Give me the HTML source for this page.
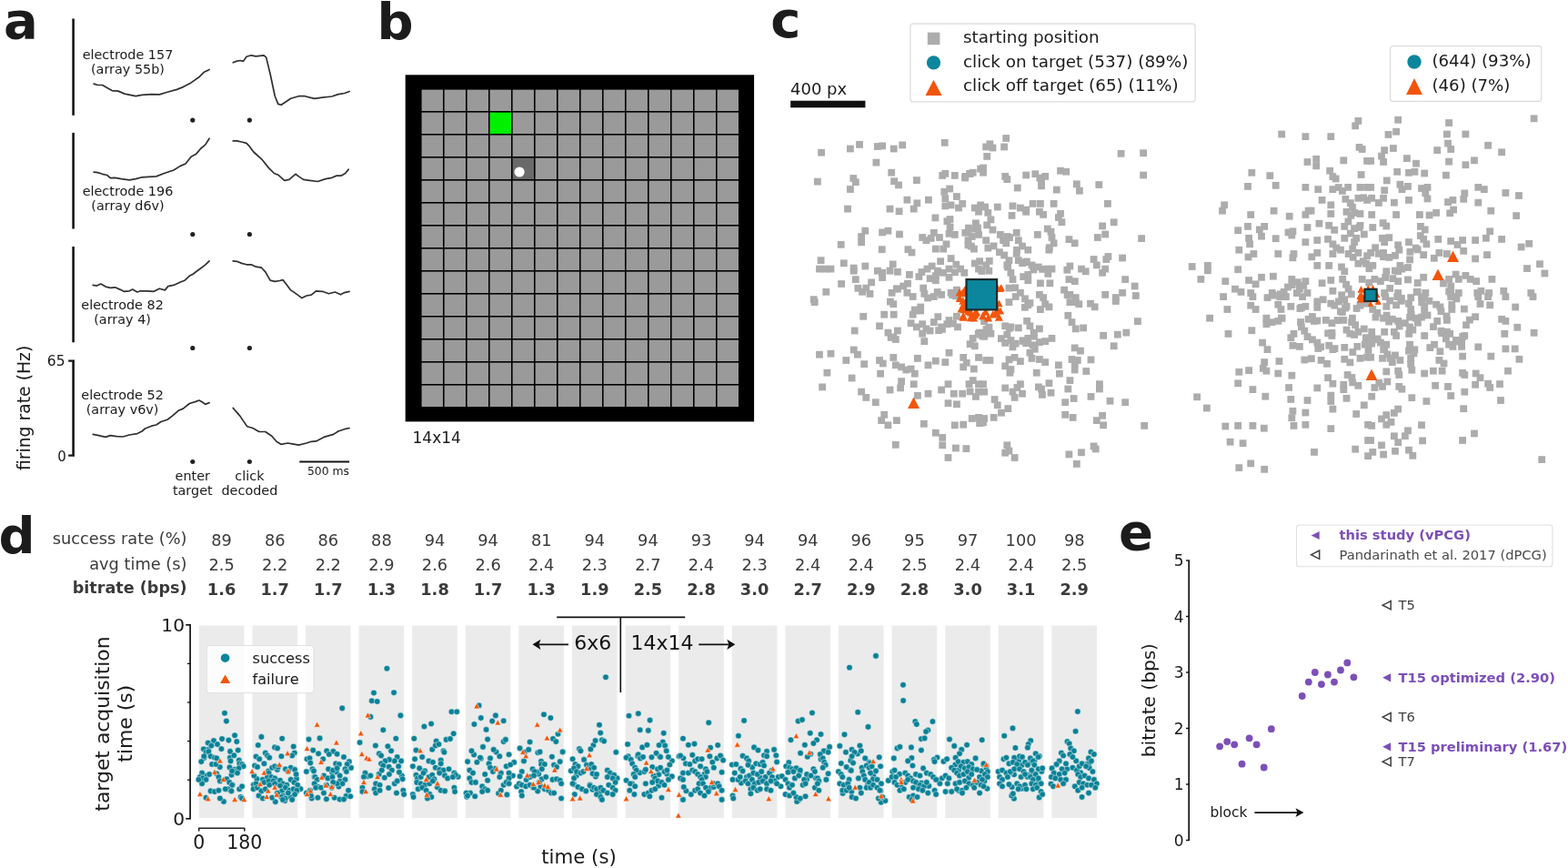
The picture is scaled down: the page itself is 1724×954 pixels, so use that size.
<!DOCTYPE html><html><head><meta charset="utf-8"><title>figure</title><style>html,body{margin:0;padding:0;background:#fff;}svg{display:block;}text{font-family:'DejaVu Sans', 'Liberation Sans', sans-serif;}</style></head><body>
<svg width="1724" height="954" viewBox="0 0 1724 954">
<rect x="0" y="0" width="1724" height="954" fill="#fff"/>
<text x="4" y="42" font-size="56" text-anchor="start" font-weight="bold" fill="#1c1c1c" >a</text>
<text x="414.5" y="43.3" font-size="56" text-anchor="start" font-weight="bold" fill="#1c1c1c" >b</text>
<text x="847.3" y="40.5" font-size="56" text-anchor="start" font-weight="bold" fill="#1c1c1c" >c</text>
<text x="-1.5" y="607.5" font-size="56" text-anchor="start" font-weight="bold" fill="#1c1c1c" >d</text>
<text x="1230" y="604.3" font-size="56" text-anchor="start" font-weight="bold" fill="#1c1c1c" >e</text>
<polyline points="103.1,92.1 107.4,93.5 112.6,93.5 117.8,96.6 123.1,99.6 130,100.1 137,103.1 149.2,105.7 156.1,104.3 166.6,103.6 175.3,103.9 184,101.3 194.4,98.4 201.4,95.6 210.1,90.9 218.8,84.8 224,79.6 230.1,76.4" fill="none" stroke="#303030" stroke-width="1.7" stroke-linejoin="round" stroke-linecap="round" />
<polyline points="256.2,68.8 259.7,67.4 264,66.5 267.5,67.4 271,62.2 276.2,60.8 281.4,61.8 290.1,60.8 292.7,63.1 297.1,81.3 302.3,105.7 305.8,114.4 309.2,115.3 314.5,111.8 319.7,108.3 328.4,105.7 335.3,105.7 340.6,107.1 345.8,108.3 354.5,107.1 364.9,106 371.9,103.6 378.8,102.5 384.1,100.5" fill="none" stroke="#303030" stroke-width="1.7" stroke-linejoin="round" stroke-linecap="round" />
<polyline points="103.1,189.2 107.4,189.6 112.6,191.3 117.8,192.5 121.3,195.7 126.5,195.3 133.5,196.6 142.2,197.8 149.2,196.6 156.1,194.8 163.1,194.3 171.8,193.9 180.5,190.5 190.9,187 197.9,182.6 204,180 210.1,172.2 215.3,169.6 220.5,163.5 225.7,159.1 230.1,152.2" fill="none" stroke="#303030" stroke-width="1.7" stroke-linejoin="round" stroke-linecap="round" />
<polyline points="256.2,154.8 260.5,154.8 265.7,156 271,157.4 274.4,160.9 278.8,167 288.4,175.7 295.3,184.4 301.4,190.5 305.8,192.2 312.7,198.3 317.9,197.4 324.9,191.3 328.4,193.9 333.6,197.4 340.6,198.3 349.3,199.5 358,196.6 364.9,195.3 370.1,193.1 375.4,193.1 379.7,190.5 383.2,186.1" fill="none" stroke="#303030" stroke-width="1.7" stroke-linejoin="round" stroke-linecap="round" />
<polyline points="102.2,313.4 106.5,314.1 110.9,312 116.1,315.1 121.3,316.3 126.5,315.8 131.8,318.1 136.1,320.3 142.2,319.8 145.7,318.1 150.9,321 154.4,319.8 161.3,319.8 169.2,320.3 175.3,317.2 181.4,318.9 184.8,314.6 190.9,313.4 197.9,310.2 203.1,308.2 208.3,303.3 211.8,301.5 218.8,296.3 225.7,291.1 230.1,286.8" fill="none" stroke="#303030" stroke-width="1.7" stroke-linejoin="round" stroke-linecap="round" />
<polyline points="256.2,286.8 260.5,287.3 265.7,289.4 271,290.8 276.2,290.8 281.4,293.2 287.5,294.2 291.8,298.9 297.1,308.2 302.3,309.4 307.5,308.5 311,307.6 314.5,312 319.7,318.9 324.9,322.4 331.9,327.6 337.1,325 342.3,324.2 347.5,319.8 354.5,320.3 361.4,322.8 368.4,321 374.5,323.8 378.8,321.6 384.1,320.3" fill="none" stroke="#303030" stroke-width="1.7" stroke-linejoin="round" stroke-linecap="round" />
<polyline points="102.2,477.4 107.4,478.3 116.1,480.4 121.3,478.6 128.3,479.7 135.2,480 142.2,478 150.9,476.6 156.1,474 159.6,471 166.6,468.2 171.8,467 177,463.5 184,461.2 189.2,457.4 196.1,451.3 201.4,449.1 208.3,443.5 215.3,441.4 218.8,440 222.2,441.8 225.7,444.4 230.1,442.6" fill="none" stroke="#303030" stroke-width="1.7" stroke-linejoin="round" stroke-linecap="round" />
<polyline points="256.2,448.4 264,457.4 267.5,462.6 271.8,468.7 277.9,470.5 284.9,474.5 291.8,474.5 298.8,479.2 304,485.3 309.2,488.4 316.2,487 321.4,487.9 328.4,489.1 337.1,487 342.3,485.3 347.5,484.9 356.2,480.4 366.7,477.4 371.9,474 378.8,471.7 384.1,470.5" fill="none" stroke="#303030" stroke-width="1.7" stroke-linejoin="round" stroke-linecap="round" />
<line x1="80.6" y1="20.5" x2="80.6" y2="126.8" stroke="#151515" stroke-width="2.6" />
<line x1="80.6" y1="145.9" x2="80.6" y2="251.5" stroke="#151515" stroke-width="2.6" />
<line x1="80.6" y1="271" x2="80.6" y2="376.3" stroke="#151515" stroke-width="2.6" />
<line x1="80.6" y1="395.9" x2="80.6" y2="501.3" stroke="#151515" stroke-width="2.6" />
<line x1="75.2" y1="396.6" x2="81.9" y2="396.6" stroke="#151515" stroke-width="2.2" />
<line x1="75.2" y1="500.6" x2="81.9" y2="500.6" stroke="#151515" stroke-width="2.2" />
<text x="71.5" y="401.8" font-size="15.5" text-anchor="end" font-weight="normal" fill="#1a1a1a" >65</text>
<text x="72.8" y="506.5" font-size="15" text-anchor="end" font-weight="normal" fill="#1a1a1a" >0</text>
<circle cx="211.8" cy="132.1" r="2.6" fill="#222"/>
<circle cx="274.4" cy="132.1" r="2.6" fill="#222"/>
<circle cx="211.8" cy="257.5" r="2.6" fill="#222"/>
<circle cx="274.4" cy="257.5" r="2.6" fill="#222"/>
<circle cx="211.8" cy="382.5" r="2.6" fill="#222"/>
<circle cx="274.4" cy="382.5" r="2.6" fill="#222"/>
<circle cx="211.8" cy="507.5" r="2.6" fill="#222"/>
<circle cx="274.4" cy="507.5" r="2.6" fill="#222"/>
<text x="140.5" y="64.6" font-size="14.4" text-anchor="middle" font-weight="normal" fill="#1a1a1a" >electrode 157</text>
<text x="140.5" y="80.7" font-size="14.4" text-anchor="middle" font-weight="normal" fill="#1a1a1a" >(array 55b)</text>
<text x="140.5" y="214.8" font-size="14.4" text-anchor="middle" font-weight="normal" fill="#1a1a1a" >electrode 196</text>
<text x="140.5" y="230.9" font-size="14.4" text-anchor="middle" font-weight="normal" fill="#1a1a1a" >(array d6v)</text>
<text x="134.6" y="339.8" font-size="14.4" text-anchor="middle" font-weight="normal" fill="#1a1a1a" >electrode 82</text>
<text x="134.6" y="355.9" font-size="14.4" text-anchor="middle" font-weight="normal" fill="#1a1a1a" >(array 4)</text>
<text x="134.6" y="439.2" font-size="14.4" text-anchor="middle" font-weight="normal" fill="#1a1a1a" >electrode 52</text>
<text x="134.6" y="455.3" font-size="14.4" text-anchor="middle" font-weight="normal" fill="#1a1a1a" >(array v6v)</text>
<text x="0" y="0" font-size="18.8" text-anchor="middle" fill="#1a1a1a" transform="translate(33.2,448.4) rotate(-90)">firing rate (Hz)</text>
<line x1="329.3" y1="507.5" x2="384.1" y2="507.5" stroke="#151515" stroke-width="2.2" />
<text x="361" y="521.5" font-size="12.4" text-anchor="middle" font-weight="normal" fill="#1a1a1a" >500 ms</text>
<text x="211.8" y="527.5" font-size="14.4" text-anchor="middle" font-weight="normal" fill="#1a1a1a" >enter</text>
<text x="211.8" y="544" font-size="14.4" text-anchor="middle" font-weight="normal" fill="#1a1a1a" >target</text>
<text x="274.4" y="527.5" font-size="14.4" text-anchor="middle" font-weight="normal" fill="#1a1a1a" >click</text>
<text x="274.4" y="544" font-size="14.4" text-anchor="middle" font-weight="normal" fill="#1a1a1a" >decoded</text>
<rect x="445.7" y="82.3" width="383.4" height="381.1" fill="#000"/>
<rect x="463.6" y="98.6" width="23.4" height="23.4" fill="#9a9a9a"/>
<rect x="488.6" y="98.6" width="23.4" height="23.4" fill="#9a9a9a"/>
<rect x="513.6" y="98.6" width="23.4" height="23.4" fill="#9a9a9a"/>
<rect x="538.6" y="98.6" width="23.4" height="23.4" fill="#9a9a9a"/>
<rect x="563.6" y="98.6" width="23.4" height="23.4" fill="#9a9a9a"/>
<rect x="588.6" y="98.6" width="23.4" height="23.4" fill="#9a9a9a"/>
<rect x="613.6" y="98.6" width="23.4" height="23.4" fill="#9a9a9a"/>
<rect x="638.6" y="98.6" width="23.4" height="23.4" fill="#9a9a9a"/>
<rect x="663.6" y="98.6" width="23.4" height="23.4" fill="#9a9a9a"/>
<rect x="688.6" y="98.6" width="23.4" height="23.4" fill="#9a9a9a"/>
<rect x="713.6" y="98.6" width="23.4" height="23.4" fill="#9a9a9a"/>
<rect x="738.6" y="98.6" width="23.4" height="23.4" fill="#9a9a9a"/>
<rect x="763.6" y="98.6" width="23.4" height="23.4" fill="#9a9a9a"/>
<rect x="788.6" y="98.6" width="23.4" height="23.4" fill="#9a9a9a"/>
<rect x="463.6" y="123.6" width="23.4" height="23.4" fill="#9a9a9a"/>
<rect x="488.6" y="123.6" width="23.4" height="23.4" fill="#9a9a9a"/>
<rect x="513.6" y="123.6" width="23.4" height="23.4" fill="#9a9a9a"/>
<rect x="538.6" y="123.6" width="23.4" height="23.4" fill="#00f000"/>
<rect x="563.6" y="123.6" width="23.4" height="23.4" fill="#9a9a9a"/>
<rect x="588.6" y="123.6" width="23.4" height="23.4" fill="#9a9a9a"/>
<rect x="613.6" y="123.6" width="23.4" height="23.4" fill="#9a9a9a"/>
<rect x="638.6" y="123.6" width="23.4" height="23.4" fill="#9a9a9a"/>
<rect x="663.6" y="123.6" width="23.4" height="23.4" fill="#9a9a9a"/>
<rect x="688.6" y="123.6" width="23.4" height="23.4" fill="#9a9a9a"/>
<rect x="713.6" y="123.6" width="23.4" height="23.4" fill="#9a9a9a"/>
<rect x="738.6" y="123.6" width="23.4" height="23.4" fill="#9a9a9a"/>
<rect x="763.6" y="123.6" width="23.4" height="23.4" fill="#9a9a9a"/>
<rect x="788.6" y="123.6" width="23.4" height="23.4" fill="#9a9a9a"/>
<rect x="463.6" y="148.6" width="23.4" height="23.4" fill="#9a9a9a"/>
<rect x="488.6" y="148.6" width="23.4" height="23.4" fill="#9a9a9a"/>
<rect x="513.6" y="148.6" width="23.4" height="23.4" fill="#9a9a9a"/>
<rect x="538.6" y="148.6" width="23.4" height="23.4" fill="#9a9a9a"/>
<rect x="563.6" y="148.6" width="23.4" height="23.4" fill="#9a9a9a"/>
<rect x="588.6" y="148.6" width="23.4" height="23.4" fill="#9a9a9a"/>
<rect x="613.6" y="148.6" width="23.4" height="23.4" fill="#9a9a9a"/>
<rect x="638.6" y="148.6" width="23.4" height="23.4" fill="#9a9a9a"/>
<rect x="663.6" y="148.6" width="23.4" height="23.4" fill="#9a9a9a"/>
<rect x="688.6" y="148.6" width="23.4" height="23.4" fill="#9a9a9a"/>
<rect x="713.6" y="148.6" width="23.4" height="23.4" fill="#9a9a9a"/>
<rect x="738.6" y="148.6" width="23.4" height="23.4" fill="#9a9a9a"/>
<rect x="763.6" y="148.6" width="23.4" height="23.4" fill="#9a9a9a"/>
<rect x="788.6" y="148.6" width="23.4" height="23.4" fill="#9a9a9a"/>
<rect x="463.6" y="173.6" width="23.4" height="23.4" fill="#9a9a9a"/>
<rect x="488.6" y="173.6" width="23.4" height="23.4" fill="#9a9a9a"/>
<rect x="513.6" y="173.6" width="23.4" height="23.4" fill="#9a9a9a"/>
<rect x="538.6" y="173.6" width="23.4" height="23.4" fill="#9a9a9a"/>
<rect x="563.6" y="173.6" width="23.4" height="23.4" fill="#6a6a6a"/>
<rect x="588.6" y="173.6" width="23.4" height="23.4" fill="#9a9a9a"/>
<rect x="613.6" y="173.6" width="23.4" height="23.4" fill="#9a9a9a"/>
<rect x="638.6" y="173.6" width="23.4" height="23.4" fill="#9a9a9a"/>
<rect x="663.6" y="173.6" width="23.4" height="23.4" fill="#9a9a9a"/>
<rect x="688.6" y="173.6" width="23.4" height="23.4" fill="#9a9a9a"/>
<rect x="713.6" y="173.6" width="23.4" height="23.4" fill="#9a9a9a"/>
<rect x="738.6" y="173.6" width="23.4" height="23.4" fill="#9a9a9a"/>
<rect x="763.6" y="173.6" width="23.4" height="23.4" fill="#9a9a9a"/>
<rect x="788.6" y="173.6" width="23.4" height="23.4" fill="#9a9a9a"/>
<rect x="463.6" y="198.6" width="23.4" height="23.4" fill="#9a9a9a"/>
<rect x="488.6" y="198.6" width="23.4" height="23.4" fill="#9a9a9a"/>
<rect x="513.6" y="198.6" width="23.4" height="23.4" fill="#9a9a9a"/>
<rect x="538.6" y="198.6" width="23.4" height="23.4" fill="#9a9a9a"/>
<rect x="563.6" y="198.6" width="23.4" height="23.4" fill="#9a9a9a"/>
<rect x="588.6" y="198.6" width="23.4" height="23.4" fill="#9a9a9a"/>
<rect x="613.6" y="198.6" width="23.4" height="23.4" fill="#9a9a9a"/>
<rect x="638.6" y="198.6" width="23.4" height="23.4" fill="#9a9a9a"/>
<rect x="663.6" y="198.6" width="23.4" height="23.4" fill="#9a9a9a"/>
<rect x="688.6" y="198.6" width="23.4" height="23.4" fill="#9a9a9a"/>
<rect x="713.6" y="198.6" width="23.4" height="23.4" fill="#9a9a9a"/>
<rect x="738.6" y="198.6" width="23.4" height="23.4" fill="#9a9a9a"/>
<rect x="763.6" y="198.6" width="23.4" height="23.4" fill="#9a9a9a"/>
<rect x="788.6" y="198.6" width="23.4" height="23.4" fill="#9a9a9a"/>
<rect x="463.6" y="223.6" width="23.4" height="23.4" fill="#9a9a9a"/>
<rect x="488.6" y="223.6" width="23.4" height="23.4" fill="#9a9a9a"/>
<rect x="513.6" y="223.6" width="23.4" height="23.4" fill="#9a9a9a"/>
<rect x="538.6" y="223.6" width="23.4" height="23.4" fill="#9a9a9a"/>
<rect x="563.6" y="223.6" width="23.4" height="23.4" fill="#9a9a9a"/>
<rect x="588.6" y="223.6" width="23.4" height="23.4" fill="#9a9a9a"/>
<rect x="613.6" y="223.6" width="23.4" height="23.4" fill="#9a9a9a"/>
<rect x="638.6" y="223.6" width="23.4" height="23.4" fill="#9a9a9a"/>
<rect x="663.6" y="223.6" width="23.4" height="23.4" fill="#9a9a9a"/>
<rect x="688.6" y="223.6" width="23.4" height="23.4" fill="#9a9a9a"/>
<rect x="713.6" y="223.6" width="23.4" height="23.4" fill="#9a9a9a"/>
<rect x="738.6" y="223.6" width="23.4" height="23.4" fill="#9a9a9a"/>
<rect x="763.6" y="223.6" width="23.4" height="23.4" fill="#9a9a9a"/>
<rect x="788.6" y="223.6" width="23.4" height="23.4" fill="#9a9a9a"/>
<rect x="463.6" y="248.6" width="23.4" height="23.4" fill="#9a9a9a"/>
<rect x="488.6" y="248.6" width="23.4" height="23.4" fill="#9a9a9a"/>
<rect x="513.6" y="248.6" width="23.4" height="23.4" fill="#9a9a9a"/>
<rect x="538.6" y="248.6" width="23.4" height="23.4" fill="#9a9a9a"/>
<rect x="563.6" y="248.6" width="23.4" height="23.4" fill="#9a9a9a"/>
<rect x="588.6" y="248.6" width="23.4" height="23.4" fill="#9a9a9a"/>
<rect x="613.6" y="248.6" width="23.4" height="23.4" fill="#9a9a9a"/>
<rect x="638.6" y="248.6" width="23.4" height="23.4" fill="#9a9a9a"/>
<rect x="663.6" y="248.6" width="23.4" height="23.4" fill="#9a9a9a"/>
<rect x="688.6" y="248.6" width="23.4" height="23.4" fill="#9a9a9a"/>
<rect x="713.6" y="248.6" width="23.4" height="23.4" fill="#9a9a9a"/>
<rect x="738.6" y="248.6" width="23.4" height="23.4" fill="#9a9a9a"/>
<rect x="763.6" y="248.6" width="23.4" height="23.4" fill="#9a9a9a"/>
<rect x="788.6" y="248.6" width="23.4" height="23.4" fill="#9a9a9a"/>
<rect x="463.6" y="273.6" width="23.4" height="23.4" fill="#9a9a9a"/>
<rect x="488.6" y="273.6" width="23.4" height="23.4" fill="#9a9a9a"/>
<rect x="513.6" y="273.6" width="23.4" height="23.4" fill="#9a9a9a"/>
<rect x="538.6" y="273.6" width="23.4" height="23.4" fill="#9a9a9a"/>
<rect x="563.6" y="273.6" width="23.4" height="23.4" fill="#9a9a9a"/>
<rect x="588.6" y="273.6" width="23.4" height="23.4" fill="#9a9a9a"/>
<rect x="613.6" y="273.6" width="23.4" height="23.4" fill="#9a9a9a"/>
<rect x="638.6" y="273.6" width="23.4" height="23.4" fill="#9a9a9a"/>
<rect x="663.6" y="273.6" width="23.4" height="23.4" fill="#9a9a9a"/>
<rect x="688.6" y="273.6" width="23.4" height="23.4" fill="#9a9a9a"/>
<rect x="713.6" y="273.6" width="23.4" height="23.4" fill="#9a9a9a"/>
<rect x="738.6" y="273.6" width="23.4" height="23.4" fill="#9a9a9a"/>
<rect x="763.6" y="273.6" width="23.4" height="23.4" fill="#9a9a9a"/>
<rect x="788.6" y="273.6" width="23.4" height="23.4" fill="#9a9a9a"/>
<rect x="463.6" y="298.6" width="23.4" height="23.4" fill="#9a9a9a"/>
<rect x="488.6" y="298.6" width="23.4" height="23.4" fill="#9a9a9a"/>
<rect x="513.6" y="298.6" width="23.4" height="23.4" fill="#9a9a9a"/>
<rect x="538.6" y="298.6" width="23.4" height="23.4" fill="#9a9a9a"/>
<rect x="563.6" y="298.6" width="23.4" height="23.4" fill="#9a9a9a"/>
<rect x="588.6" y="298.6" width="23.4" height="23.4" fill="#9a9a9a"/>
<rect x="613.6" y="298.6" width="23.4" height="23.4" fill="#9a9a9a"/>
<rect x="638.6" y="298.6" width="23.4" height="23.4" fill="#9a9a9a"/>
<rect x="663.6" y="298.6" width="23.4" height="23.4" fill="#9a9a9a"/>
<rect x="688.6" y="298.6" width="23.4" height="23.4" fill="#9a9a9a"/>
<rect x="713.6" y="298.6" width="23.4" height="23.4" fill="#9a9a9a"/>
<rect x="738.6" y="298.6" width="23.4" height="23.4" fill="#9a9a9a"/>
<rect x="763.6" y="298.6" width="23.4" height="23.4" fill="#9a9a9a"/>
<rect x="788.6" y="298.6" width="23.4" height="23.4" fill="#9a9a9a"/>
<rect x="463.6" y="323.6" width="23.4" height="23.4" fill="#9a9a9a"/>
<rect x="488.6" y="323.6" width="23.4" height="23.4" fill="#9a9a9a"/>
<rect x="513.6" y="323.6" width="23.4" height="23.4" fill="#9a9a9a"/>
<rect x="538.6" y="323.6" width="23.4" height="23.4" fill="#9a9a9a"/>
<rect x="563.6" y="323.6" width="23.4" height="23.4" fill="#9a9a9a"/>
<rect x="588.6" y="323.6" width="23.4" height="23.4" fill="#9a9a9a"/>
<rect x="613.6" y="323.6" width="23.4" height="23.4" fill="#9a9a9a"/>
<rect x="638.6" y="323.6" width="23.4" height="23.4" fill="#9a9a9a"/>
<rect x="663.6" y="323.6" width="23.4" height="23.4" fill="#9a9a9a"/>
<rect x="688.6" y="323.6" width="23.4" height="23.4" fill="#9a9a9a"/>
<rect x="713.6" y="323.6" width="23.4" height="23.4" fill="#9a9a9a"/>
<rect x="738.6" y="323.6" width="23.4" height="23.4" fill="#9a9a9a"/>
<rect x="763.6" y="323.6" width="23.4" height="23.4" fill="#9a9a9a"/>
<rect x="788.6" y="323.6" width="23.4" height="23.4" fill="#9a9a9a"/>
<rect x="463.6" y="348.6" width="23.4" height="23.4" fill="#9a9a9a"/>
<rect x="488.6" y="348.6" width="23.4" height="23.4" fill="#9a9a9a"/>
<rect x="513.6" y="348.6" width="23.4" height="23.4" fill="#9a9a9a"/>
<rect x="538.6" y="348.6" width="23.4" height="23.4" fill="#9a9a9a"/>
<rect x="563.6" y="348.6" width="23.4" height="23.4" fill="#9a9a9a"/>
<rect x="588.6" y="348.6" width="23.4" height="23.4" fill="#9a9a9a"/>
<rect x="613.6" y="348.6" width="23.4" height="23.4" fill="#9a9a9a"/>
<rect x="638.6" y="348.6" width="23.4" height="23.4" fill="#9a9a9a"/>
<rect x="663.6" y="348.6" width="23.4" height="23.4" fill="#9a9a9a"/>
<rect x="688.6" y="348.6" width="23.4" height="23.4" fill="#9a9a9a"/>
<rect x="713.6" y="348.6" width="23.4" height="23.4" fill="#9a9a9a"/>
<rect x="738.6" y="348.6" width="23.4" height="23.4" fill="#9a9a9a"/>
<rect x="763.6" y="348.6" width="23.4" height="23.4" fill="#9a9a9a"/>
<rect x="788.6" y="348.6" width="23.4" height="23.4" fill="#9a9a9a"/>
<rect x="463.6" y="373.6" width="23.4" height="23.4" fill="#9a9a9a"/>
<rect x="488.6" y="373.6" width="23.4" height="23.4" fill="#9a9a9a"/>
<rect x="513.6" y="373.6" width="23.4" height="23.4" fill="#9a9a9a"/>
<rect x="538.6" y="373.6" width="23.4" height="23.4" fill="#9a9a9a"/>
<rect x="563.6" y="373.6" width="23.4" height="23.4" fill="#9a9a9a"/>
<rect x="588.6" y="373.6" width="23.4" height="23.4" fill="#9a9a9a"/>
<rect x="613.6" y="373.6" width="23.4" height="23.4" fill="#9a9a9a"/>
<rect x="638.6" y="373.6" width="23.4" height="23.4" fill="#9a9a9a"/>
<rect x="663.6" y="373.6" width="23.4" height="23.4" fill="#9a9a9a"/>
<rect x="688.6" y="373.6" width="23.4" height="23.4" fill="#9a9a9a"/>
<rect x="713.6" y="373.6" width="23.4" height="23.4" fill="#9a9a9a"/>
<rect x="738.6" y="373.6" width="23.4" height="23.4" fill="#9a9a9a"/>
<rect x="763.6" y="373.6" width="23.4" height="23.4" fill="#9a9a9a"/>
<rect x="788.6" y="373.6" width="23.4" height="23.4" fill="#9a9a9a"/>
<rect x="463.6" y="398.6" width="23.4" height="23.4" fill="#9a9a9a"/>
<rect x="488.6" y="398.6" width="23.4" height="23.4" fill="#9a9a9a"/>
<rect x="513.6" y="398.6" width="23.4" height="23.4" fill="#9a9a9a"/>
<rect x="538.6" y="398.6" width="23.4" height="23.4" fill="#9a9a9a"/>
<rect x="563.6" y="398.6" width="23.4" height="23.4" fill="#9a9a9a"/>
<rect x="588.6" y="398.6" width="23.4" height="23.4" fill="#9a9a9a"/>
<rect x="613.6" y="398.6" width="23.4" height="23.4" fill="#9a9a9a"/>
<rect x="638.6" y="398.6" width="23.4" height="23.4" fill="#9a9a9a"/>
<rect x="663.6" y="398.6" width="23.4" height="23.4" fill="#9a9a9a"/>
<rect x="688.6" y="398.6" width="23.4" height="23.4" fill="#9a9a9a"/>
<rect x="713.6" y="398.6" width="23.4" height="23.4" fill="#9a9a9a"/>
<rect x="738.6" y="398.6" width="23.4" height="23.4" fill="#9a9a9a"/>
<rect x="763.6" y="398.6" width="23.4" height="23.4" fill="#9a9a9a"/>
<rect x="788.6" y="398.6" width="23.4" height="23.4" fill="#9a9a9a"/>
<rect x="463.6" y="423.6" width="23.4" height="23.4" fill="#9a9a9a"/>
<rect x="488.6" y="423.6" width="23.4" height="23.4" fill="#9a9a9a"/>
<rect x="513.6" y="423.6" width="23.4" height="23.4" fill="#9a9a9a"/>
<rect x="538.6" y="423.6" width="23.4" height="23.4" fill="#9a9a9a"/>
<rect x="563.6" y="423.6" width="23.4" height="23.4" fill="#9a9a9a"/>
<rect x="588.6" y="423.6" width="23.4" height="23.4" fill="#9a9a9a"/>
<rect x="613.6" y="423.6" width="23.4" height="23.4" fill="#9a9a9a"/>
<rect x="638.6" y="423.6" width="23.4" height="23.4" fill="#9a9a9a"/>
<rect x="663.6" y="423.6" width="23.4" height="23.4" fill="#9a9a9a"/>
<rect x="688.6" y="423.6" width="23.4" height="23.4" fill="#9a9a9a"/>
<rect x="713.6" y="423.6" width="23.4" height="23.4" fill="#9a9a9a"/>
<rect x="738.6" y="423.6" width="23.4" height="23.4" fill="#9a9a9a"/>
<rect x="763.6" y="423.6" width="23.4" height="23.4" fill="#9a9a9a"/>
<rect x="788.6" y="423.6" width="23.4" height="23.4" fill="#9a9a9a"/>
<circle cx="571.1" cy="189" r="5.6" fill="#fff"/>
<text x="453.5" y="486.8" font-size="17" text-anchor="start" font-weight="normal" fill="#1a1a1a" >14x14</text>
<rect x="869.2" y="110.7" width="82.2" height="7.6" fill="#111"/>
<text x="869" y="103.7" font-size="18" text-anchor="start" font-weight="normal" fill="#1a1a1a" >400 px</text>
<rect x="1000.9" y="26.2" width="313.2" height="85.6" rx="3" fill="#fff" stroke="#dcdcdc" stroke-width="1.2"/>
<rect x="1019.8" y="35.6" width="13.6" height="13.6" fill="#acacac"/>
<circle cx="1026.5" cy="68.9" r="7.6" fill="#0b869c"/>
<polygon points="1026.5,87.7 1017.5,105.1 1035.5,105.1" fill="#f2550a"/>
<text x="1059" y="46.8" font-size="18.35" text-anchor="start" font-weight="normal" fill="#1a1a1a" >starting position</text>
<text x="1059" y="73.6" font-size="18.35" text-anchor="start" font-weight="normal" fill="#1a1a1a" >click on target (537) (89%)</text>
<text x="1059" y="100.4" font-size="18.35" text-anchor="start" font-weight="normal" fill="#1a1a1a" >click off target (65) (11%)</text>
<rect x="1528.6" y="50.6" width="166.2" height="60.8" rx="3" fill="#fff" stroke="#dcdcdc" stroke-width="1.2"/>
<circle cx="1555" cy="68" r="7.7" fill="#0b869c"/>
<polygon points="1555,85.9 1546.1,103.9 1563.9,103.9" fill="#f2550a"/>
<text x="1574.5" y="73.2" font-size="18.15" text-anchor="start" font-weight="normal" fill="#1a1a1a" >(644) (93%)</text>
<text x="1574.5" y="100" font-size="18.15" text-anchor="start" font-weight="normal" fill="#1a1a1a" >(46) (7%)</text>
<rect x="899.2" y="163.8" width="7.8" height="7.8" fill="#acacac"/>
<rect x="931" y="159.6" width="7.8" height="7.8" fill="#acacac"/>
<rect x="941.1" y="155" width="7.8" height="7.8" fill="#acacac"/>
<rect x="961" y="157.1" width="7.8" height="7.8" fill="#acacac"/>
<rect x="966.2" y="156.5" width="7.8" height="7.8" fill="#acacac"/>
<rect x="978.8" y="159.6" width="7.8" height="7.8" fill="#acacac"/>
<rect x="988.3" y="155.5" width="7.8" height="7.8" fill="#acacac"/>
<rect x="1034.8" y="152.9" width="7.8" height="7.8" fill="#acacac"/>
<rect x="959.5" y="174.7" width="7.8" height="7.8" fill="#acacac"/>
<rect x="895" y="195.7" width="7.8" height="7.8" fill="#acacac"/>
<rect x="934.4" y="192.1" width="7.8" height="7.8" fill="#acacac"/>
<rect x="936.9" y="196.3" width="7.8" height="7.8" fill="#acacac"/>
<rect x="931" y="204.1" width="7.8" height="7.8" fill="#acacac"/>
<rect x="976.3" y="185.8" width="7.8" height="7.8" fill="#acacac"/>
<rect x="979.2" y="195.3" width="7.8" height="7.8" fill="#acacac"/>
<rect x="984.1" y="199.5" width="7.8" height="7.8" fill="#acacac"/>
<rect x="1004" y="194.2" width="7.8" height="7.8" fill="#acacac"/>
<rect x="1032.3" y="189" width="7.8" height="7.8" fill="#acacac"/>
<rect x="1035.4" y="186.9" width="7.8" height="7.8" fill="#acacac"/>
<rect x="1045.9" y="189" width="7.8" height="7.8" fill="#acacac"/>
<rect x="1057.4" y="190" width="7.8" height="7.8" fill="#acacac"/>
<rect x="1062.3" y="187" width="7.8" height="7.8" fill="#acacac"/>
<rect x="1062.7" y="186.9" width="7.8" height="7.8" fill="#acacac"/>
<rect x="1057.2" y="191.6" width="7.8" height="7.8" fill="#acacac"/>
<rect x="1065.8" y="185.8" width="7.8" height="7.8" fill="#acacac"/>
<rect x="1074.2" y="181.7" width="7.8" height="7.8" fill="#acacac"/>
<rect x="993.5" y="215.8" width="7.8" height="7.8" fill="#acacac"/>
<rect x="1004.4" y="219.4" width="7.8" height="7.8" fill="#acacac"/>
<rect x="1000.8" y="225.7" width="7.8" height="7.8" fill="#acacac"/>
<rect x="1017" y="215.8" width="7.8" height="7.8" fill="#acacac"/>
<rect x="1034.4" y="206.8" width="7.8" height="7.8" fill="#acacac"/>
<rect x="1040.3" y="203.6" width="7.8" height="7.8" fill="#acacac"/>
<rect x="1035.4" y="214.2" width="7.8" height="7.8" fill="#acacac"/>
<rect x="1048" y="212.1" width="7.8" height="7.8" fill="#acacac"/>
<rect x="1041.7" y="221.5" width="7.8" height="7.8" fill="#acacac"/>
<rect x="1035.4" y="222.5" width="7.8" height="7.8" fill="#acacac"/>
<rect x="1054.3" y="220" width="7.8" height="7.8" fill="#acacac"/>
<rect x="1050.1" y="224.6" width="7.8" height="7.8" fill="#acacac"/>
<rect x="1067.9" y="224.6" width="7.8" height="7.8" fill="#acacac"/>
<rect x="1072.1" y="228.8" width="7.8" height="7.8" fill="#acacac"/>
<rect x="1074.2" y="221.5" width="7.8" height="7.8" fill="#acacac"/>
<rect x="928.1" y="225.7" width="7.8" height="7.8" fill="#acacac"/>
<rect x="974.6" y="225.7" width="7.8" height="7.8" fill="#acacac"/>
<rect x="984.7" y="228.4" width="7.8" height="7.8" fill="#acacac"/>
<rect x="1024.5" y="235.5" width="7.8" height="7.8" fill="#acacac"/>
<rect x="1037.5" y="239.3" width="7.8" height="7.8" fill="#acacac"/>
<rect x="1040.6" y="237.1" width="7.8" height="7.8" fill="#acacac"/>
<rect x="1040.7" y="245.6" width="7.8" height="7.8" fill="#acacac"/>
<rect x="1069" y="241.4" width="7.8" height="7.8" fill="#acacac"/>
<rect x="1071.1" y="246.6" width="7.8" height="7.8" fill="#acacac"/>
<rect x="947.4" y="249.8" width="7.8" height="7.8" fill="#acacac"/>
<rect x="943.2" y="256.1" width="7.8" height="7.8" fill="#acacac"/>
<rect x="943.2" y="262.4" width="7.8" height="7.8" fill="#acacac"/>
<rect x="966.2" y="251.5" width="7.8" height="7.8" fill="#acacac"/>
<rect x="972.5" y="249.8" width="7.8" height="7.8" fill="#acacac"/>
<rect x="985.1" y="253.6" width="7.8" height="7.8" fill="#acacac"/>
<rect x="1010.3" y="257.1" width="7.8" height="7.8" fill="#acacac"/>
<rect x="1014.5" y="260.3" width="7.8" height="7.8" fill="#acacac"/>
<rect x="1022.9" y="251.9" width="7.8" height="7.8" fill="#acacac"/>
<rect x="1019.8" y="258" width="7.8" height="7.8" fill="#acacac"/>
<rect x="1029.1" y="257.1" width="7.8" height="7.8" fill="#acacac"/>
<rect x="1039.6" y="252.9" width="7.8" height="7.8" fill="#acacac"/>
<rect x="1045.9" y="254" width="7.8" height="7.8" fill="#acacac"/>
<rect x="1057.4" y="251.9" width="7.8" height="7.8" fill="#acacac"/>
<rect x="1061" y="246.7" width="7.8" height="7.8" fill="#acacac"/>
<rect x="1060.6" y="260.3" width="7.8" height="7.8" fill="#acacac"/>
<rect x="1064" y="266.7" width="7.8" height="7.8" fill="#acacac"/>
<rect x="1064.8" y="256.1" width="7.8" height="7.8" fill="#acacac"/>
<rect x="1060.9" y="250.6" width="7.8" height="7.8" fill="#acacac"/>
<rect x="1072.1" y="254" width="7.8" height="7.8" fill="#acacac"/>
<rect x="1068.6" y="247.7" width="7.8" height="7.8" fill="#acacac"/>
<rect x="1060.6" y="265.5" width="7.8" height="7.8" fill="#acacac"/>
<rect x="1067" y="269.7" width="7.8" height="7.8" fill="#acacac"/>
<rect x="920.8" y="264.9" width="7.8" height="7.8" fill="#acacac"/>
<rect x="965.8" y="270.3" width="7.8" height="7.8" fill="#acacac"/>
<rect x="994.5" y="270.3" width="7.8" height="7.8" fill="#acacac"/>
<rect x="998.6" y="273.6" width="7.8" height="7.8" fill="#acacac"/>
<rect x="1024.9" y="269.7" width="7.8" height="7.8" fill="#acacac"/>
<rect x="1033.3" y="269.7" width="7.8" height="7.8" fill="#acacac"/>
<rect x="1036.6" y="264.4" width="7.8" height="7.8" fill="#acacac"/>
<rect x="898.7" y="282.3" width="7.8" height="7.8" fill="#acacac"/>
<rect x="897.1" y="291.7" width="7.8" height="7.8" fill="#acacac"/>
<rect x="903.4" y="291.7" width="7.8" height="7.8" fill="#acacac"/>
<rect x="909.6" y="291.7" width="7.8" height="7.8" fill="#acacac"/>
<rect x="923.9" y="285.4" width="7.8" height="7.8" fill="#acacac"/>
<rect x="934.8" y="290.7" width="7.8" height="7.8" fill="#acacac"/>
<rect x="934.8" y="293.8" width="7.8" height="7.8" fill="#acacac"/>
<rect x="947.4" y="288.6" width="7.8" height="7.8" fill="#acacac"/>
<rect x="961" y="293.8" width="7.8" height="7.8" fill="#acacac"/>
<rect x="966.2" y="295.9" width="7.8" height="7.8" fill="#acacac"/>
<rect x="974.6" y="293.8" width="7.8" height="7.8" fill="#acacac"/>
<rect x="983" y="294.9" width="7.8" height="7.8" fill="#acacac"/>
<rect x="977.8" y="286.5" width="7.8" height="7.8" fill="#acacac"/>
<rect x="966.2" y="301.2" width="7.8" height="7.8" fill="#acacac"/>
<rect x="996" y="298" width="7.8" height="7.8" fill="#acacac"/>
<rect x="1006.5" y="300.1" width="7.8" height="7.8" fill="#acacac"/>
<rect x="1015.5" y="291.7" width="7.8" height="7.8" fill="#acacac"/>
<rect x="1009.5" y="295.1" width="7.8" height="7.8" fill="#acacac"/>
<rect x="1020.8" y="288.6" width="7.8" height="7.8" fill="#acacac"/>
<rect x="1027.1" y="295" width="7.8" height="7.8" fill="#acacac"/>
<rect x="1030.2" y="283.3" width="7.8" height="7.8" fill="#acacac"/>
<rect x="1041.7" y="280.2" width="7.8" height="7.8" fill="#acacac"/>
<rect x="1039.6" y="291.7" width="7.8" height="7.8" fill="#acacac"/>
<rect x="1046" y="295.4" width="7.8" height="7.8" fill="#acacac"/>
<rect x="1027" y="293.8" width="7.8" height="7.8" fill="#acacac"/>
<rect x="1033.3" y="295.9" width="7.8" height="7.8" fill="#acacac"/>
<rect x="1039.6" y="300.9" width="7.8" height="7.8" fill="#acacac"/>
<rect x="1018.7" y="302.2" width="7.8" height="7.8" fill="#acacac"/>
<rect x="1024.9" y="299.2" width="7.8" height="7.8" fill="#acacac"/>
<rect x="1024.9" y="304.3" width="7.8" height="7.8" fill="#acacac"/>
<rect x="1052.2" y="291.7" width="7.8" height="7.8" fill="#acacac"/>
<rect x="1047.4" y="286.8" width="7.8" height="7.8" fill="#acacac"/>
<rect x="1056.4" y="295.9" width="7.8" height="7.8" fill="#acacac"/>
<rect x="1073.2" y="283.3" width="7.8" height="7.8" fill="#acacac"/>
<rect x="1067.9" y="285.6" width="7.8" height="7.8" fill="#acacac"/>
<rect x="1072.1" y="291.7" width="7.8" height="7.8" fill="#acacac"/>
<rect x="1075.4" y="294.1" width="7.8" height="7.8" fill="#acacac"/>
<rect x="921.2" y="308.1" width="7.8" height="7.8" fill="#acacac"/>
<rect x="936.9" y="303.2" width="7.8" height="7.8" fill="#acacac"/>
<rect x="904.4" y="316.9" width="7.8" height="7.8" fill="#acacac"/>
<rect x="944.2" y="316.9" width="7.8" height="7.8" fill="#acacac"/>
<rect x="939.5" y="312.9" width="7.8" height="7.8" fill="#acacac"/>
<rect x="948.4" y="312.7" width="7.8" height="7.8" fill="#acacac"/>
<rect x="954.2" y="306.5" width="7.8" height="7.8" fill="#acacac"/>
<rect x="952.6" y="319" width="7.8" height="7.8" fill="#acacac"/>
<rect x="976.7" y="317.9" width="7.8" height="7.8" fill="#acacac"/>
<rect x="981.9" y="313.5" width="7.8" height="7.8" fill="#acacac"/>
<rect x="983" y="313.7" width="7.8" height="7.8" fill="#acacac"/>
<rect x="989.3" y="310.6" width="7.8" height="7.8" fill="#acacac"/>
<rect x="994.1" y="307.8" width="7.8" height="7.8" fill="#acacac"/>
<rect x="993.5" y="317.9" width="7.8" height="7.8" fill="#acacac"/>
<rect x="999.8" y="322.1" width="7.8" height="7.8" fill="#acacac"/>
<rect x="1011.3" y="312.7" width="7.8" height="7.8" fill="#acacac"/>
<rect x="1012.4" y="319" width="7.8" height="7.8" fill="#acacac"/>
<rect x="1016.2" y="323.6" width="7.8" height="7.8" fill="#acacac"/>
<rect x="1022.9" y="322.1" width="7.8" height="7.8" fill="#acacac"/>
<rect x="1031.2" y="320" width="7.8" height="7.8" fill="#acacac"/>
<rect x="1026.8" y="317.1" width="7.8" height="7.8" fill="#acacac"/>
<rect x="1041.7" y="317.9" width="7.8" height="7.8" fill="#acacac"/>
<rect x="1047" y="321.5" width="7.8" height="7.8" fill="#acacac"/>
<rect x="1048" y="314.8" width="7.8" height="7.8" fill="#acacac"/>
<rect x="1043.2" y="320.3" width="7.8" height="7.8" fill="#acacac"/>
<rect x="890.8" y="325.3" width="7.8" height="7.8" fill="#acacac"/>
<rect x="1102.3" y="148.1" width="7.8" height="7.8" fill="#acacac"/>
<rect x="1100.2" y="157.5" width="7.8" height="7.8" fill="#acacac"/>
<rect x="1084.5" y="154.4" width="7.8" height="7.8" fill="#acacac"/>
<rect x="1087.6" y="158.6" width="7.8" height="7.8" fill="#acacac"/>
<rect x="1080.3" y="157.5" width="7.8" height="7.8" fill="#acacac"/>
<rect x="1081.3" y="168" width="7.8" height="7.8" fill="#acacac"/>
<rect x="1077.1" y="180.6" width="7.8" height="7.8" fill="#acacac"/>
<rect x="1077.1" y="185.8" width="7.8" height="7.8" fill="#acacac"/>
<rect x="1228.7" y="164.9" width="7.8" height="7.8" fill="#acacac"/>
<rect x="1253.2" y="164.3" width="7.8" height="7.8" fill="#acacac"/>
<rect x="1253.2" y="188.6" width="7.8" height="7.8" fill="#acacac"/>
<rect x="1101.3" y="190" width="7.8" height="7.8" fill="#acacac"/>
<rect x="1103.4" y="193.2" width="7.8" height="7.8" fill="#acacac"/>
<rect x="1124.3" y="188.6" width="7.8" height="7.8" fill="#acacac"/>
<rect x="1134.4" y="187.3" width="7.8" height="7.8" fill="#acacac"/>
<rect x="1139.4" y="191.7" width="7.8" height="7.8" fill="#acacac"/>
<rect x="1145.3" y="190" width="7.8" height="7.8" fill="#acacac"/>
<rect x="1141.1" y="195.3" width="7.8" height="7.8" fill="#acacac"/>
<rect x="1141.1" y="200.5" width="7.8" height="7.8" fill="#acacac"/>
<rect x="1162.1" y="183.8" width="7.8" height="7.8" fill="#acacac"/>
<rect x="1168.3" y="184.8" width="7.8" height="7.8" fill="#acacac"/>
<rect x="1114.9" y="202.6" width="7.8" height="7.8" fill="#acacac"/>
<rect x="1157.9" y="204.7" width="7.8" height="7.8" fill="#acacac"/>
<rect x="1179.9" y="198.4" width="7.8" height="7.8" fill="#acacac"/>
<rect x="1183" y="205.8" width="7.8" height="7.8" fill="#acacac"/>
<rect x="1204.4" y="199.1" width="7.8" height="7.8" fill="#acacac"/>
<rect x="1079.2" y="223.6" width="7.8" height="7.8" fill="#acacac"/>
<rect x="1082.4" y="229.9" width="7.8" height="7.8" fill="#acacac"/>
<rect x="1092.9" y="223.6" width="7.8" height="7.8" fill="#acacac"/>
<rect x="1109.6" y="222.5" width="7.8" height="7.8" fill="#acacac"/>
<rect x="1118" y="224.6" width="7.8" height="7.8" fill="#acacac"/>
<rect x="1124.3" y="228.9" width="7.8" height="7.8" fill="#acacac"/>
<rect x="1124.3" y="226.7" width="7.8" height="7.8" fill="#acacac"/>
<rect x="1108.6" y="233" width="7.8" height="7.8" fill="#acacac"/>
<rect x="1131.7" y="220" width="7.8" height="7.8" fill="#acacac"/>
<rect x="1140" y="220" width="7.8" height="7.8" fill="#acacac"/>
<rect x="1139" y="228.8" width="7.8" height="7.8" fill="#acacac"/>
<rect x="1143.2" y="232" width="7.8" height="7.8" fill="#acacac"/>
<rect x="1154.7" y="220" width="7.8" height="7.8" fill="#acacac"/>
<rect x="1162.1" y="230.9" width="7.8" height="7.8" fill="#acacac"/>
<rect x="1160" y="235.1" width="7.8" height="7.8" fill="#acacac"/>
<rect x="1163.5" y="240.3" width="7.8" height="7.8" fill="#acacac"/>
<rect x="1214" y="220" width="7.8" height="7.8" fill="#acacac"/>
<rect x="1081.3" y="243.5" width="7.8" height="7.8" fill="#acacac"/>
<rect x="1085.5" y="237.5" width="7.8" height="7.8" fill="#acacac"/>
<rect x="1087.6" y="248.7" width="7.8" height="7.8" fill="#acacac"/>
<rect x="1096" y="254" width="7.8" height="7.8" fill="#acacac"/>
<rect x="1099.2" y="260.3" width="7.8" height="7.8" fill="#acacac"/>
<rect x="1103.7" y="256.1" width="7.8" height="7.8" fill="#acacac"/>
<rect x="1102.3" y="263.4" width="7.8" height="7.8" fill="#acacac"/>
<rect x="1106.1" y="257.2" width="7.8" height="7.8" fill="#acacac"/>
<rect x="1080.3" y="260.3" width="7.8" height="7.8" fill="#acacac"/>
<rect x="1082.4" y="268.7" width="7.8" height="7.8" fill="#acacac"/>
<rect x="1088.6" y="266.5" width="7.8" height="7.8" fill="#acacac"/>
<rect x="1113.8" y="251.9" width="7.8" height="7.8" fill="#acacac"/>
<rect x="1115.9" y="260.3" width="7.8" height="7.8" fill="#acacac"/>
<rect x="1120.1" y="266.6" width="7.8" height="7.8" fill="#acacac"/>
<rect x="1114.1" y="270.9" width="7.8" height="7.8" fill="#acacac"/>
<rect x="1126.4" y="270.8" width="7.8" height="7.8" fill="#acacac"/>
<rect x="1136.9" y="254" width="7.8" height="7.8" fill="#acacac"/>
<rect x="1151.6" y="250.8" width="7.8" height="7.8" fill="#acacac"/>
<rect x="1147.9" y="247.6" width="7.8" height="7.8" fill="#acacac"/>
<rect x="1152.6" y="257.1" width="7.8" height="7.8" fill="#acacac"/>
<rect x="1154.7" y="263.4" width="7.8" height="7.8" fill="#acacac"/>
<rect x="1149.9" y="268.3" width="7.8" height="7.8" fill="#acacac"/>
<rect x="1149.5" y="270.8" width="7.8" height="7.8" fill="#acacac"/>
<rect x="1171.5" y="259.2" width="7.8" height="7.8" fill="#acacac"/>
<rect x="1177.8" y="263.4" width="7.8" height="7.8" fill="#acacac"/>
<rect x="1208.2" y="244.5" width="7.8" height="7.8" fill="#acacac"/>
<rect x="1220.8" y="240.4" width="7.8" height="7.8" fill="#acacac"/>
<rect x="1202.9" y="257.1" width="7.8" height="7.8" fill="#acacac"/>
<rect x="1211.3" y="253.6" width="7.8" height="7.8" fill="#acacac"/>
<rect x="1251.2" y="258.2" width="7.8" height="7.8" fill="#acacac"/>
<rect x="1100.2" y="276.6" width="7.8" height="7.8" fill="#acacac"/>
<rect x="1095" y="273.3" width="7.8" height="7.8" fill="#acacac"/>
<rect x="1105.5" y="282.3" width="7.8" height="7.8" fill="#acacac"/>
<rect x="1103.4" y="287.5" width="7.8" height="7.8" fill="#acacac"/>
<rect x="1113.8" y="274.9" width="7.8" height="7.8" fill="#acacac"/>
<rect x="1115.9" y="282.3" width="7.8" height="7.8" fill="#acacac"/>
<rect x="1120.2" y="285.3" width="7.8" height="7.8" fill="#acacac"/>
<rect x="1123.3" y="284.4" width="7.8" height="7.8" fill="#acacac"/>
<rect x="1130.6" y="287.5" width="7.8" height="7.8" fill="#acacac"/>
<rect x="1124.9" y="283.6" width="7.8" height="7.8" fill="#acacac"/>
<rect x="1137.9" y="289.6" width="7.8" height="7.8" fill="#acacac"/>
<rect x="1132.4" y="292.6" width="7.8" height="7.8" fill="#acacac"/>
<rect x="1147.4" y="291.7" width="7.8" height="7.8" fill="#acacac"/>
<rect x="1152.6" y="291.7" width="7.8" height="7.8" fill="#acacac"/>
<rect x="1148.4" y="297" width="7.8" height="7.8" fill="#acacac"/>
<rect x="1142.2" y="292" width="7.8" height="7.8" fill="#acacac"/>
<rect x="1172.5" y="288.6" width="7.8" height="7.8" fill="#acacac"/>
<rect x="1169.4" y="292.8" width="7.8" height="7.8" fill="#acacac"/>
<rect x="1185.1" y="291.7" width="7.8" height="7.8" fill="#acacac"/>
<rect x="1189.8" y="294.4" width="7.8" height="7.8" fill="#acacac"/>
<rect x="1201.9" y="287.5" width="7.8" height="7.8" fill="#acacac"/>
<rect x="1198.7" y="281.1" width="7.8" height="7.8" fill="#acacac"/>
<rect x="1212.4" y="281.2" width="7.8" height="7.8" fill="#acacac"/>
<rect x="1214.5" y="278.1" width="7.8" height="7.8" fill="#acacac"/>
<rect x="1211.3" y="291.7" width="7.8" height="7.8" fill="#acacac"/>
<rect x="1208.2" y="295.9" width="7.8" height="7.8" fill="#acacac"/>
<rect x="1230.2" y="279.6" width="7.8" height="7.8" fill="#acacac"/>
<rect x="1126.4" y="298" width="7.8" height="7.8" fill="#acacac"/>
<rect x="1121.3" y="300.2" width="7.8" height="7.8" fill="#acacac"/>
<rect x="1126.4" y="304.3" width="7.8" height="7.8" fill="#acacac"/>
<rect x="1107.5" y="295.9" width="7.8" height="7.8" fill="#acacac"/>
<rect x="1104.2" y="289.7" width="7.8" height="7.8" fill="#acacac"/>
<rect x="1109.6" y="303.2" width="7.8" height="7.8" fill="#acacac"/>
<rect x="1140" y="307.4" width="7.8" height="7.8" fill="#acacac"/>
<rect x="1150.5" y="307.4" width="7.8" height="7.8" fill="#acacac"/>
<rect x="1171.5" y="303.2" width="7.8" height="7.8" fill="#acacac"/>
<rect x="1177.9" y="305.3" width="7.8" height="7.8" fill="#acacac"/>
<rect x="1233.3" y="303.2" width="7.8" height="7.8" fill="#acacac"/>
<rect x="1243.8" y="310.6" width="7.8" height="7.8" fill="#acacac"/>
<rect x="1080.3" y="287.5" width="7.8" height="7.8" fill="#acacac"/>
<rect x="1083.9" y="283" width="7.8" height="7.8" fill="#acacac"/>
<rect x="1083.4" y="293.8" width="7.8" height="7.8" fill="#acacac"/>
<rect x="1105.5" y="312.7" width="7.8" height="7.8" fill="#acacac"/>
<rect x="1112.8" y="322.1" width="7.8" height="7.8" fill="#acacac"/>
<rect x="1118" y="317.9" width="7.8" height="7.8" fill="#acacac"/>
<rect x="1112.2" y="312.4" width="7.8" height="7.8" fill="#acacac"/>
<rect x="1139" y="320" width="7.8" height="7.8" fill="#acacac"/>
<rect x="1143.2" y="323.2" width="7.8" height="7.8" fill="#acacac"/>
<rect x="1166.2" y="314.8" width="7.8" height="7.8" fill="#acacac"/>
<rect x="1169.7" y="320.4" width="7.8" height="7.8" fill="#acacac"/>
<rect x="1172.5" y="320" width="7.8" height="7.8" fill="#acacac"/>
<rect x="1178.8" y="323.2" width="7.8" height="7.8" fill="#acacac"/>
<rect x="1211.3" y="320" width="7.8" height="7.8" fill="#acacac"/>
<rect x="1230.2" y="317.9" width="7.8" height="7.8" fill="#acacac"/>
<rect x="1222.9" y="323.2" width="7.8" height="7.8" fill="#acacac"/>
<rect x="1244.9" y="321.1" width="7.8" height="7.8" fill="#acacac"/>
<rect x="891.8" y="328.2" width="7.8" height="7.8" fill="#acacac"/>
<rect x="978.4" y="330.3" width="7.8" height="7.8" fill="#acacac"/>
<rect x="975" y="327.7" width="7.8" height="7.8" fill="#acacac"/>
<rect x="945.3" y="343.9" width="7.8" height="7.8" fill="#acacac"/>
<rect x="968.3" y="341.8" width="7.8" height="7.8" fill="#acacac"/>
<rect x="978.8" y="341.8" width="7.8" height="7.8" fill="#acacac"/>
<rect x="963.1" y="354.4" width="7.8" height="7.8" fill="#acacac"/>
<rect x="935.8" y="359.6" width="7.8" height="7.8" fill="#acacac"/>
<rect x="972.5" y="361.7" width="7.8" height="7.8" fill="#acacac"/>
<rect x="978.4" y="366.5" width="7.8" height="7.8" fill="#acacac"/>
<rect x="975.7" y="367" width="7.8" height="7.8" fill="#acacac"/>
<rect x="980.9" y="369.1" width="7.8" height="7.8" fill="#acacac"/>
<rect x="983" y="359.6" width="7.8" height="7.8" fill="#acacac"/>
<rect x="1001.9" y="336.6" width="7.8" height="7.8" fill="#acacac"/>
<rect x="1008.3" y="333.6" width="7.8" height="7.8" fill="#acacac"/>
<rect x="1008.2" y="337.6" width="7.8" height="7.8" fill="#acacac"/>
<rect x="999.8" y="341.8" width="7.8" height="7.8" fill="#acacac"/>
<rect x="1003.2" y="337.5" width="7.8" height="7.8" fill="#acacac"/>
<rect x="997.7" y="351.3" width="7.8" height="7.8" fill="#acacac"/>
<rect x="1004" y="355.5" width="7.8" height="7.8" fill="#acacac"/>
<rect x="1010.3" y="352.3" width="7.8" height="7.8" fill="#acacac"/>
<rect x="1014.5" y="357.5" width="7.8" height="7.8" fill="#acacac"/>
<rect x="1010.3" y="362.8" width="7.8" height="7.8" fill="#acacac"/>
<rect x="1018.7" y="359.6" width="7.8" height="7.8" fill="#acacac"/>
<rect x="1022.9" y="350.2" width="7.8" height="7.8" fill="#acacac"/>
<rect x="1027.4" y="344.2" width="7.8" height="7.8" fill="#acacac"/>
<rect x="1031.2" y="355.5" width="7.8" height="7.8" fill="#acacac"/>
<rect x="1028.2" y="359.2" width="7.8" height="7.8" fill="#acacac"/>
<rect x="1037.5" y="352.3" width="7.8" height="7.8" fill="#acacac"/>
<rect x="1032" y="358" width="7.8" height="7.8" fill="#acacac"/>
<rect x="1039.6" y="348.1" width="7.8" height="7.8" fill="#acacac"/>
<rect x="1044" y="351.7" width="7.8" height="7.8" fill="#acacac"/>
<rect x="1048" y="343.9" width="7.8" height="7.8" fill="#acacac"/>
<rect x="1049.1" y="355.5" width="7.8" height="7.8" fill="#acacac"/>
<rect x="1012.4" y="371.2" width="7.8" height="7.8" fill="#acacac"/>
<rect x="897.1" y="385.8" width="7.8" height="7.8" fill="#acacac"/>
<rect x="909.6" y="384.8" width="7.8" height="7.8" fill="#acacac"/>
<rect x="926.4" y="392.1" width="7.8" height="7.8" fill="#acacac"/>
<rect x="934.8" y="380.6" width="7.8" height="7.8" fill="#acacac"/>
<rect x="939" y="385.8" width="7.8" height="7.8" fill="#acacac"/>
<rect x="946.3" y="396.3" width="7.8" height="7.8" fill="#acacac"/>
<rect x="963.1" y="392.1" width="7.8" height="7.8" fill="#acacac"/>
<rect x="966.9" y="395.6" width="7.8" height="7.8" fill="#acacac"/>
<rect x="978.4" y="389" width="7.8" height="7.8" fill="#acacac"/>
<rect x="980.9" y="397.4" width="7.8" height="7.8" fill="#acacac"/>
<rect x="987.2" y="399.5" width="7.8" height="7.8" fill="#acacac"/>
<rect x="992.5" y="402.6" width="7.8" height="7.8" fill="#acacac"/>
<rect x="997.7" y="401.6" width="7.8" height="7.8" fill="#acacac"/>
<rect x="1001.9" y="406.8" width="7.8" height="7.8" fill="#acacac"/>
<rect x="1005" y="390" width="7.8" height="7.8" fill="#acacac"/>
<rect x="1016.6" y="397.4" width="7.8" height="7.8" fill="#acacac"/>
<rect x="1024.9" y="392.8" width="7.8" height="7.8" fill="#acacac"/>
<rect x="1035.4" y="394.2" width="7.8" height="7.8" fill="#acacac"/>
<rect x="1039.6" y="383.8" width="7.8" height="7.8" fill="#acacac"/>
<rect x="1055.3" y="389" width="7.8" height="7.8" fill="#acacac"/>
<rect x="1058.8" y="394.9" width="7.8" height="7.8" fill="#acacac"/>
<rect x="1055.3" y="399.5" width="7.8" height="7.8" fill="#acacac"/>
<rect x="1066.9" y="401.6" width="7.8" height="7.8" fill="#acacac"/>
<rect x="1065.8" y="368" width="7.8" height="7.8" fill="#acacac"/>
<rect x="1071.8" y="363" width="7.8" height="7.8" fill="#acacac"/>
<rect x="1067.9" y="376.4" width="7.8" height="7.8" fill="#acacac"/>
<rect x="1062.7" y="374.3" width="7.8" height="7.8" fill="#acacac"/>
<rect x="1072.1" y="389" width="7.8" height="7.8" fill="#acacac"/>
<rect x="1073.2" y="361.7" width="7.8" height="7.8" fill="#acacac"/>
<rect x="1076.3" y="365.4" width="7.8" height="7.8" fill="#acacac"/>
<rect x="905.5" y="405.8" width="7.8" height="7.8" fill="#acacac"/>
<rect x="932.7" y="411.6" width="7.8" height="7.8" fill="#acacac"/>
<rect x="964.2" y="406.8" width="7.8" height="7.8" fill="#acacac"/>
<rect x="900.2" y="421.5" width="7.8" height="7.8" fill="#acacac"/>
<rect x="943.2" y="426.7" width="7.8" height="7.8" fill="#acacac"/>
<rect x="948.4" y="433" width="7.8" height="7.8" fill="#acacac"/>
<rect x="958.9" y="438.3" width="7.8" height="7.8" fill="#acacac"/>
<rect x="974.6" y="424.6" width="7.8" height="7.8" fill="#acacac"/>
<rect x="986.2" y="422.5" width="7.8" height="7.8" fill="#acacac"/>
<rect x="987.2" y="415.2" width="7.8" height="7.8" fill="#acacac"/>
<rect x="1000.8" y="418.3" width="7.8" height="7.8" fill="#acacac"/>
<rect x="1005" y="430.9" width="7.8" height="7.8" fill="#acacac"/>
<rect x="1016.6" y="428.8" width="7.8" height="7.8" fill="#acacac"/>
<rect x="1031.2" y="424.6" width="7.8" height="7.8" fill="#acacac"/>
<rect x="1038.6" y="418.3" width="7.8" height="7.8" fill="#acacac"/>
<rect x="1044.9" y="428.8" width="7.8" height="7.8" fill="#acacac"/>
<rect x="1054.3" y="428.8" width="7.8" height="7.8" fill="#acacac"/>
<rect x="1061.6" y="418.3" width="7.8" height="7.8" fill="#acacac"/>
<rect x="1065.8" y="414.2" width="7.8" height="7.8" fill="#acacac"/>
<rect x="1072.1" y="418.3" width="7.8" height="7.8" fill="#acacac"/>
<rect x="1072.1" y="426.7" width="7.8" height="7.8" fill="#acacac"/>
<rect x="1069" y="432" width="7.8" height="7.8" fill="#acacac"/>
<rect x="1062.7" y="426.5" width="7.8" height="7.8" fill="#acacac"/>
<rect x="1038.6" y="439.3" width="7.8" height="7.8" fill="#acacac"/>
<rect x="1048" y="440.4" width="7.8" height="7.8" fill="#acacac"/>
<rect x="968.3" y="451.9" width="7.8" height="7.8" fill="#acacac"/>
<rect x="965.2" y="458.2" width="7.8" height="7.8" fill="#acacac"/>
<rect x="972.5" y="463.4" width="7.8" height="7.8" fill="#acacac"/>
<rect x="982" y="458.2" width="7.8" height="7.8" fill="#acacac"/>
<rect x="1011.9" y="461.9" width="7.8" height="7.8" fill="#acacac"/>
<rect x="1045.9" y="463.4" width="7.8" height="7.8" fill="#acacac"/>
<rect x="1055.3" y="462.8" width="7.8" height="7.8" fill="#acacac"/>
<rect x="1064.8" y="456.1" width="7.8" height="7.8" fill="#acacac"/>
<rect x="1072.1" y="455" width="7.8" height="7.8" fill="#acacac"/>
<rect x="1075.6" y="460.7" width="7.8" height="7.8" fill="#acacac"/>
<rect x="1073.2" y="461.3" width="7.8" height="7.8" fill="#acacac"/>
<rect x="1024.9" y="471.8" width="7.8" height="7.8" fill="#acacac"/>
<rect x="1032.3" y="477" width="7.8" height="7.8" fill="#acacac"/>
<rect x="1032.3" y="485.4" width="7.8" height="7.8" fill="#acacac"/>
<rect x="980.9" y="485" width="7.8" height="7.8" fill="#acacac"/>
<rect x="1047" y="488.6" width="7.8" height="7.8" fill="#acacac"/>
<rect x="1058.5" y="489.2" width="7.8" height="7.8" fill="#acacac"/>
<rect x="1038.6" y="499.1" width="7.8" height="7.8" fill="#acacac"/>
<rect x="1105.5" y="328.2" width="7.8" height="7.8" fill="#acacac"/>
<rect x="1126.4" y="331.3" width="7.8" height="7.8" fill="#acacac"/>
<rect x="1123" y="333.9" width="7.8" height="7.8" fill="#acacac"/>
<rect x="1128.5" y="329.2" width="7.8" height="7.8" fill="#acacac"/>
<rect x="1123.1" y="324.4" width="7.8" height="7.8" fill="#acacac"/>
<rect x="1145.3" y="330.3" width="7.8" height="7.8" fill="#acacac"/>
<rect x="1140" y="336.2" width="7.8" height="7.8" fill="#acacac"/>
<rect x="1149.5" y="333.4" width="7.8" height="7.8" fill="#acacac"/>
<rect x="1172.5" y="328.2" width="7.8" height="7.8" fill="#acacac"/>
<rect x="1178.8" y="328.2" width="7.8" height="7.8" fill="#acacac"/>
<rect x="1182.4" y="330.3" width="7.8" height="7.8" fill="#acacac"/>
<rect x="1199.8" y="333.4" width="7.8" height="7.8" fill="#acacac"/>
<rect x="1195.1" y="329.8" width="7.8" height="7.8" fill="#acacac"/>
<rect x="1222.9" y="327.1" width="7.8" height="7.8" fill="#acacac"/>
<rect x="1170.4" y="342.9" width="7.8" height="7.8" fill="#acacac"/>
<rect x="1174.6" y="350.2" width="7.8" height="7.8" fill="#acacac"/>
<rect x="1178.8" y="357.5" width="7.8" height="7.8" fill="#acacac"/>
<rect x="1187.2" y="356.5" width="7.8" height="7.8" fill="#acacac"/>
<rect x="1247" y="349.2" width="7.8" height="7.8" fill="#acacac"/>
<rect x="1209.2" y="364.9" width="7.8" height="7.8" fill="#acacac"/>
<rect x="1224.9" y="363.8" width="7.8" height="7.8" fill="#acacac"/>
<rect x="1234.4" y="361.7" width="7.8" height="7.8" fill="#acacac"/>
<rect x="1220.8" y="376.4" width="7.8" height="7.8" fill="#acacac"/>
<rect x="1078.2" y="349.2" width="7.8" height="7.8" fill="#acacac"/>
<rect x="1083.6" y="355.7" width="7.8" height="7.8" fill="#acacac"/>
<rect x="1082.4" y="357.5" width="7.8" height="7.8" fill="#acacac"/>
<rect x="1078.2" y="365.9" width="7.8" height="7.8" fill="#acacac"/>
<rect x="1074.1" y="363.8" width="7.8" height="7.8" fill="#acacac"/>
<rect x="1085.5" y="362.8" width="7.8" height="7.8" fill="#acacac"/>
<rect x="1080.6" y="358.2" width="7.8" height="7.8" fill="#acacac"/>
<rect x="1101.3" y="354.4" width="7.8" height="7.8" fill="#acacac"/>
<rect x="1106" y="356.9" width="7.8" height="7.8" fill="#acacac"/>
<rect x="1107.5" y="355.5" width="7.8" height="7.8" fill="#acacac"/>
<rect x="1115.9" y="356.5" width="7.8" height="7.8" fill="#acacac"/>
<rect x="1103.4" y="363.8" width="7.8" height="7.8" fill="#acacac"/>
<rect x="1097" y="368.2" width="7.8" height="7.8" fill="#acacac"/>
<rect x="1107.5" y="370.1" width="7.8" height="7.8" fill="#acacac"/>
<rect x="1101.2" y="373" width="7.8" height="7.8" fill="#acacac"/>
<rect x="1109.6" y="377.5" width="7.8" height="7.8" fill="#acacac"/>
<rect x="1112.8" y="373.7" width="7.8" height="7.8" fill="#acacac"/>
<rect x="1128.5" y="354.4" width="7.8" height="7.8" fill="#acacac"/>
<rect x="1125.2" y="348.9" width="7.8" height="7.8" fill="#acacac"/>
<rect x="1139" y="357.5" width="7.8" height="7.8" fill="#acacac"/>
<rect x="1132.7" y="361.7" width="7.8" height="7.8" fill="#acacac"/>
<rect x="1126.4" y="368" width="7.8" height="7.8" fill="#acacac"/>
<rect x="1120.6" y="370.4" width="7.8" height="7.8" fill="#acacac"/>
<rect x="1124.3" y="373.3" width="7.8" height="7.8" fill="#acacac"/>
<rect x="1121.2" y="371.1" width="7.8" height="7.8" fill="#acacac"/>
<rect x="1131.7" y="375.4" width="7.8" height="7.8" fill="#acacac"/>
<rect x="1139" y="372.2" width="7.8" height="7.8" fill="#acacac"/>
<rect x="1133" y="365.8" width="7.8" height="7.8" fill="#acacac"/>
<rect x="1145.3" y="371.2" width="7.8" height="7.8" fill="#acacac"/>
<rect x="1152.6" y="368" width="7.8" height="7.8" fill="#acacac"/>
<rect x="1177.8" y="378.5" width="7.8" height="7.8" fill="#acacac"/>
<rect x="1184.1" y="381.7" width="7.8" height="7.8" fill="#acacac"/>
<rect x="1174.6" y="391.1" width="7.8" height="7.8" fill="#acacac"/>
<rect x="1177.9" y="395.2" width="7.8" height="7.8" fill="#acacac"/>
<rect x="1180.9" y="392.1" width="7.8" height="7.8" fill="#acacac"/>
<rect x="1195.6" y="391.5" width="7.8" height="7.8" fill="#acacac"/>
<rect x="1080.3" y="392.1" width="7.8" height="7.8" fill="#acacac"/>
<rect x="1084.5" y="392.1" width="7.8" height="7.8" fill="#acacac"/>
<rect x="1111.7" y="389" width="7.8" height="7.8" fill="#acacac"/>
<rect x="1105.6" y="391.3" width="7.8" height="7.8" fill="#acacac"/>
<rect x="1118" y="393.2" width="7.8" height="7.8" fill="#acacac"/>
<rect x="1101.3" y="398.4" width="7.8" height="7.8" fill="#acacac"/>
<rect x="1107.5" y="402.1" width="7.8" height="7.8" fill="#acacac"/>
<rect x="1106.5" y="405.8" width="7.8" height="7.8" fill="#acacac"/>
<rect x="1128.5" y="383.8" width="7.8" height="7.8" fill="#acacac"/>
<rect x="1133.9" y="379.8" width="7.8" height="7.8" fill="#acacac"/>
<rect x="1130.6" y="390" width="7.8" height="7.8" fill="#acacac"/>
<rect x="1139" y="391.1" width="7.8" height="7.8" fill="#acacac"/>
<rect x="1145.3" y="394.2" width="7.8" height="7.8" fill="#acacac"/>
<rect x="1160" y="397.4" width="7.8" height="7.8" fill="#acacac"/>
<rect x="1161" y="406.8" width="7.8" height="7.8" fill="#acacac"/>
<rect x="1135.8" y="405.8" width="7.8" height="7.8" fill="#acacac"/>
<rect x="1177.8" y="402.6" width="7.8" height="7.8" fill="#acacac"/>
<rect x="1190.4" y="404.1" width="7.8" height="7.8" fill="#acacac"/>
<rect x="1077.1" y="418.3" width="7.8" height="7.8" fill="#acacac"/>
<rect x="1078.2" y="426.7" width="7.8" height="7.8" fill="#acacac"/>
<rect x="1101.3" y="422.5" width="7.8" height="7.8" fill="#acacac"/>
<rect x="1109.6" y="426.7" width="7.8" height="7.8" fill="#acacac"/>
<rect x="1114.5" y="422.1" width="7.8" height="7.8" fill="#acacac"/>
<rect x="1111.7" y="433" width="7.8" height="7.8" fill="#acacac"/>
<rect x="1118" y="418.3" width="7.8" height="7.8" fill="#acacac"/>
<rect x="1120.1" y="428.8" width="7.8" height="7.8" fill="#acacac"/>
<rect x="1141.1" y="423.6" width="7.8" height="7.8" fill="#acacac"/>
<rect x="1138" y="421.5" width="7.8" height="7.8" fill="#acacac"/>
<rect x="1142.1" y="429.9" width="7.8" height="7.8" fill="#acacac"/>
<rect x="1149.5" y="417.3" width="7.8" height="7.8" fill="#acacac"/>
<rect x="1151.6" y="427.8" width="7.8" height="7.8" fill="#acacac"/>
<rect x="1172.5" y="414.2" width="7.8" height="7.8" fill="#acacac"/>
<rect x="1170.4" y="423.6" width="7.8" height="7.8" fill="#acacac"/>
<rect x="1176.7" y="434.1" width="7.8" height="7.8" fill="#acacac"/>
<rect x="1167.3" y="438.3" width="7.8" height="7.8" fill="#acacac"/>
<rect x="1195.6" y="432" width="7.8" height="7.8" fill="#acacac"/>
<rect x="1205" y="418.3" width="7.8" height="7.8" fill="#acacac"/>
<rect x="1205" y="423.6" width="7.8" height="7.8" fill="#acacac"/>
<rect x="1216.6" y="436.8" width="7.8" height="7.8" fill="#acacac"/>
<rect x="1233.3" y="438.3" width="7.8" height="7.8" fill="#acacac"/>
<rect x="1089.7" y="435.1" width="7.8" height="7.8" fill="#acacac"/>
<rect x="1092.8" y="441.4" width="7.8" height="7.8" fill="#acacac"/>
<rect x="1104.4" y="445.2" width="7.8" height="7.8" fill="#acacac"/>
<rect x="1097.1" y="449.8" width="7.8" height="7.8" fill="#acacac"/>
<rect x="1088.7" y="455" width="7.8" height="7.8" fill="#acacac"/>
<rect x="1078.2" y="456.1" width="7.8" height="7.8" fill="#acacac"/>
<rect x="1077.1" y="460.3" width="7.8" height="7.8" fill="#acacac"/>
<rect x="1167.3" y="451.9" width="7.8" height="7.8" fill="#acacac"/>
<rect x="1175.7" y="455" width="7.8" height="7.8" fill="#acacac"/>
<rect x="1201.9" y="458.2" width="7.8" height="7.8" fill="#acacac"/>
<rect x="1208.2" y="452.9" width="7.8" height="7.8" fill="#acacac"/>
<rect x="1209.2" y="463.4" width="7.8" height="7.8" fill="#acacac"/>
<rect x="1254.3" y="464" width="7.8" height="7.8" fill="#acacac"/>
<rect x="1103.4" y="485.4" width="7.8" height="7.8" fill="#acacac"/>
<rect x="1105.5" y="491.7" width="7.8" height="7.8" fill="#acacac"/>
<rect x="1101.3" y="493.8" width="7.8" height="7.8" fill="#acacac"/>
<rect x="1111.7" y="499.1" width="7.8" height="7.8" fill="#acacac"/>
<rect x="1171.5" y="495.5" width="7.8" height="7.8" fill="#acacac"/>
<rect x="1185.1" y="493.4" width="7.8" height="7.8" fill="#acacac"/>
<rect x="1198.7" y="486.5" width="7.8" height="7.8" fill="#acacac"/>
<rect x="1200.8" y="489.6" width="7.8" height="7.8" fill="#acacac"/>
<rect x="1179.9" y="506" width="7.8" height="7.8" fill="#acacac"/>
<rect x="1489.5" y="129" width="7.8" height="7.8" fill="#acacac"/>
<rect x="1486.3" y="134.4" width="7.8" height="7.8" fill="#acacac"/>
<rect x="1405.3" y="143.6" width="7.8" height="7.8" fill="#acacac"/>
<rect x="1431.5" y="146.2" width="7.8" height="7.8" fill="#acacac"/>
<rect x="1459.4" y="146.2" width="7.8" height="7.8" fill="#acacac"/>
<rect x="1490.6" y="158" width="7.8" height="7.8" fill="#acacac"/>
<rect x="1493.8" y="160.1" width="7.8" height="7.8" fill="#acacac"/>
<rect x="1433.6" y="174.1" width="7.8" height="7.8" fill="#acacac"/>
<rect x="1443.3" y="170.9" width="7.8" height="7.8" fill="#acacac"/>
<rect x="1443.3" y="178.4" width="7.8" height="7.8" fill="#acacac"/>
<rect x="1473.4" y="172.4" width="7.8" height="7.8" fill="#acacac"/>
<rect x="1499.2" y="173" width="7.8" height="7.8" fill="#acacac"/>
<rect x="1372.4" y="185.9" width="7.8" height="7.8" fill="#acacac"/>
<rect x="1392.4" y="189.2" width="7.8" height="7.8" fill="#acacac"/>
<rect x="1458.3" y="183.8" width="7.8" height="7.8" fill="#acacac"/>
<rect x="1461.5" y="190.2" width="7.8" height="7.8" fill="#acacac"/>
<rect x="1464.8" y="192.6" width="7.8" height="7.8" fill="#acacac"/>
<rect x="1492.7" y="188.1" width="7.8" height="7.8" fill="#acacac"/>
<rect x="1368.1" y="201" width="7.8" height="7.8" fill="#acacac"/>
<rect x="1398.8" y="199.9" width="7.8" height="7.8" fill="#acacac"/>
<rect x="1431.5" y="202" width="7.8" height="7.8" fill="#acacac"/>
<rect x="1445.4" y="204.2" width="7.8" height="7.8" fill="#acacac"/>
<rect x="1461.5" y="204.2" width="7.8" height="7.8" fill="#acacac"/>
<rect x="1467.9" y="202.1" width="7.8" height="7.8" fill="#acacac"/>
<rect x="1478.3" y="202" width="7.8" height="7.8" fill="#acacac"/>
<rect x="1472" y="206" width="7.8" height="7.8" fill="#acacac"/>
<rect x="1491.6" y="202" width="7.8" height="7.8" fill="#acacac"/>
<rect x="1499.2" y="202" width="7.8" height="7.8" fill="#acacac"/>
<rect x="1449.7" y="216" width="7.8" height="7.8" fill="#acacac"/>
<rect x="1459.4" y="221.4" width="7.8" height="7.8" fill="#acacac"/>
<rect x="1475.5" y="214.9" width="7.8" height="7.8" fill="#acacac"/>
<rect x="1480.9" y="219.2" width="7.8" height="7.8" fill="#acacac"/>
<rect x="1489.5" y="213.9" width="7.8" height="7.8" fill="#acacac"/>
<rect x="1499.2" y="216" width="7.8" height="7.8" fill="#acacac"/>
<rect x="1495.2" y="213.4" width="7.8" height="7.8" fill="#acacac"/>
<rect x="1342.3" y="221.4" width="7.8" height="7.8" fill="#acacac"/>
<rect x="1340.1" y="227.8" width="7.8" height="7.8" fill="#acacac"/>
<rect x="1371.3" y="232.1" width="7.8" height="7.8" fill="#acacac"/>
<rect x="1396.7" y="227.8" width="7.8" height="7.8" fill="#acacac"/>
<rect x="1413.8" y="233.8" width="7.8" height="7.8" fill="#acacac"/>
<rect x="1431.5" y="232.1" width="7.8" height="7.8" fill="#acacac"/>
<rect x="1437.7" y="227.7" width="7.8" height="7.8" fill="#acacac"/>
<rect x="1434.7" y="227.8" width="7.8" height="7.8" fill="#acacac"/>
<rect x="1459.4" y="231.1" width="7.8" height="7.8" fill="#acacac"/>
<rect x="1476.6" y="228.9" width="7.8" height="7.8" fill="#acacac"/>
<rect x="1483.1" y="223.9" width="7.8" height="7.8" fill="#acacac"/>
<rect x="1485.2" y="230" width="7.8" height="7.8" fill="#acacac"/>
<rect x="1481.5" y="232.9" width="7.8" height="7.8" fill="#acacac"/>
<rect x="1491.6" y="231.1" width="7.8" height="7.8" fill="#acacac"/>
<rect x="1357.3" y="249.3" width="7.8" height="7.8" fill="#acacac"/>
<rect x="1368.1" y="245" width="7.8" height="7.8" fill="#acacac"/>
<rect x="1386.3" y="245" width="7.8" height="7.8" fill="#acacac"/>
<rect x="1380.9" y="248.5" width="7.8" height="7.8" fill="#acacac"/>
<rect x="1383.1" y="255.8" width="7.8" height="7.8" fill="#acacac"/>
<rect x="1369.2" y="257.9" width="7.8" height="7.8" fill="#acacac"/>
<rect x="1370.2" y="264.4" width="7.8" height="7.8" fill="#acacac"/>
<rect x="1374.5" y="275.1" width="7.8" height="7.8" fill="#acacac"/>
<rect x="1368.6" y="278.6" width="7.8" height="7.8" fill="#acacac"/>
<rect x="1358.4" y="270.8" width="7.8" height="7.8" fill="#acacac"/>
<rect x="1398.8" y="258.3" width="7.8" height="7.8" fill="#acacac"/>
<rect x="1401.4" y="275.1" width="7.8" height="7.8" fill="#acacac"/>
<rect x="1417.5" y="250.4" width="7.8" height="7.8" fill="#acacac"/>
<rect x="1416.4" y="254.7" width="7.8" height="7.8" fill="#acacac"/>
<rect x="1412.6" y="251.5" width="7.8" height="7.8" fill="#acacac"/>
<rect x="1418.6" y="275.1" width="7.8" height="7.8" fill="#acacac"/>
<rect x="1417.5" y="279.4" width="7.8" height="7.8" fill="#acacac"/>
<rect x="1433.6" y="246.1" width="7.8" height="7.8" fill="#acacac"/>
<rect x="1446.5" y="241.8" width="7.8" height="7.8" fill="#acacac"/>
<rect x="1457.3" y="243.9" width="7.8" height="7.8" fill="#acacac"/>
<rect x="1463.3" y="248.9" width="7.8" height="7.8" fill="#acacac"/>
<rect x="1474.4" y="245" width="7.8" height="7.8" fill="#acacac"/>
<rect x="1478.5" y="239.6" width="7.8" height="7.8" fill="#acacac"/>
<rect x="1485.2" y="247.2" width="7.8" height="7.8" fill="#acacac"/>
<rect x="1491.6" y="244" width="7.8" height="7.8" fill="#acacac"/>
<rect x="1490.6" y="246.1" width="7.8" height="7.8" fill="#acacac"/>
<rect x="1431.5" y="262.2" width="7.8" height="7.8" fill="#acacac"/>
<rect x="1444.4" y="260.1" width="7.8" height="7.8" fill="#acacac"/>
<rect x="1456.2" y="259" width="7.8" height="7.8" fill="#acacac"/>
<rect x="1461.5" y="264.4" width="7.8" height="7.8" fill="#acacac"/>
<rect x="1474.4" y="257.9" width="7.8" height="7.8" fill="#acacac"/>
<rect x="1487.3" y="257.9" width="7.8" height="7.8" fill="#acacac"/>
<rect x="1481" y="252.6" width="7.8" height="7.8" fill="#acacac"/>
<rect x="1485.2" y="262.2" width="7.8" height="7.8" fill="#acacac"/>
<rect x="1495.9" y="253.6" width="7.8" height="7.8" fill="#acacac"/>
<rect x="1444.4" y="274" width="7.8" height="7.8" fill="#acacac"/>
<rect x="1438.4" y="278.4" width="7.8" height="7.8" fill="#acacac"/>
<rect x="1461.5" y="275.1" width="7.8" height="7.8" fill="#acacac"/>
<rect x="1470.1" y="270.8" width="7.8" height="7.8" fill="#acacac"/>
<rect x="1465.5" y="268.5" width="7.8" height="7.8" fill="#acacac"/>
<rect x="1478.7" y="275.1" width="7.8" height="7.8" fill="#acacac"/>
<rect x="1483.3" y="269.4" width="7.8" height="7.8" fill="#acacac"/>
<rect x="1489.5" y="274" width="7.8" height="7.8" fill="#acacac"/>
<rect x="1483.8" y="278.9" width="7.8" height="7.8" fill="#acacac"/>
<rect x="1499.2" y="277.3" width="7.8" height="7.8" fill="#acacac"/>
<rect x="1444.4" y="288" width="7.8" height="7.8" fill="#acacac"/>
<rect x="1457.3" y="288" width="7.8" height="7.8" fill="#acacac"/>
<rect x="1474.4" y="294.4" width="7.8" height="7.8" fill="#acacac"/>
<rect x="1471.1" y="289.5" width="7.8" height="7.8" fill="#acacac"/>
<rect x="1472.3" y="303" width="7.8" height="7.8" fill="#acacac"/>
<rect x="1476.2" y="308.8" width="7.8" height="7.8" fill="#acacac"/>
<rect x="1489.5" y="285.8" width="7.8" height="7.8" fill="#acacac"/>
<rect x="1498.1" y="285.8" width="7.8" height="7.8" fill="#acacac"/>
<rect x="1494.9" y="283.3" width="7.8" height="7.8" fill="#acacac"/>
<rect x="1306.8" y="289.1" width="7.8" height="7.8" fill="#acacac"/>
<rect x="1324" y="288" width="7.8" height="7.8" fill="#acacac"/>
<rect x="1324" y="293.4" width="7.8" height="7.8" fill="#acacac"/>
<rect x="1357.3" y="292.3" width="7.8" height="7.8" fill="#acacac"/>
<rect x="1316.5" y="303" width="7.8" height="7.8" fill="#acacac"/>
<rect x="1343.4" y="305.2" width="7.8" height="7.8" fill="#acacac"/>
<rect x="1369.2" y="304.1" width="7.8" height="7.8" fill="#acacac"/>
<rect x="1376.7" y="308.4" width="7.8" height="7.8" fill="#acacac"/>
<rect x="1383.1" y="300.9" width="7.8" height="7.8" fill="#acacac"/>
<rect x="1396" y="299.8" width="7.8" height="7.8" fill="#acacac"/>
<rect x="1416.4" y="303" width="7.8" height="7.8" fill="#acacac"/>
<rect x="1422.9" y="306.3" width="7.8" height="7.8" fill="#acacac"/>
<rect x="1431.5" y="305.2" width="7.8" height="7.8" fill="#acacac"/>
<rect x="1412.1" y="311.6" width="7.8" height="7.8" fill="#acacac"/>
<rect x="1416.7" y="309.3" width="7.8" height="7.8" fill="#acacac"/>
<rect x="1425" y="313.8" width="7.8" height="7.8" fill="#acacac"/>
<rect x="1429.3" y="310.1" width="7.8" height="7.8" fill="#acacac"/>
<rect x="1433.6" y="318.1" width="7.8" height="7.8" fill="#acacac"/>
<rect x="1459.4" y="304.1" width="7.8" height="7.8" fill="#acacac"/>
<rect x="1449.7" y="307.3" width="7.8" height="7.8" fill="#acacac"/>
<rect x="1354.1" y="313.8" width="7.8" height="7.8" fill="#acacac"/>
<rect x="1360.6" y="317" width="7.8" height="7.8" fill="#acacac"/>
<rect x="1371.3" y="318.1" width="7.8" height="7.8" fill="#acacac"/>
<rect x="1394.9" y="318.1" width="7.8" height="7.8" fill="#acacac"/>
<rect x="1407.8" y="317" width="7.8" height="7.8" fill="#acacac"/>
<rect x="1403.3" y="320.7" width="7.8" height="7.8" fill="#acacac"/>
<rect x="1461.5" y="315.9" width="7.8" height="7.8" fill="#acacac"/>
<rect x="1478.7" y="313.8" width="7.8" height="7.8" fill="#acacac"/>
<rect x="1481.9" y="319.5" width="7.8" height="7.8" fill="#acacac"/>
<rect x="1493.8" y="303" width="7.8" height="7.8" fill="#acacac"/>
<rect x="1533.3" y="127.9" width="7.8" height="7.8" fill="#acacac"/>
<rect x="1589.2" y="131.1" width="7.8" height="7.8" fill="#acacac"/>
<rect x="1682.7" y="126.4" width="7.8" height="7.8" fill="#acacac"/>
<rect x="1531.2" y="140.8" width="7.8" height="7.8" fill="#acacac"/>
<rect x="1522.6" y="144" width="7.8" height="7.8" fill="#acacac"/>
<rect x="1587" y="143.6" width="7.8" height="7.8" fill="#acacac"/>
<rect x="1607.5" y="143.6" width="7.8" height="7.8" fill="#acacac"/>
<rect x="1528" y="159.1" width="7.8" height="7.8" fill="#acacac"/>
<rect x="1518.3" y="161.2" width="7.8" height="7.8" fill="#acacac"/>
<rect x="1515.1" y="167.7" width="7.8" height="7.8" fill="#acacac"/>
<rect x="1517.2" y="174.1" width="7.8" height="7.8" fill="#acacac"/>
<rect x="1576.3" y="161.2" width="7.8" height="7.8" fill="#acacac"/>
<rect x="1588.1" y="153.7" width="7.8" height="7.8" fill="#acacac"/>
<rect x="1591.3" y="160.1" width="7.8" height="7.8" fill="#acacac"/>
<rect x="1632.2" y="155.9" width="7.8" height="7.8" fill="#acacac"/>
<rect x="1647.2" y="163.4" width="7.8" height="7.8" fill="#acacac"/>
<rect x="1503.2" y="173" width="7.8" height="7.8" fill="#acacac"/>
<rect x="1543" y="170.2" width="7.8" height="7.8" fill="#acacac"/>
<rect x="1553.1" y="175.8" width="7.8" height="7.8" fill="#acacac"/>
<rect x="1589.2" y="173.7" width="7.8" height="7.8" fill="#acacac"/>
<rect x="1607.5" y="177.3" width="7.8" height="7.8" fill="#acacac"/>
<rect x="1617.1" y="172.4" width="7.8" height="7.8" fill="#acacac"/>
<rect x="1532.3" y="184.9" width="7.8" height="7.8" fill="#acacac"/>
<rect x="1545.1" y="185.9" width="7.8" height="7.8" fill="#acacac"/>
<rect x="1551.6" y="184.9" width="7.8" height="7.8" fill="#acacac"/>
<rect x="1562.3" y="186.6" width="7.8" height="7.8" fill="#acacac"/>
<rect x="1586" y="188.7" width="7.8" height="7.8" fill="#acacac"/>
<rect x="1520.9" y="194.5" width="7.8" height="7.8" fill="#acacac"/>
<rect x="1535.5" y="198.8" width="7.8" height="7.8" fill="#acacac"/>
<rect x="1537.6" y="204.2" width="7.8" height="7.8" fill="#acacac"/>
<rect x="1544.1" y="201" width="7.8" height="7.8" fill="#acacac"/>
<rect x="1559.1" y="203.1" width="7.8" height="7.8" fill="#acacac"/>
<rect x="1563.4" y="208.3" width="7.8" height="7.8" fill="#acacac"/>
<rect x="1565.6" y="202" width="7.8" height="7.8" fill="#acacac"/>
<rect x="1503.2" y="202" width="7.8" height="7.8" fill="#acacac"/>
<rect x="1518.3" y="205.3" width="7.8" height="7.8" fill="#acacac"/>
<rect x="1517.2" y="213.9" width="7.8" height="7.8" fill="#acacac"/>
<rect x="1512" y="219" width="7.8" height="7.8" fill="#acacac"/>
<rect x="1504.3" y="213.9" width="7.8" height="7.8" fill="#acacac"/>
<rect x="1529" y="218.8" width="7.8" height="7.8" fill="#acacac"/>
<rect x="1545.1" y="216" width="7.8" height="7.8" fill="#acacac"/>
<rect x="1565.6" y="214.5" width="7.8" height="7.8" fill="#acacac"/>
<rect x="1588.1" y="218.2" width="7.8" height="7.8" fill="#acacac"/>
<rect x="1593.5" y="216" width="7.8" height="7.8" fill="#acacac"/>
<rect x="1606.4" y="208.5" width="7.8" height="7.8" fill="#acacac"/>
<rect x="1605.3" y="214.9" width="7.8" height="7.8" fill="#acacac"/>
<rect x="1621.4" y="202" width="7.8" height="7.8" fill="#acacac"/>
<rect x="1627.9" y="204.2" width="7.8" height="7.8" fill="#acacac"/>
<rect x="1621.4" y="218.8" width="7.8" height="7.8" fill="#acacac"/>
<rect x="1651.5" y="208.1" width="7.8" height="7.8" fill="#acacac"/>
<rect x="1666.1" y="211.1" width="7.8" height="7.8" fill="#acacac"/>
<rect x="1504.3" y="232.1" width="7.8" height="7.8" fill="#acacac"/>
<rect x="1531.2" y="232.1" width="7.8" height="7.8" fill="#acacac"/>
<rect x="1557" y="232.1" width="7.8" height="7.8" fill="#acacac"/>
<rect x="1567.7" y="232.6" width="7.8" height="7.8" fill="#acacac"/>
<rect x="1575.2" y="230" width="7.8" height="7.8" fill="#acacac"/>
<rect x="1590.3" y="230.4" width="7.8" height="7.8" fill="#acacac"/>
<rect x="1594.2" y="226.6" width="7.8" height="7.8" fill="#acacac"/>
<rect x="1635.4" y="227.8" width="7.8" height="7.8" fill="#acacac"/>
<rect x="1663.3" y="233.2" width="7.8" height="7.8" fill="#acacac"/>
<rect x="1520.4" y="244.6" width="7.8" height="7.8" fill="#acacac"/>
<rect x="1516.7" y="241.2" width="7.8" height="7.8" fill="#acacac"/>
<rect x="1505.4" y="246.1" width="7.8" height="7.8" fill="#acacac"/>
<rect x="1558" y="245" width="7.8" height="7.8" fill="#acacac"/>
<rect x="1562.8" y="248.5" width="7.8" height="7.8" fill="#acacac"/>
<rect x="1516.1" y="257.9" width="7.8" height="7.8" fill="#acacac"/>
<rect x="1518.3" y="262.2" width="7.8" height="7.8" fill="#acacac"/>
<rect x="1523.4" y="257.2" width="7.8" height="7.8" fill="#acacac"/>
<rect x="1533.3" y="265.4" width="7.8" height="7.8" fill="#acacac"/>
<rect x="1534.4" y="270.8" width="7.8" height="7.8" fill="#acacac"/>
<rect x="1530.1" y="277" width="7.8" height="7.8" fill="#acacac"/>
<rect x="1545.1" y="262.2" width="7.8" height="7.8" fill="#acacac"/>
<rect x="1552.7" y="268.7" width="7.8" height="7.8" fill="#acacac"/>
<rect x="1546.5" y="272.9" width="7.8" height="7.8" fill="#acacac"/>
<rect x="1561.3" y="259" width="7.8" height="7.8" fill="#acacac"/>
<rect x="1557.9" y="255.2" width="7.8" height="7.8" fill="#acacac"/>
<rect x="1564.5" y="264.4" width="7.8" height="7.8" fill="#acacac"/>
<rect x="1561.3" y="276.2" width="7.8" height="7.8" fill="#acacac"/>
<rect x="1554.8" y="270.5" width="7.8" height="7.8" fill="#acacac"/>
<rect x="1577.4" y="259" width="7.8" height="7.8" fill="#acacac"/>
<rect x="1591.3" y="261.1" width="7.8" height="7.8" fill="#acacac"/>
<rect x="1604.2" y="260.1" width="7.8" height="7.8" fill="#acacac"/>
<rect x="1598.6" y="265.1" width="7.8" height="7.8" fill="#acacac"/>
<rect x="1618.2" y="260.1" width="7.8" height="7.8" fill="#acacac"/>
<rect x="1630" y="257.9" width="7.8" height="7.8" fill="#acacac"/>
<rect x="1634.3" y="250.4" width="7.8" height="7.8" fill="#acacac"/>
<rect x="1647.2" y="259" width="7.8" height="7.8" fill="#acacac"/>
<rect x="1668.7" y="267.6" width="7.8" height="7.8" fill="#acacac"/>
<rect x="1677.3" y="263.9" width="7.8" height="7.8" fill="#acacac"/>
<rect x="1503.2" y="274" width="7.8" height="7.8" fill="#acacac"/>
<rect x="1508.2" y="268.3" width="7.8" height="7.8" fill="#acacac"/>
<rect x="1517.2" y="274" width="7.8" height="7.8" fill="#acacac"/>
<rect x="1523.6" y="279" width="7.8" height="7.8" fill="#acacac"/>
<rect x="1517.2" y="278.3" width="7.8" height="7.8" fill="#acacac"/>
<rect x="1511.8" y="274.9" width="7.8" height="7.8" fill="#acacac"/>
<rect x="1546.2" y="281.5" width="7.8" height="7.8" fill="#acacac"/>
<rect x="1578.5" y="274" width="7.8" height="7.8" fill="#acacac"/>
<rect x="1572.9" y="279.9" width="7.8" height="7.8" fill="#acacac"/>
<rect x="1587" y="275.1" width="7.8" height="7.8" fill="#acacac"/>
<rect x="1605.3" y="271.9" width="7.8" height="7.8" fill="#acacac"/>
<rect x="1618.2" y="280.5" width="7.8" height="7.8" fill="#acacac"/>
<rect x="1631.1" y="276.2" width="7.8" height="7.8" fill="#acacac"/>
<rect x="1505.4" y="288" width="7.8" height="7.8" fill="#acacac"/>
<rect x="1501.5" y="291.3" width="7.8" height="7.8" fill="#acacac"/>
<rect x="1520.4" y="294.4" width="7.8" height="7.8" fill="#acacac"/>
<rect x="1535.5" y="288" width="7.8" height="7.8" fill="#acacac"/>
<rect x="1530" y="293.6" width="7.8" height="7.8" fill="#acacac"/>
<rect x="1533.3" y="294.4" width="7.8" height="7.8" fill="#acacac"/>
<rect x="1537.4" y="291.7" width="7.8" height="7.8" fill="#acacac"/>
<rect x="1544.1" y="290.1" width="7.8" height="7.8" fill="#acacac"/>
<rect x="1675.1" y="291.2" width="7.8" height="7.8" fill="#acacac"/>
<rect x="1689.1" y="286.3" width="7.8" height="7.8" fill="#acacac"/>
<rect x="1694.5" y="296.6" width="7.8" height="7.8" fill="#acacac"/>
<rect x="1533.3" y="305.2" width="7.8" height="7.8" fill="#acacac"/>
<rect x="1527.4" y="302.3" width="7.8" height="7.8" fill="#acacac"/>
<rect x="1544.1" y="303.5" width="7.8" height="7.8" fill="#acacac"/>
<rect x="1561.3" y="300.9" width="7.8" height="7.8" fill="#acacac"/>
<rect x="1554.8" y="307.1" width="7.8" height="7.8" fill="#acacac"/>
<rect x="1589.2" y="303" width="7.8" height="7.8" fill="#acacac"/>
<rect x="1583.1" y="307.6" width="7.8" height="7.8" fill="#acacac"/>
<rect x="1591.3" y="310.6" width="7.8" height="7.8" fill="#acacac"/>
<rect x="1599.9" y="303" width="7.8" height="7.8" fill="#acacac"/>
<rect x="1596.7" y="297.7" width="7.8" height="7.8" fill="#acacac"/>
<rect x="1612.8" y="303" width="7.8" height="7.8" fill="#acacac"/>
<rect x="1607.5" y="299" width="7.8" height="7.8" fill="#acacac"/>
<rect x="1619.3" y="305.2" width="7.8" height="7.8" fill="#acacac"/>
<rect x="1636.5" y="303" width="7.8" height="7.8" fill="#acacac"/>
<rect x="1518.3" y="318.1" width="7.8" height="7.8" fill="#acacac"/>
<rect x="1524.3" y="313" width="7.8" height="7.8" fill="#acacac"/>
<rect x="1533.3" y="318.1" width="7.8" height="7.8" fill="#acacac"/>
<rect x="1536.9" y="324" width="7.8" height="7.8" fill="#acacac"/>
<rect x="1554.8" y="317" width="7.8" height="7.8" fill="#acacac"/>
<rect x="1563.4" y="318.1" width="7.8" height="7.8" fill="#acacac"/>
<rect x="1591.3" y="318.1" width="7.8" height="7.8" fill="#acacac"/>
<rect x="1597.6" y="324.4" width="7.8" height="7.8" fill="#acacac"/>
<rect x="1599.9" y="318.1" width="7.8" height="7.8" fill="#acacac"/>
<rect x="1620.4" y="318.1" width="7.8" height="7.8" fill="#acacac"/>
<rect x="1624.5" y="315.9" width="7.8" height="7.8" fill="#acacac"/>
<rect x="1633.2" y="318.1" width="7.8" height="7.8" fill="#acacac"/>
<rect x="1649.4" y="315.9" width="7.8" height="7.8" fill="#acacac"/>
<rect x="1679.4" y="318.1" width="7.8" height="7.8" fill="#acacac"/>
<rect x="1507.5" y="303" width="7.8" height="7.8" fill="#acacac"/>
<rect x="1501.4" y="306.8" width="7.8" height="7.8" fill="#acacac"/>
<rect x="1514" y="305.2" width="7.8" height="7.8" fill="#acacac"/>
<rect x="1519.2" y="301.1" width="7.8" height="7.8" fill="#acacac"/>
<rect x="1341.2" y="322.2" width="7.8" height="7.8" fill="#acacac"/>
<rect x="1373.5" y="322.2" width="7.8" height="7.8" fill="#acacac"/>
<rect x="1389.6" y="323.2" width="7.8" height="7.8" fill="#acacac"/>
<rect x="1395.8" y="320.8" width="7.8" height="7.8" fill="#acacac"/>
<rect x="1403.5" y="322.2" width="7.8" height="7.8" fill="#acacac"/>
<rect x="1410" y="322.2" width="7.8" height="7.8" fill="#acacac"/>
<rect x="1404" y="319.4" width="7.8" height="7.8" fill="#acacac"/>
<rect x="1428.2" y="322.2" width="7.8" height="7.8" fill="#acacac"/>
<rect x="1422" y="318.2" width="7.8" height="7.8" fill="#acacac"/>
<rect x="1345.5" y="336.1" width="7.8" height="7.8" fill="#acacac"/>
<rect x="1371.3" y="331.8" width="7.8" height="7.8" fill="#acacac"/>
<rect x="1376.7" y="336.1" width="7.8" height="7.8" fill="#acacac"/>
<rect x="1401.4" y="330.8" width="7.8" height="7.8" fill="#acacac"/>
<rect x="1404.6" y="336.1" width="7.8" height="7.8" fill="#acacac"/>
<rect x="1415.4" y="332.9" width="7.8" height="7.8" fill="#acacac"/>
<rect x="1427.2" y="334" width="7.8" height="7.8" fill="#acacac"/>
<rect x="1431.5" y="332.9" width="7.8" height="7.8" fill="#acacac"/>
<rect x="1425.5" y="335.1" width="7.8" height="7.8" fill="#acacac"/>
<rect x="1444.4" y="327.5" width="7.8" height="7.8" fill="#acacac"/>
<rect x="1444.4" y="334" width="7.8" height="7.8" fill="#acacac"/>
<rect x="1450.8" y="325.4" width="7.8" height="7.8" fill="#acacac"/>
<rect x="1459.4" y="329.7" width="7.8" height="7.8" fill="#acacac"/>
<rect x="1468" y="327.5" width="7.8" height="7.8" fill="#acacac"/>
<rect x="1463.4" y="331.8" width="7.8" height="7.8" fill="#acacac"/>
<rect x="1474.4" y="325.4" width="7.8" height="7.8" fill="#acacac"/>
<rect x="1471.3" y="320.4" width="7.8" height="7.8" fill="#acacac"/>
<rect x="1476.6" y="332.9" width="7.8" height="7.8" fill="#acacac"/>
<rect x="1472" y="339.1" width="7.8" height="7.8" fill="#acacac"/>
<rect x="1470.1" y="338.3" width="7.8" height="7.8" fill="#acacac"/>
<rect x="1475.2" y="334.6" width="7.8" height="7.8" fill="#acacac"/>
<rect x="1491.6" y="331.8" width="7.8" height="7.8" fill="#acacac"/>
<rect x="1487.7" y="335.1" width="7.8" height="7.8" fill="#acacac"/>
<rect x="1498.1" y="329.7" width="7.8" height="7.8" fill="#acacac"/>
<rect x="1494.8" y="324.8" width="7.8" height="7.8" fill="#acacac"/>
<rect x="1326.2" y="345.8" width="7.8" height="7.8" fill="#acacac"/>
<rect x="1346.6" y="363" width="7.8" height="7.8" fill="#acacac"/>
<rect x="1372.4" y="359.3" width="7.8" height="7.8" fill="#acacac"/>
<rect x="1388.5" y="345.8" width="7.8" height="7.8" fill="#acacac"/>
<rect x="1394.5" y="350.3" width="7.8" height="7.8" fill="#acacac"/>
<rect x="1388.5" y="352.3" width="7.8" height="7.8" fill="#acacac"/>
<rect x="1401.4" y="349" width="7.8" height="7.8" fill="#acacac"/>
<rect x="1405" y="345.8" width="7.8" height="7.8" fill="#acacac"/>
<rect x="1405.7" y="345.8" width="7.8" height="7.8" fill="#acacac"/>
<rect x="1426.1" y="350.1" width="7.8" height="7.8" fill="#acacac"/>
<rect x="1434.7" y="346.9" width="7.8" height="7.8" fill="#acacac"/>
<rect x="1440.9" y="349" width="7.8" height="7.8" fill="#acacac"/>
<rect x="1444.4" y="348.6" width="7.8" height="7.8" fill="#acacac"/>
<rect x="1439" y="344.1" width="7.8" height="7.8" fill="#acacac"/>
<rect x="1454" y="348" width="7.8" height="7.8" fill="#acacac"/>
<rect x="1460.5" y="351.2" width="7.8" height="7.8" fill="#acacac"/>
<rect x="1466.7" y="348.2" width="7.8" height="7.8" fill="#acacac"/>
<rect x="1473.4" y="348" width="7.8" height="7.8" fill="#acacac"/>
<rect x="1483" y="345.8" width="7.8" height="7.8" fill="#acacac"/>
<rect x="1486.3" y="353.3" width="7.8" height="7.8" fill="#acacac"/>
<rect x="1482.2" y="350.2" width="7.8" height="7.8" fill="#acacac"/>
<rect x="1476.6" y="358.7" width="7.8" height="7.8" fill="#acacac"/>
<rect x="1480.4" y="362.8" width="7.8" height="7.8" fill="#acacac"/>
<rect x="1489.5" y="360.9" width="7.8" height="7.8" fill="#acacac"/>
<rect x="1495.9" y="357.6" width="7.8" height="7.8" fill="#acacac"/>
<rect x="1499.2" y="367.3" width="7.8" height="7.8" fill="#acacac"/>
<rect x="1485.2" y="364.1" width="7.8" height="7.8" fill="#acacac"/>
<rect x="1418.6" y="363" width="7.8" height="7.8" fill="#acacac"/>
<rect x="1415.4" y="367.3" width="7.8" height="7.8" fill="#acacac"/>
<rect x="1417.5" y="375.9" width="7.8" height="7.8" fill="#acacac"/>
<rect x="1425" y="377" width="7.8" height="7.8" fill="#acacac"/>
<rect x="1430.4" y="359.8" width="7.8" height="7.8" fill="#acacac"/>
<rect x="1427" y="355.4" width="7.8" height="7.8" fill="#acacac"/>
<rect x="1433.6" y="366.2" width="7.8" height="7.8" fill="#acacac"/>
<rect x="1439" y="369.4" width="7.8" height="7.8" fill="#acacac"/>
<rect x="1444.4" y="372.7" width="7.8" height="7.8" fill="#acacac"/>
<rect x="1448.3" y="377.4" width="7.8" height="7.8" fill="#acacac"/>
<rect x="1445.4" y="379.1" width="7.8" height="7.8" fill="#acacac"/>
<rect x="1457.3" y="375.9" width="7.8" height="7.8" fill="#acacac"/>
<rect x="1463.6" y="379.2" width="7.8" height="7.8" fill="#acacac"/>
<rect x="1461.5" y="380.2" width="7.8" height="7.8" fill="#acacac"/>
<rect x="1460.5" y="361.9" width="7.8" height="7.8" fill="#acacac"/>
<rect x="1460.5" y="365.1" width="7.8" height="7.8" fill="#acacac"/>
<rect x="1456.2" y="362.4" width="7.8" height="7.8" fill="#acacac"/>
<rect x="1474.4" y="378" width="7.8" height="7.8" fill="#acacac"/>
<rect x="1488.4" y="377" width="7.8" height="7.8" fill="#acacac"/>
<rect x="1483.4" y="383.1" width="7.8" height="7.8" fill="#acacac"/>
<rect x="1497" y="374.8" width="7.8" height="7.8" fill="#acacac"/>
<rect x="1500.6" y="381" width="7.8" height="7.8" fill="#acacac"/>
<rect x="1384.2" y="372.7" width="7.8" height="7.8" fill="#acacac"/>
<rect x="1389.6" y="380.2" width="7.8" height="7.8" fill="#acacac"/>
<rect x="1386.3" y="394.2" width="7.8" height="7.8" fill="#acacac"/>
<rect x="1402.5" y="393.1" width="7.8" height="7.8" fill="#acacac"/>
<rect x="1388.5" y="403.8" width="7.8" height="7.8" fill="#acacac"/>
<rect x="1384.9" y="401" width="7.8" height="7.8" fill="#acacac"/>
<rect x="1401.4" y="406.6" width="7.8" height="7.8" fill="#acacac"/>
<rect x="1430.4" y="391.6" width="7.8" height="7.8" fill="#acacac"/>
<rect x="1437.9" y="390.3" width="7.8" height="7.8" fill="#acacac"/>
<rect x="1448.7" y="392" width="7.8" height="7.8" fill="#acacac"/>
<rect x="1455.1" y="395.9" width="7.8" height="7.8" fill="#acacac"/>
<rect x="1474.4" y="390.9" width="7.8" height="7.8" fill="#acacac"/>
<rect x="1480.5" y="394.5" width="7.8" height="7.8" fill="#acacac"/>
<rect x="1491.6" y="389.9" width="7.8" height="7.8" fill="#acacac"/>
<rect x="1499.2" y="388.8" width="7.8" height="7.8" fill="#acacac"/>
<rect x="1358.4" y="404.9" width="7.8" height="7.8" fill="#acacac"/>
<rect x="1369.2" y="403.2" width="7.8" height="7.8" fill="#acacac"/>
<rect x="1357.3" y="417.4" width="7.8" height="7.8" fill="#acacac"/>
<rect x="1373.5" y="424.2" width="7.8" height="7.8" fill="#acacac"/>
<rect x="1387.4" y="431.8" width="7.8" height="7.8" fill="#acacac"/>
<rect x="1416.4" y="408.8" width="7.8" height="7.8" fill="#acacac"/>
<rect x="1413.2" y="422.1" width="7.8" height="7.8" fill="#acacac"/>
<rect x="1415.4" y="435" width="7.8" height="7.8" fill="#acacac"/>
<rect x="1433.6" y="436.1" width="7.8" height="7.8" fill="#acacac"/>
<rect x="1444.4" y="422.5" width="7.8" height="7.8" fill="#acacac"/>
<rect x="1456.2" y="411.3" width="7.8" height="7.8" fill="#acacac"/>
<rect x="1461.5" y="417.8" width="7.8" height="7.8" fill="#acacac"/>
<rect x="1473.4" y="418.9" width="7.8" height="7.8" fill="#acacac"/>
<rect x="1473.4" y="424.2" width="7.8" height="7.8" fill="#acacac"/>
<rect x="1476.6" y="433.9" width="7.8" height="7.8" fill="#acacac"/>
<rect x="1459.4" y="430.7" width="7.8" height="7.8" fill="#acacac"/>
<rect x="1459.4" y="437.1" width="7.8" height="7.8" fill="#acacac"/>
<rect x="1461.5" y="445.7" width="7.8" height="7.8" fill="#acacac"/>
<rect x="1477.7" y="408.1" width="7.8" height="7.8" fill="#acacac"/>
<rect x="1482.5" y="411.1" width="7.8" height="7.8" fill="#acacac"/>
<rect x="1489.5" y="419.9" width="7.8" height="7.8" fill="#acacac"/>
<rect x="1483.3" y="416.5" width="7.8" height="7.8" fill="#acacac"/>
<rect x="1495.9" y="441.4" width="7.8" height="7.8" fill="#acacac"/>
<rect x="1487.3" y="451.1" width="7.8" height="7.8" fill="#acacac"/>
<rect x="1312.2" y="432.4" width="7.8" height="7.8" fill="#acacac"/>
<rect x="1323" y="444.6" width="7.8" height="7.8" fill="#acacac"/>
<rect x="1417.5" y="447.9" width="7.8" height="7.8" fill="#acacac"/>
<rect x="1416.4" y="455.4" width="7.8" height="7.8" fill="#acacac"/>
<rect x="1431.5" y="449.6" width="7.8" height="7.8" fill="#acacac"/>
<rect x="1418.6" y="464" width="7.8" height="7.8" fill="#acacac"/>
<rect x="1431.5" y="462.9" width="7.8" height="7.8" fill="#acacac"/>
<rect x="1459.4" y="467.2" width="7.8" height="7.8" fill="#acacac"/>
<rect x="1343.4" y="464.6" width="7.8" height="7.8" fill="#acacac"/>
<rect x="1357.3" y="464" width="7.8" height="7.8" fill="#acacac"/>
<rect x="1373.5" y="464" width="7.8" height="7.8" fill="#acacac"/>
<rect x="1385.9" y="466.8" width="7.8" height="7.8" fill="#acacac"/>
<rect x="1348.7" y="481.8" width="7.8" height="7.8" fill="#acacac"/>
<rect x="1362.7" y="483.3" width="7.8" height="7.8" fill="#acacac"/>
<rect x="1441.1" y="493" width="7.8" height="7.8" fill="#acacac"/>
<rect x="1486.3" y="489.8" width="7.8" height="7.8" fill="#acacac"/>
<rect x="1500.2" y="462.9" width="7.8" height="7.8" fill="#acacac"/>
<rect x="1500.2" y="480.1" width="7.8" height="7.8" fill="#acacac"/>
<rect x="1500.2" y="497.3" width="7.8" height="7.8" fill="#acacac"/>
<rect x="1358.4" y="510.2" width="7.8" height="7.8" fill="#acacac"/>
<rect x="1371.3" y="505.5" width="7.8" height="7.8" fill="#acacac"/>
<rect x="1386.3" y="511.9" width="7.8" height="7.8" fill="#acacac"/>
<rect x="1519.4" y="322.2" width="7.8" height="7.8" fill="#acacac"/>
<rect x="1532.3" y="322.2" width="7.8" height="7.8" fill="#acacac"/>
<rect x="1536.8" y="326.9" width="7.8" height="7.8" fill="#acacac"/>
<rect x="1547.3" y="323.2" width="7.8" height="7.8" fill="#acacac"/>
<rect x="1559.1" y="322.2" width="7.8" height="7.8" fill="#acacac"/>
<rect x="1553.7" y="316.9" width="7.8" height="7.8" fill="#acacac"/>
<rect x="1562.3" y="323.2" width="7.8" height="7.8" fill="#acacac"/>
<rect x="1567.5" y="326.9" width="7.8" height="7.8" fill="#acacac"/>
<rect x="1591.3" y="322.2" width="7.8" height="7.8" fill="#acacac"/>
<rect x="1595.6" y="322.2" width="7.8" height="7.8" fill="#acacac"/>
<rect x="1589.3" y="316.5" width="7.8" height="7.8" fill="#acacac"/>
<rect x="1621.4" y="322.2" width="7.8" height="7.8" fill="#acacac"/>
<rect x="1632.2" y="322.2" width="7.8" height="7.8" fill="#acacac"/>
<rect x="1651.5" y="322.2" width="7.8" height="7.8" fill="#acacac"/>
<rect x="1681.6" y="322.2" width="7.8" height="7.8" fill="#acacac"/>
<rect x="1520.4" y="332.9" width="7.8" height="7.8" fill="#acacac"/>
<rect x="1524.2" y="326.6" width="7.8" height="7.8" fill="#acacac"/>
<rect x="1531.2" y="331.4" width="7.8" height="7.8" fill="#acacac"/>
<rect x="1536.6" y="325.2" width="7.8" height="7.8" fill="#acacac"/>
<rect x="1545.1" y="329.7" width="7.8" height="7.8" fill="#acacac"/>
<rect x="1547.3" y="336.1" width="7.8" height="7.8" fill="#acacac"/>
<rect x="1562.3" y="332.9" width="7.8" height="7.8" fill="#acacac"/>
<rect x="1559.3" y="328.4" width="7.8" height="7.8" fill="#acacac"/>
<rect x="1562.3" y="338.3" width="7.8" height="7.8" fill="#acacac"/>
<rect x="1575.2" y="330.8" width="7.8" height="7.8" fill="#acacac"/>
<rect x="1579.6" y="333.5" width="7.8" height="7.8" fill="#acacac"/>
<rect x="1580.6" y="338.3" width="7.8" height="7.8" fill="#acacac"/>
<rect x="1586.6" y="343.6" width="7.8" height="7.8" fill="#acacac"/>
<rect x="1592.4" y="330.8" width="7.8" height="7.8" fill="#acacac"/>
<rect x="1592.4" y="336.1" width="7.8" height="7.8" fill="#acacac"/>
<rect x="1606" y="335.7" width="7.8" height="7.8" fill="#acacac"/>
<rect x="1623.6" y="330.1" width="7.8" height="7.8" fill="#acacac"/>
<rect x="1634.3" y="331.4" width="7.8" height="7.8" fill="#acacac"/>
<rect x="1662.3" y="333.6" width="7.8" height="7.8" fill="#acacac"/>
<rect x="1505.4" y="336.1" width="7.8" height="7.8" fill="#acacac"/>
<rect x="1510.4" y="340" width="7.8" height="7.8" fill="#acacac"/>
<rect x="1508.6" y="344.7" width="7.8" height="7.8" fill="#acacac"/>
<rect x="1517.2" y="345.8" width="7.8" height="7.8" fill="#acacac"/>
<rect x="1523.2" y="349.7" width="7.8" height="7.8" fill="#acacac"/>
<rect x="1526.9" y="346.9" width="7.8" height="7.8" fill="#acacac"/>
<rect x="1520.7" y="342.7" width="7.8" height="7.8" fill="#acacac"/>
<rect x="1533.3" y="349" width="7.8" height="7.8" fill="#acacac"/>
<rect x="1540.9" y="351.2" width="7.8" height="7.8" fill="#acacac"/>
<rect x="1546.2" y="344.7" width="7.8" height="7.8" fill="#acacac"/>
<rect x="1552.7" y="345.8" width="7.8" height="7.8" fill="#acacac"/>
<rect x="1547.7" y="342.3" width="7.8" height="7.8" fill="#acacac"/>
<rect x="1559.1" y="344.7" width="7.8" height="7.8" fill="#acacac"/>
<rect x="1555" y="350.8" width="7.8" height="7.8" fill="#acacac"/>
<rect x="1565.6" y="342.6" width="7.8" height="7.8" fill="#acacac"/>
<rect x="1546.2" y="355.5" width="7.8" height="7.8" fill="#acacac"/>
<rect x="1549.4" y="358.7" width="7.8" height="7.8" fill="#acacac"/>
<rect x="1545.3" y="363" width="7.8" height="7.8" fill="#acacac"/>
<rect x="1576.3" y="349" width="7.8" height="7.8" fill="#acacac"/>
<rect x="1572.1" y="355.2" width="7.8" height="7.8" fill="#acacac"/>
<rect x="1587" y="348" width="7.8" height="7.8" fill="#acacac"/>
<rect x="1608.1" y="353.3" width="7.8" height="7.8" fill="#acacac"/>
<rect x="1612" y="347.7" width="7.8" height="7.8" fill="#acacac"/>
<rect x="1618.2" y="344.3" width="7.8" height="7.8" fill="#acacac"/>
<rect x="1647.2" y="346.9" width="7.8" height="7.8" fill="#acacac"/>
<rect x="1651.5" y="349" width="7.8" height="7.8" fill="#acacac"/>
<rect x="1664.4" y="355.9" width="7.8" height="7.8" fill="#acacac"/>
<rect x="1682.7" y="361.9" width="7.8" height="7.8" fill="#acacac"/>
<rect x="1504.3" y="360.9" width="7.8" height="7.8" fill="#acacac"/>
<rect x="1504.3" y="367.3" width="7.8" height="7.8" fill="#acacac"/>
<rect x="1510.8" y="369.4" width="7.8" height="7.8" fill="#acacac"/>
<rect x="1518.3" y="360.9" width="7.8" height="7.8" fill="#acacac"/>
<rect x="1529" y="360.9" width="7.8" height="7.8" fill="#acacac"/>
<rect x="1534.7" y="354.6" width="7.8" height="7.8" fill="#acacac"/>
<rect x="1531.2" y="365.1" width="7.8" height="7.8" fill="#acacac"/>
<rect x="1562.3" y="365.1" width="7.8" height="7.8" fill="#acacac"/>
<rect x="1580.6" y="359.8" width="7.8" height="7.8" fill="#acacac"/>
<rect x="1587" y="360.9" width="7.8" height="7.8" fill="#acacac"/>
<rect x="1590.3" y="363" width="7.8" height="7.8" fill="#acacac"/>
<rect x="1586" y="368.4" width="7.8" height="7.8" fill="#acacac"/>
<rect x="1581.4" y="362.4" width="7.8" height="7.8" fill="#acacac"/>
<rect x="1589.2" y="374.8" width="7.8" height="7.8" fill="#acacac"/>
<rect x="1593.5" y="377" width="7.8" height="7.8" fill="#acacac"/>
<rect x="1604.2" y="366.2" width="7.8" height="7.8" fill="#acacac"/>
<rect x="1600.1" y="371.5" width="7.8" height="7.8" fill="#acacac"/>
<rect x="1606.4" y="365.1" width="7.8" height="7.8" fill="#acacac"/>
<rect x="1603.2" y="372.7" width="7.8" height="7.8" fill="#acacac"/>
<rect x="1597" y="370" width="7.8" height="7.8" fill="#acacac"/>
<rect x="1603.2" y="377" width="7.8" height="7.8" fill="#acacac"/>
<rect x="1650.4" y="363" width="7.8" height="7.8" fill="#acacac"/>
<rect x="1504.3" y="373.7" width="7.8" height="7.8" fill="#acacac"/>
<rect x="1498" y="367.5" width="7.8" height="7.8" fill="#acacac"/>
<rect x="1514" y="372.7" width="7.8" height="7.8" fill="#acacac"/>
<rect x="1510.1" y="368.5" width="7.8" height="7.8" fill="#acacac"/>
<rect x="1520.4" y="374.8" width="7.8" height="7.8" fill="#acacac"/>
<rect x="1518.3" y="379.1" width="7.8" height="7.8" fill="#acacac"/>
<rect x="1546.2" y="374.8" width="7.8" height="7.8" fill="#acacac"/>
<rect x="1551.4" y="380.4" width="7.8" height="7.8" fill="#acacac"/>
<rect x="1573.1" y="374.8" width="7.8" height="7.8" fill="#acacac"/>
<rect x="1568.4" y="378.2" width="7.8" height="7.8" fill="#acacac"/>
<rect x="1579.5" y="382.3" width="7.8" height="7.8" fill="#acacac"/>
<rect x="1578.5" y="392" width="7.8" height="7.8" fill="#acacac"/>
<rect x="1583.6" y="395.6" width="7.8" height="7.8" fill="#acacac"/>
<rect x="1604.2" y="387.7" width="7.8" height="7.8" fill="#acacac"/>
<rect x="1621.4" y="377.4" width="7.8" height="7.8" fill="#acacac"/>
<rect x="1635.4" y="387.7" width="7.8" height="7.8" fill="#acacac"/>
<rect x="1651.5" y="379.5" width="7.8" height="7.8" fill="#acacac"/>
<rect x="1661.8" y="379.5" width="7.8" height="7.8" fill="#acacac"/>
<rect x="1666.5" y="390.9" width="7.8" height="7.8" fill="#acacac"/>
<rect x="1503.2" y="388.8" width="7.8" height="7.8" fill="#acacac"/>
<rect x="1516.1" y="389.9" width="7.8" height="7.8" fill="#acacac"/>
<rect x="1521.5" y="385.6" width="7.8" height="7.8" fill="#acacac"/>
<rect x="1517.3" y="380.4" width="7.8" height="7.8" fill="#acacac"/>
<rect x="1530.1" y="386.6" width="7.8" height="7.8" fill="#acacac"/>
<rect x="1524.6" y="389.8" width="7.8" height="7.8" fill="#acacac"/>
<rect x="1535.5" y="392" width="7.8" height="7.8" fill="#acacac"/>
<rect x="1526.9" y="394.2" width="7.8" height="7.8" fill="#acacac"/>
<rect x="1550.5" y="384.5" width="7.8" height="7.8" fill="#acacac"/>
<rect x="1545.1" y="381.7" width="7.8" height="7.8" fill="#acacac"/>
<rect x="1547.3" y="389.9" width="7.8" height="7.8" fill="#acacac"/>
<rect x="1547.3" y="396.3" width="7.8" height="7.8" fill="#acacac"/>
<rect x="1548.4" y="402.8" width="7.8" height="7.8" fill="#acacac"/>
<rect x="1562.3" y="406.6" width="7.8" height="7.8" fill="#acacac"/>
<rect x="1572" y="403.8" width="7.8" height="7.8" fill="#acacac"/>
<rect x="1581.7" y="403.8" width="7.8" height="7.8" fill="#acacac"/>
<rect x="1604.2" y="406" width="7.8" height="7.8" fill="#acacac"/>
<rect x="1606.4" y="408.1" width="7.8" height="7.8" fill="#acacac"/>
<rect x="1623.6" y="411.3" width="7.8" height="7.8" fill="#acacac"/>
<rect x="1618.8" y="406.6" width="7.8" height="7.8" fill="#acacac"/>
<rect x="1618.2" y="418.9" width="7.8" height="7.8" fill="#acacac"/>
<rect x="1632.2" y="417.8" width="7.8" height="7.8" fill="#acacac"/>
<rect x="1634.3" y="422.1" width="7.8" height="7.8" fill="#acacac"/>
<rect x="1645.1" y="418.2" width="7.8" height="7.8" fill="#acacac"/>
<rect x="1654.1" y="403.8" width="7.8" height="7.8" fill="#acacac"/>
<rect x="1520.4" y="404.5" width="7.8" height="7.8" fill="#acacac"/>
<rect x="1533.3" y="403.8" width="7.8" height="7.8" fill="#acacac"/>
<rect x="1534.4" y="408.1" width="7.8" height="7.8" fill="#acacac"/>
<rect x="1521.5" y="415.6" width="7.8" height="7.8" fill="#acacac"/>
<rect x="1516.1" y="421" width="7.8" height="7.8" fill="#acacac"/>
<rect x="1507.5" y="422.1" width="7.8" height="7.8" fill="#acacac"/>
<rect x="1512.4" y="417" width="7.8" height="7.8" fill="#acacac"/>
<rect x="1534.4" y="421" width="7.8" height="7.8" fill="#acacac"/>
<rect x="1537.5" y="423.8" width="7.8" height="7.8" fill="#acacac"/>
<rect x="1574.2" y="419.9" width="7.8" height="7.8" fill="#acacac"/>
<rect x="1588.1" y="421" width="7.8" height="7.8" fill="#acacac"/>
<rect x="1591.3" y="431.1" width="7.8" height="7.8" fill="#acacac"/>
<rect x="1606.4" y="426.8" width="7.8" height="7.8" fill="#acacac"/>
<rect x="1646.1" y="436.1" width="7.8" height="7.8" fill="#acacac"/>
<rect x="1548.4" y="433.3" width="7.8" height="7.8" fill="#acacac"/>
<rect x="1564.5" y="437.1" width="7.8" height="7.8" fill="#acacac"/>
<rect x="1504.3" y="431.8" width="7.8" height="7.8" fill="#acacac"/>
<rect x="1533.3" y="445.7" width="7.8" height="7.8" fill="#acacac"/>
<rect x="1529" y="450" width="7.8" height="7.8" fill="#acacac"/>
<rect x="1520.4" y="452.2" width="7.8" height="7.8" fill="#acacac"/>
<rect x="1515.1" y="456.5" width="7.8" height="7.8" fill="#acacac"/>
<rect x="1520.4" y="462.9" width="7.8" height="7.8" fill="#acacac"/>
<rect x="1525.6" y="460" width="7.8" height="7.8" fill="#acacac"/>
<rect x="1504.3" y="464" width="7.8" height="7.8" fill="#acacac"/>
<rect x="1559.1" y="463.3" width="7.8" height="7.8" fill="#acacac"/>
<rect x="1544.1" y="469.4" width="7.8" height="7.8" fill="#acacac"/>
<rect x="1541" y="475.3" width="7.8" height="7.8" fill="#acacac"/>
<rect x="1605.3" y="445.3" width="7.8" height="7.8" fill="#acacac"/>
<rect x="1529" y="475.4" width="7.8" height="7.8" fill="#acacac"/>
<rect x="1533.3" y="482.3" width="7.8" height="7.8" fill="#acacac"/>
<rect x="1503.2" y="480.1" width="7.8" height="7.8" fill="#acacac"/>
<rect x="1515.1" y="485.5" width="7.8" height="7.8" fill="#acacac"/>
<rect x="1505.4" y="493" width="7.8" height="7.8" fill="#acacac"/>
<rect x="1517.2" y="495.6" width="7.8" height="7.8" fill="#acacac"/>
<rect x="1530.1" y="491.9" width="7.8" height="7.8" fill="#acacac"/>
<rect x="1545.1" y="490.8" width="7.8" height="7.8" fill="#acacac"/>
<rect x="1549.4" y="496.9" width="7.8" height="7.8" fill="#acacac"/>
<rect x="1560.2" y="480.5" width="7.8" height="7.8" fill="#acacac"/>
<rect x="1604.2" y="480.1" width="7.8" height="7.8" fill="#acacac"/>
<rect x="1617.1" y="472.6" width="7.8" height="7.8" fill="#acacac"/>
<rect x="1691.3" y="501.2" width="7.8" height="7.8" fill="#acacac"/>
<polygon points="1059.4,330.3 1054.9,339.1 1063.9,339.1" fill="#f2550a"/>
<polygon points="1060.6,335.6 1056.1,344.3 1065.1,344.3" fill="#f2550a"/>
<polygon points="1060.2,335 1055.7,343.8 1064.7,343.8" fill="#f2550a"/>
<polygon points="1055.2,323.2 1050.7,331.9 1059.7,331.9" fill="#f2550a"/>
<polygon points="1061.6,327.9 1057.1,336.7 1066.1,336.7" fill="#f2550a"/>
<polygon points="1061.3,314 1056.8,322.7 1065.8,322.7" fill="#f2550a"/>
<polygon points="1058.3,317.5 1053.8,326.2 1062.8,326.2" fill="#f2550a"/>
<polygon points="1058.8,326 1054.3,334.7 1063.3,334.7" fill="#f2550a"/>
<polygon points="1055.1,316.7 1050.6,325.4 1059.6,325.4" fill="#f2550a"/>
<polygon points="1057,334.9 1052.5,343.6 1061.5,343.6" fill="#f2550a"/>
<polygon points="1060.4,315.2 1055.9,323.9 1064.9,323.9" fill="#f2550a"/>
<polygon points="1060.6,314.7 1056.1,323.4 1065.1,323.4" fill="#f2550a"/>
<polygon points="1083.7,338.1 1079.2,346.8 1088.2,346.8" fill="#f2550a"/>
<polygon points="1059.1,344 1054.6,352.8 1063.6,352.8" fill="#f2550a"/>
<polygon points="1067.4,338.8 1062.9,347.5 1071.9,347.5" fill="#f2550a"/>
<polygon points="1098.3,344 1093.8,352.8 1102.8,352.8" fill="#f2550a"/>
<polygon points="1070.6,344.7 1066.1,353.5 1075.1,353.5" fill="#f2550a"/>
<polygon points="1080.6,342.5 1076.1,351.2 1085.1,351.2" fill="#f2550a"/>
<polygon points="1067.2,344.6 1062.7,353.3 1071.7,353.3" fill="#f2550a"/>
<polygon points="1086.6,344.8 1082.1,353.5 1091.1,353.5" fill="#f2550a"/>
<polygon points="1094.7,339.4 1090.2,348.2 1099.2,348.2" fill="#f2550a"/>
<polygon points="1073.4,338.4 1068.9,347.1 1077.9,347.1" fill="#f2550a"/>
<polygon points="1064.8,337.6 1060.3,346.3 1069.3,346.3" fill="#f2550a"/>
<polygon points="1071.1,341.9 1066.6,350.6 1075.6,350.6" fill="#f2550a"/>
<polygon points="1059.1,342.5 1054.6,351.2 1063.6,351.2" fill="#f2550a"/>
<polygon points="1072.5,339.5 1068,348.3 1077,348.3" fill="#f2550a"/>
<polygon points="1091.7,340.9 1087.2,349.6 1096.2,349.6" fill="#f2550a"/>
<polygon points="1071.6,340.9 1067.1,349.6 1076.1,349.6" fill="#f2550a"/>
<polygon points="1099.8,313.4 1095.8,321.1 1103.8,321.1" fill="#f2550a"/>
<polygon points="1100.9,312.3 1096.9,320.1 1104.9,320.1" fill="#f2550a"/>
<polygon points="1100,337.8 1096,345.6 1104,345.6" fill="#f2550a"/>
<polygon points="1097.1,336 1093.1,343.8 1101.1,343.8" fill="#f2550a"/>
<polygon points="1098.5,329.5 1094.5,337.3 1102.5,337.3" fill="#f2550a"/>
<polygon points="1097,313 1093,320.8 1101,320.8" fill="#f2550a"/>
<rect x="1062.5" y="307.1" width="33.6" height="33.3" fill="#0b869c" stroke="#1e2a2c" stroke-width="2.2"/>
<polygon points="1004.5,436.4 998,449 1011,449" fill="#f2550a"/>
<polygon points="1495.8,324.8 1491.8,332.6 1499.8,332.6" fill="#f2550a"/>
<polygon points="1495.9,321.2 1491.9,329 1499.9,329" fill="#f2550a"/>
<polygon points="1499.2,324.6 1495.2,332.3 1503.2,332.3" fill="#f2550a"/>
<polygon points="1496.5,314 1492.5,321.7 1500.5,321.7" fill="#f2550a"/>
<polygon points="1497.4,321.6 1493.4,329.3 1501.4,329.3" fill="#f2550a"/>
<polygon points="1495.5,321.1 1491.5,328.8 1499.5,328.8" fill="#f2550a"/>
<polygon points="1509.6,313.1 1506.3,319.4 1512.8,319.4" fill="#f2550a"/>
<polygon points="1504.3,313.3 1501,319.6 1507.5,319.6" fill="#f2550a"/>
<polygon points="1514.2,320.9 1511,327.2 1517.5,327.2" fill="#f2550a"/>
<polygon points="1515.5,328.4 1512.3,334.7 1518.8,334.7" fill="#f2550a"/>
<polygon points="1514.8,328.4 1511.6,334.7 1518.1,334.7" fill="#f2550a"/>
<polygon points="1507,330.4 1503.8,336.7 1510.2,336.7" fill="#f2550a"/>
<rect x="1500.4" y="317.8" width="13.2" height="13.2" fill="#0b869c" stroke="#1e2a2c" stroke-width="2.2"/>
<polygon points="1597.5,275.4 1591,288 1604,288" fill="#f2550a"/>
<polygon points="1581,295.4 1574.5,308 1587.5,308" fill="#f2550a"/>
<polygon points="1508,405.4 1501.5,418 1514.5,418" fill="#f2550a"/>
<text x="205.5" y="597.5" font-size="17.8" text-anchor="end" font-weight="normal" fill="#3a3a3a" >success rate (%)</text>
<text x="205.5" y="625.8" font-size="17.8" text-anchor="end" font-weight="normal" fill="#3a3a3a" >avg time (s)</text>
<text x="205.5" y="652.1" font-size="17.6" text-anchor="end" font-weight="bold" fill="#3a3a3a" >bitrate (bps)</text>
<text x="243.6" y="599.5" font-size="17.8" text-anchor="middle" font-weight="normal" fill="#3a3a3a" >89</text>
<text x="243.6" y="627" font-size="17.8" text-anchor="middle" font-weight="normal" fill="#3a3a3a" >2.5</text>
<text x="243.6" y="654" font-size="17.8" text-anchor="middle" font-weight="bold" fill="#3a3a3a" >1.6</text>
<text x="302.2" y="599.5" font-size="17.8" text-anchor="middle" font-weight="normal" fill="#3a3a3a" >86</text>
<text x="302.2" y="627" font-size="17.8" text-anchor="middle" font-weight="normal" fill="#3a3a3a" >2.2</text>
<text x="302.2" y="654" font-size="17.8" text-anchor="middle" font-weight="bold" fill="#3a3a3a" >1.7</text>
<text x="360.8" y="599.5" font-size="17.8" text-anchor="middle" font-weight="normal" fill="#3a3a3a" >86</text>
<text x="360.8" y="627" font-size="17.8" text-anchor="middle" font-weight="normal" fill="#3a3a3a" >2.2</text>
<text x="360.8" y="654" font-size="17.8" text-anchor="middle" font-weight="bold" fill="#3a3a3a" >1.7</text>
<text x="419.4" y="599.5" font-size="17.8" text-anchor="middle" font-weight="normal" fill="#3a3a3a" >88</text>
<text x="419.4" y="627" font-size="17.8" text-anchor="middle" font-weight="normal" fill="#3a3a3a" >2.9</text>
<text x="419.4" y="654" font-size="17.8" text-anchor="middle" font-weight="bold" fill="#3a3a3a" >1.3</text>
<text x="478" y="599.5" font-size="17.8" text-anchor="middle" font-weight="normal" fill="#3a3a3a" >94</text>
<text x="478" y="627" font-size="17.8" text-anchor="middle" font-weight="normal" fill="#3a3a3a" >2.6</text>
<text x="478" y="654" font-size="17.8" text-anchor="middle" font-weight="bold" fill="#3a3a3a" >1.8</text>
<text x="536.6" y="599.5" font-size="17.8" text-anchor="middle" font-weight="normal" fill="#3a3a3a" >94</text>
<text x="536.6" y="627" font-size="17.8" text-anchor="middle" font-weight="normal" fill="#3a3a3a" >2.6</text>
<text x="536.6" y="654" font-size="17.8" text-anchor="middle" font-weight="bold" fill="#3a3a3a" >1.7</text>
<text x="595.2" y="599.5" font-size="17.8" text-anchor="middle" font-weight="normal" fill="#3a3a3a" >81</text>
<text x="595.2" y="627" font-size="17.8" text-anchor="middle" font-weight="normal" fill="#3a3a3a" >2.4</text>
<text x="595.2" y="654" font-size="17.8" text-anchor="middle" font-weight="bold" fill="#3a3a3a" >1.3</text>
<text x="653.8" y="599.5" font-size="17.8" text-anchor="middle" font-weight="normal" fill="#3a3a3a" >94</text>
<text x="653.8" y="627" font-size="17.8" text-anchor="middle" font-weight="normal" fill="#3a3a3a" >2.3</text>
<text x="653.8" y="654" font-size="17.8" text-anchor="middle" font-weight="bold" fill="#3a3a3a" >1.9</text>
<text x="712.4" y="599.5" font-size="17.8" text-anchor="middle" font-weight="normal" fill="#3a3a3a" >94</text>
<text x="712.4" y="627" font-size="17.8" text-anchor="middle" font-weight="normal" fill="#3a3a3a" >2.7</text>
<text x="712.4" y="654" font-size="17.8" text-anchor="middle" font-weight="bold" fill="#3a3a3a" >2.5</text>
<text x="771" y="599.5" font-size="17.8" text-anchor="middle" font-weight="normal" fill="#3a3a3a" >93</text>
<text x="771" y="627" font-size="17.8" text-anchor="middle" font-weight="normal" fill="#3a3a3a" >2.4</text>
<text x="771" y="654" font-size="17.8" text-anchor="middle" font-weight="bold" fill="#3a3a3a" >2.8</text>
<text x="829.6" y="599.5" font-size="17.8" text-anchor="middle" font-weight="normal" fill="#3a3a3a" >94</text>
<text x="829.6" y="627" font-size="17.8" text-anchor="middle" font-weight="normal" fill="#3a3a3a" >2.3</text>
<text x="829.6" y="654" font-size="17.8" text-anchor="middle" font-weight="bold" fill="#3a3a3a" >3.0</text>
<text x="888.2" y="599.5" font-size="17.8" text-anchor="middle" font-weight="normal" fill="#3a3a3a" >94</text>
<text x="888.2" y="627" font-size="17.8" text-anchor="middle" font-weight="normal" fill="#3a3a3a" >2.4</text>
<text x="888.2" y="654" font-size="17.8" text-anchor="middle" font-weight="bold" fill="#3a3a3a" >2.7</text>
<text x="946.8" y="599.5" font-size="17.8" text-anchor="middle" font-weight="normal" fill="#3a3a3a" >96</text>
<text x="946.8" y="627" font-size="17.8" text-anchor="middle" font-weight="normal" fill="#3a3a3a" >2.4</text>
<text x="946.8" y="654" font-size="17.8" text-anchor="middle" font-weight="bold" fill="#3a3a3a" >2.9</text>
<text x="1005.4" y="599.5" font-size="17.8" text-anchor="middle" font-weight="normal" fill="#3a3a3a" >95</text>
<text x="1005.4" y="627" font-size="17.8" text-anchor="middle" font-weight="normal" fill="#3a3a3a" >2.5</text>
<text x="1005.4" y="654" font-size="17.8" text-anchor="middle" font-weight="bold" fill="#3a3a3a" >2.8</text>
<text x="1064" y="599.5" font-size="17.8" text-anchor="middle" font-weight="normal" fill="#3a3a3a" >97</text>
<text x="1064" y="627" font-size="17.8" text-anchor="middle" font-weight="normal" fill="#3a3a3a" >2.4</text>
<text x="1064" y="654" font-size="17.8" text-anchor="middle" font-weight="bold" fill="#3a3a3a" >3.0</text>
<text x="1122.6" y="599.5" font-size="17.8" text-anchor="middle" font-weight="normal" fill="#3a3a3a" >100</text>
<text x="1122.6" y="627" font-size="17.8" text-anchor="middle" font-weight="normal" fill="#3a3a3a" >2.4</text>
<text x="1122.6" y="654" font-size="17.8" text-anchor="middle" font-weight="bold" fill="#3a3a3a" >3.1</text>
<text x="1181.2" y="599.5" font-size="17.8" text-anchor="middle" font-weight="normal" fill="#3a3a3a" >98</text>
<text x="1181.2" y="627" font-size="17.8" text-anchor="middle" font-weight="normal" fill="#3a3a3a" >2.5</text>
<text x="1181.2" y="654" font-size="17.8" text-anchor="middle" font-weight="bold" fill="#3a3a3a" >2.9</text>
<rect x="218.8" y="687.5" width="49.6" height="211.5" fill="#ebebeb"/>
<rect x="277.4" y="687.5" width="49.6" height="211.5" fill="#ebebeb"/>
<rect x="336" y="687.5" width="49.6" height="211.5" fill="#ebebeb"/>
<rect x="394.6" y="687.5" width="49.6" height="211.5" fill="#ebebeb"/>
<rect x="453.2" y="687.5" width="49.6" height="211.5" fill="#ebebeb"/>
<rect x="511.8" y="687.5" width="49.6" height="211.5" fill="#ebebeb"/>
<rect x="570.4" y="687.5" width="49.6" height="211.5" fill="#ebebeb"/>
<rect x="629" y="687.5" width="49.6" height="211.5" fill="#ebebeb"/>
<rect x="687.6" y="687.5" width="49.6" height="211.5" fill="#ebebeb"/>
<rect x="746.2" y="687.5" width="49.6" height="211.5" fill="#ebebeb"/>
<rect x="804.8" y="687.5" width="49.6" height="211.5" fill="#ebebeb"/>
<rect x="863.4" y="687.5" width="49.6" height="211.5" fill="#ebebeb"/>
<rect x="922" y="687.5" width="49.6" height="211.5" fill="#ebebeb"/>
<rect x="980.6" y="687.5" width="49.6" height="211.5" fill="#ebebeb"/>
<rect x="1039.2" y="687.5" width="49.6" height="211.5" fill="#ebebeb"/>
<rect x="1097.8" y="687.5" width="49.6" height="211.5" fill="#ebebeb"/>
<rect x="1156.4" y="687.5" width="49.6" height="211.5" fill="#ebebeb"/>
<line x1="209.1" y1="686.8" x2="209.1" y2="899.8" stroke="#111" stroke-width="1.7" />
<line x1="204.3" y1="899.8" x2="209.9" y2="899.8" stroke="#111" stroke-width="1.7" />
<line x1="204.3" y1="686.8" x2="209.9" y2="686.8" stroke="#111" stroke-width="1.7" />
<line x1="206" y1="857.2" x2="209.9" y2="857.2" stroke="#111" stroke-width="1.3" />
<line x1="206" y1="814.6" x2="209.9" y2="814.6" stroke="#111" stroke-width="1.3" />
<line x1="206" y1="772" x2="209.9" y2="772" stroke="#111" stroke-width="1.3" />
<line x1="206" y1="729.4" x2="209.9" y2="729.4" stroke="#111" stroke-width="1.3" />
<text x="203" y="693.8" font-size="20.2" text-anchor="end" font-weight="normal" fill="#1a1a1a" >10</text>
<text x="203" y="907" font-size="20.2" text-anchor="end" font-weight="normal" fill="#1a1a1a" >0</text>
<text x="0" y="0" font-size="21.9" text-anchor="middle" fill="#1a1a1a" transform="translate(119.6,795.5) rotate(-90)">target acquisition</text>
<text x="0" y="0" font-size="21.9" text-anchor="middle" fill="#1a1a1a" transform="translate(145.3,795.2) rotate(-90)">time (s)</text>
<polyline points="218.7,913 218.7,910.2 268.8,910.2 268.8,913" fill="none" stroke="#222" stroke-width="1.6" stroke-linejoin="round" stroke-linecap="round" />
<text x="218.7" y="933" font-size="20.5" text-anchor="middle" font-weight="normal" fill="#1a1a1a" >0</text>
<text x="268.8" y="933" font-size="20.5" text-anchor="middle" font-weight="normal" fill="#1a1a1a" >180</text>
<text x="636.5" y="948.8" font-size="21.3" text-anchor="middle" font-weight="normal" fill="#1a1a1a" >time (s)</text>
<circle cx="229.2" cy="823.8" r="3.3" fill="#0a8196" stroke="#fff" stroke-width="0.45"/>
<circle cx="235" cy="814.1" r="3.3" fill="#0a8196" stroke="#fff" stroke-width="0.45"/>
<circle cx="223.9" cy="823.3" r="3.3" fill="#0a8196" stroke="#fff" stroke-width="0.45"/>
<circle cx="224.3" cy="833.1" r="3.3" fill="#0a8196" stroke="#fff" stroke-width="0.45"/>
<circle cx="241.8" cy="843.1" r="3.3" fill="#0a8196" stroke="#fff" stroke-width="0.45"/>
<circle cx="253.1" cy="825.9" r="3.3" fill="#0a8196" stroke="#fff" stroke-width="0.45"/>
<circle cx="262.8" cy="835.6" r="3.3" fill="#0a8196" stroke="#fff" stroke-width="0.45"/>
<circle cx="263.3" cy="839.1" r="3.3" fill="#0a8196" stroke="#fff" stroke-width="0.45"/>
<circle cx="254.6" cy="851.7" r="3.3" fill="#0a8196" stroke="#fff" stroke-width="0.45"/>
<circle cx="257.7" cy="845.7" r="3.3" fill="#0a8196" stroke="#fff" stroke-width="0.45"/>
<circle cx="252.5" cy="843.4" r="3.3" fill="#0a8196" stroke="#fff" stroke-width="0.45"/>
<circle cx="227.2" cy="852.6" r="3.3" fill="#0a8196" stroke="#fff" stroke-width="0.45"/>
<circle cx="255.6" cy="862.8" r="3.3" fill="#0a8196" stroke="#fff" stroke-width="0.45"/>
<circle cx="263.2" cy="867.3" r="3.3" fill="#0a8196" stroke="#fff" stroke-width="0.45"/>
<circle cx="246" cy="881" r="3.3" fill="#0a8196" stroke="#fff" stroke-width="0.45"/>
<circle cx="323.8" cy="827.5" r="3.3" fill="#0a8196" stroke="#fff" stroke-width="0.45"/>
<circle cx="281.5" cy="831.6" r="3.3" fill="#0a8196" stroke="#fff" stroke-width="0.45"/>
<circle cx="282.4" cy="856.1" r="3.3" fill="#0a8196" stroke="#fff" stroke-width="0.45"/>
<circle cx="295.2" cy="847.6" r="3.3" fill="#0a8196" stroke="#fff" stroke-width="0.45"/>
<circle cx="304.9" cy="845.9" r="3.3" fill="#0a8196" stroke="#fff" stroke-width="0.45"/>
<circle cx="295.6" cy="849.8" r="3.3" fill="#0a8196" stroke="#fff" stroke-width="0.45"/>
<circle cx="305.5" cy="858.1" r="3.3" fill="#0a8196" stroke="#fff" stroke-width="0.45"/>
<circle cx="304.3" cy="861.2" r="3.3" fill="#0a8196" stroke="#fff" stroke-width="0.45"/>
<circle cx="326" cy="855.9" r="3.3" fill="#0a8196" stroke="#fff" stroke-width="0.45"/>
<circle cx="330.5" cy="867.1" r="3.3" fill="#0a8196" stroke="#fff" stroke-width="0.45"/>
<circle cx="278.8" cy="862.5" r="3.3" fill="#0a8196" stroke="#fff" stroke-width="0.45"/>
<circle cx="310" cy="869.4" r="3.3" fill="#0a8196" stroke="#fff" stroke-width="0.45"/>
<circle cx="314.5" cy="866" r="3.3" fill="#0a8196" stroke="#fff" stroke-width="0.45"/>
<circle cx="326.3" cy="869.7" r="3.3" fill="#0a8196" stroke="#fff" stroke-width="0.45"/>
<circle cx="302.8" cy="881.2" r="3.3" fill="#0a8196" stroke="#fff" stroke-width="0.45"/>
<circle cx="313.3" cy="880.1" r="3.3" fill="#0a8196" stroke="#fff" stroke-width="0.45"/>
<circle cx="311.1" cy="874.7" r="3.3" fill="#0a8196" stroke="#fff" stroke-width="0.45"/>
<circle cx="843.1" cy="825.8" r="3.3" fill="#0a8196" stroke="#fff" stroke-width="0.45"/>
<circle cx="827.2" cy="843.4" r="3.3" fill="#0a8196" stroke="#fff" stroke-width="0.45"/>
<circle cx="814.9" cy="860.6" r="3.3" fill="#0a8196" stroke="#fff" stroke-width="0.45"/>
<circle cx="835.9" cy="854.8" r="3.3" fill="#0a8196" stroke="#fff" stroke-width="0.45"/>
<circle cx="848.6" cy="846.7" r="3.3" fill="#0a8196" stroke="#fff" stroke-width="0.45"/>
<circle cx="855.7" cy="854" r="3.3" fill="#0a8196" stroke="#fff" stroke-width="0.45"/>
<circle cx="858.5" cy="864.2" r="3.3" fill="#0a8196" stroke="#fff" stroke-width="0.45"/>
<circle cx="830.3" cy="860.9" r="3.3" fill="#0a8196" stroke="#fff" stroke-width="0.45"/>
<circle cx="840.4" cy="856.9" r="3.3" fill="#0a8196" stroke="#fff" stroke-width="0.45"/>
<circle cx="828.3" cy="863.7" r="3.3" fill="#0a8196" stroke="#fff" stroke-width="0.45"/>
<circle cx="898.1" cy="813.3" r="3.3" fill="#0a8196" stroke="#fff" stroke-width="0.45"/>
<circle cx="909" cy="825.3" r="3.3" fill="#0a8196" stroke="#fff" stroke-width="0.45"/>
<circle cx="891.3" cy="828.8" r="3.3" fill="#0a8196" stroke="#fff" stroke-width="0.45"/>
<circle cx="905.8" cy="825.4" r="3.3" fill="#0a8196" stroke="#fff" stroke-width="0.45"/>
<circle cx="902.6" cy="834.4" r="3.3" fill="#0a8196" stroke="#fff" stroke-width="0.45"/>
<circle cx="867.3" cy="838.1" r="3.3" fill="#0a8196" stroke="#fff" stroke-width="0.45"/>
<circle cx="866.6" cy="848.7" r="3.3" fill="#0a8196" stroke="#fff" stroke-width="0.45"/>
<circle cx="879.6" cy="848.2" r="3.3" fill="#0a8196" stroke="#fff" stroke-width="0.45"/>
<circle cx="875.4" cy="844.1" r="3.3" fill="#0a8196" stroke="#fff" stroke-width="0.45"/>
<circle cx="887.1" cy="856.4" r="3.3" fill="#0a8196" stroke="#fff" stroke-width="0.45"/>
<circle cx="859.7" cy="853.1" r="3.3" fill="#0a8196" stroke="#fff" stroke-width="0.45"/>
<circle cx="896.9" cy="855.3" r="3.3" fill="#0a8196" stroke="#fff" stroke-width="0.45"/>
<circle cx="878.1" cy="879.5" r="3.3" fill="#0a8196" stroke="#fff" stroke-width="0.45"/>
<circle cx="876.2" cy="881" r="3.3" fill="#0a8196" stroke="#fff" stroke-width="0.45"/>
<circle cx="942.9" cy="828.5" r="3.3" fill="#0a8196" stroke="#fff" stroke-width="0.45"/>
<circle cx="936.6" cy="823.8" r="3.3" fill="#0a8196" stroke="#fff" stroke-width="0.45"/>
<circle cx="955.6" cy="837.8" r="3.3" fill="#0a8196" stroke="#fff" stroke-width="0.45"/>
<circle cx="935.3" cy="835.9" r="3.3" fill="#0a8196" stroke="#fff" stroke-width="0.45"/>
<circle cx="934.9" cy="846.2" r="3.3" fill="#0a8196" stroke="#fff" stroke-width="0.45"/>
<circle cx="956.6" cy="838.9" r="3.3" fill="#0a8196" stroke="#fff" stroke-width="0.45"/>
<circle cx="960.2" cy="852.6" r="3.3" fill="#0a8196" stroke="#fff" stroke-width="0.45"/>
<circle cx="959.8" cy="856.5" r="3.3" fill="#0a8196" stroke="#fff" stroke-width="0.45"/>
<circle cx="926.6" cy="872" r="3.3" fill="#0a8196" stroke="#fff" stroke-width="0.45"/>
<circle cx="936.3" cy="870.1" r="3.3" fill="#0a8196" stroke="#fff" stroke-width="0.45"/>
<circle cx="954.1" cy="862.2" r="3.3" fill="#0a8196" stroke="#fff" stroke-width="0.45"/>
<circle cx="968.2" cy="869.2" r="3.3" fill="#0a8196" stroke="#fff" stroke-width="0.45"/>
<circle cx="968.7" cy="881.8" r="3.3" fill="#0a8196" stroke="#fff" stroke-width="0.45"/>
<circle cx="973.4" cy="880.1" r="3.3" fill="#0a8196" stroke="#fff" stroke-width="0.45"/>
<circle cx="1002.4" cy="833" r="3.3" fill="#0a8196" stroke="#fff" stroke-width="0.45"/>
<circle cx="1030.4" cy="832.6" r="3.3" fill="#0a8196" stroke="#fff" stroke-width="0.45"/>
<circle cx="976.7" cy="857.9" r="3.3" fill="#0a8196" stroke="#fff" stroke-width="0.45"/>
<circle cx="989" cy="850.9" r="3.3" fill="#0a8196" stroke="#fff" stroke-width="0.45"/>
<circle cx="1030" cy="857.1" r="3.3" fill="#0a8196" stroke="#fff" stroke-width="0.45"/>
<circle cx="1033.4" cy="861.2" r="3.3" fill="#0a8196" stroke="#fff" stroke-width="0.45"/>
<circle cx="1010" cy="864" r="3.3" fill="#0a8196" stroke="#fff" stroke-width="0.45"/>
<circle cx="1013" cy="860.6" r="3.3" fill="#0a8196" stroke="#fff" stroke-width="0.45"/>
<circle cx="1021.3" cy="863.9" r="3.3" fill="#0a8196" stroke="#fff" stroke-width="0.45"/>
<circle cx="990.8" cy="864.5" r="3.3" fill="#0a8196" stroke="#fff" stroke-width="0.45"/>
<circle cx="1013" cy="863.3" r="3.3" fill="#0a8196" stroke="#fff" stroke-width="0.45"/>
<circle cx="1037.4" cy="836.9" r="3.3" fill="#0a8196" stroke="#fff" stroke-width="0.45"/>
<circle cx="1050.3" cy="840.5" r="3.3" fill="#0a8196" stroke="#fff" stroke-width="0.45"/>
<circle cx="1054" cy="846.6" r="3.3" fill="#0a8196" stroke="#fff" stroke-width="0.45"/>
<circle cx="1084.5" cy="842.1" r="3.3" fill="#0a8196" stroke="#fff" stroke-width="0.45"/>
<circle cx="1081.4" cy="840.4" r="3.3" fill="#0a8196" stroke="#fff" stroke-width="0.45"/>
<circle cx="1078.8" cy="847.2" r="3.3" fill="#0a8196" stroke="#fff" stroke-width="0.45"/>
<circle cx="1035.9" cy="855.3" r="3.3" fill="#0a8196" stroke="#fff" stroke-width="0.45"/>
<circle cx="1083.6" cy="853.7" r="3.3" fill="#0a8196" stroke="#fff" stroke-width="0.45"/>
<circle cx="1065.2" cy="854.8" r="3.3" fill="#0a8196" stroke="#fff" stroke-width="0.45"/>
<circle cx="1082.4" cy="858.6" r="3.3" fill="#0a8196" stroke="#fff" stroke-width="0.45"/>
<circle cx="1085.4" cy="866.8" r="3.3" fill="#0a8196" stroke="#fff" stroke-width="0.45"/>
<circle cx="1054.1" cy="868.9" r="3.3" fill="#0a8196" stroke="#fff" stroke-width="0.45"/>
<circle cx="1133.2" cy="814.1" r="3.3" fill="#0a8196" stroke="#fff" stroke-width="0.45"/>
<circle cx="1142.8" cy="831.1" r="3.3" fill="#0a8196" stroke="#fff" stroke-width="0.45"/>
<circle cx="1137.5" cy="835.8" r="3.3" fill="#0a8196" stroke="#fff" stroke-width="0.45"/>
<circle cx="1117.8" cy="835.1" r="3.3" fill="#0a8196" stroke="#fff" stroke-width="0.45"/>
<circle cx="1120.2" cy="835.5" r="3.3" fill="#0a8196" stroke="#fff" stroke-width="0.45"/>
<circle cx="1121.6" cy="843.7" r="3.3" fill="#0a8196" stroke="#fff" stroke-width="0.45"/>
<circle cx="1123.5" cy="841.1" r="3.3" fill="#0a8196" stroke="#fff" stroke-width="0.45"/>
<circle cx="1133.7" cy="838" r="3.3" fill="#0a8196" stroke="#fff" stroke-width="0.45"/>
<circle cx="1145.2" cy="847.9" r="3.3" fill="#0a8196" stroke="#fff" stroke-width="0.45"/>
<circle cx="1115" cy="851.3" r="3.3" fill="#0a8196" stroke="#fff" stroke-width="0.45"/>
<circle cx="1111" cy="849.1" r="3.3" fill="#0a8196" stroke="#fff" stroke-width="0.45"/>
<circle cx="1130" cy="851.9" r="3.3" fill="#0a8196" stroke="#fff" stroke-width="0.45"/>
<circle cx="1101.9" cy="857" r="3.3" fill="#0a8196" stroke="#fff" stroke-width="0.45"/>
<circle cx="1129.6" cy="853.8" r="3.3" fill="#0a8196" stroke="#fff" stroke-width="0.45"/>
<circle cx="1135.6" cy="849.6" r="3.3" fill="#0a8196" stroke="#fff" stroke-width="0.45"/>
<circle cx="1112.7" cy="865.1" r="3.3" fill="#0a8196" stroke="#fff" stroke-width="0.45"/>
<circle cx="1124.3" cy="866.8" r="3.3" fill="#0a8196" stroke="#fff" stroke-width="0.45"/>
<circle cx="1122.6" cy="866.7" r="3.3" fill="#0a8196" stroke="#fff" stroke-width="0.45"/>
<circle cx="1142.2" cy="858.4" r="3.3" fill="#0a8196" stroke="#fff" stroke-width="0.45"/>
<circle cx="1114.9" cy="877.7" r="3.3" fill="#0a8196" stroke="#fff" stroke-width="0.45"/>
<circle cx="1142.6" cy="876.4" r="3.3" fill="#0a8196" stroke="#fff" stroke-width="0.45"/>
<circle cx="1176.7" cy="829.5" r="3.3" fill="#0a8196" stroke="#fff" stroke-width="0.45"/>
<circle cx="1183.2" cy="836.3" r="3.3" fill="#0a8196" stroke="#fff" stroke-width="0.45"/>
<circle cx="1199.4" cy="826.5" r="3.3" fill="#0a8196" stroke="#fff" stroke-width="0.45"/>
<circle cx="1195.9" cy="839.3" r="3.3" fill="#0a8196" stroke="#fff" stroke-width="0.45"/>
<circle cx="1161.4" cy="840.4" r="3.3" fill="#0a8196" stroke="#fff" stroke-width="0.45"/>
<circle cx="1173.2" cy="845.2" r="3.3" fill="#0a8196" stroke="#fff" stroke-width="0.45"/>
<circle cx="1158.8" cy="849.9" r="3.3" fill="#0a8196" stroke="#fff" stroke-width="0.45"/>
<circle cx="1197.9" cy="838.3" r="3.3" fill="#0a8196" stroke="#fff" stroke-width="0.45"/>
<circle cx="1197.7" cy="844.1" r="3.3" fill="#0a8196" stroke="#fff" stroke-width="0.45"/>
<circle cx="1188.2" cy="849.2" r="3.3" fill="#0a8196" stroke="#fff" stroke-width="0.45"/>
<circle cx="1181.8" cy="864.3" r="3.3" fill="#0a8196" stroke="#fff" stroke-width="0.45"/>
<circle cx="1155.5" cy="861.6" r="3.3" fill="#0a8196" stroke="#fff" stroke-width="0.45"/>
<circle cx="337.5" cy="834.2" r="3.3" fill="#0a8196" stroke="#fff" stroke-width="0.45"/>
<circle cx="359.2" cy="825.3" r="3.3" fill="#0a8196" stroke="#fff" stroke-width="0.45"/>
<circle cx="366.4" cy="825.8" r="3.3" fill="#0a8196" stroke="#fff" stroke-width="0.45"/>
<circle cx="386" cy="843.9" r="3.3" fill="#0a8196" stroke="#fff" stroke-width="0.45"/>
<circle cx="365.3" cy="849.3" r="3.3" fill="#0a8196" stroke="#fff" stroke-width="0.45"/>
<circle cx="345.6" cy="854.1" r="3.3" fill="#0a8196" stroke="#fff" stroke-width="0.45"/>
<circle cx="369.9" cy="848.4" r="3.3" fill="#0a8196" stroke="#fff" stroke-width="0.45"/>
<circle cx="372.5" cy="864.6" r="3.3" fill="#0a8196" stroke="#fff" stroke-width="0.45"/>
<circle cx="373.8" cy="858.6" r="3.3" fill="#0a8196" stroke="#fff" stroke-width="0.45"/>
<circle cx="349.6" cy="864.7" r="3.3" fill="#0a8196" stroke="#fff" stroke-width="0.45"/>
<circle cx="380.6" cy="874.9" r="3.3" fill="#0a8196" stroke="#fff" stroke-width="0.45"/>
<circle cx="341" cy="868.8" r="3.3" fill="#0a8196" stroke="#fff" stroke-width="0.45"/>
<circle cx="420.6" cy="838.9" r="3.3" fill="#0a8196" stroke="#fff" stroke-width="0.45"/>
<circle cx="416.7" cy="850.9" r="3.3" fill="#0a8196" stroke="#fff" stroke-width="0.45"/>
<circle cx="427.6" cy="842.7" r="3.3" fill="#0a8196" stroke="#fff" stroke-width="0.45"/>
<circle cx="441.8" cy="852.6" r="3.3" fill="#0a8196" stroke="#fff" stroke-width="0.45"/>
<circle cx="404.7" cy="853.1" r="3.3" fill="#0a8196" stroke="#fff" stroke-width="0.45"/>
<circle cx="475.2" cy="823.7" r="3.3" fill="#0a8196" stroke="#fff" stroke-width="0.45"/>
<circle cx="479.7" cy="814.6" r="3.3" fill="#0a8196" stroke="#fff" stroke-width="0.45"/>
<circle cx="503.6" cy="853.8" r="3.3" fill="#0a8196" stroke="#fff" stroke-width="0.45"/>
<circle cx="488.6" cy="851.2" r="3.3" fill="#0a8196" stroke="#fff" stroke-width="0.45"/>
<circle cx="472.3" cy="872.7" r="3.3" fill="#0a8196" stroke="#fff" stroke-width="0.45"/>
<circle cx="480.9" cy="865.3" r="3.3" fill="#0a8196" stroke="#fff" stroke-width="0.45"/>
<circle cx="521.1" cy="829.4" r="3.3" fill="#0a8196" stroke="#fff" stroke-width="0.45"/>
<circle cx="545.6" cy="826.6" r="3.3" fill="#0a8196" stroke="#fff" stroke-width="0.45"/>
<circle cx="528.8" cy="833.7" r="3.3" fill="#0a8196" stroke="#fff" stroke-width="0.45"/>
<circle cx="565.2" cy="837.9" r="3.3" fill="#0a8196" stroke="#fff" stroke-width="0.45"/>
<circle cx="544.5" cy="844.8" r="3.3" fill="#0a8196" stroke="#fff" stroke-width="0.45"/>
<circle cx="563.9" cy="852.6" r="3.3" fill="#0a8196" stroke="#fff" stroke-width="0.45"/>
<circle cx="513.2" cy="875.8" r="3.3" fill="#0a8196" stroke="#fff" stroke-width="0.45"/>
<circle cx="548.1" cy="872.1" r="3.3" fill="#0a8196" stroke="#fff" stroke-width="0.45"/>
<circle cx="608" cy="812" r="3.3" fill="#0a8196" stroke="#fff" stroke-width="0.45"/>
<circle cx="576.8" cy="826.8" r="3.3" fill="#0a8196" stroke="#fff" stroke-width="0.45"/>
<circle cx="595" cy="836.8" r="3.3" fill="#0a8196" stroke="#fff" stroke-width="0.45"/>
<circle cx="592.2" cy="850.7" r="3.3" fill="#0a8196" stroke="#fff" stroke-width="0.45"/>
<circle cx="578.6" cy="857" r="3.3" fill="#0a8196" stroke="#fff" stroke-width="0.45"/>
<circle cx="590.1" cy="848.5" r="3.3" fill="#0a8196" stroke="#fff" stroke-width="0.45"/>
<circle cx="568.1" cy="864.5" r="3.3" fill="#0a8196" stroke="#fff" stroke-width="0.45"/>
<circle cx="586.1" cy="865.5" r="3.3" fill="#0a8196" stroke="#fff" stroke-width="0.45"/>
<circle cx="591.2" cy="869.6" r="3.3" fill="#0a8196" stroke="#fff" stroke-width="0.45"/>
<circle cx="595.6" cy="856.4" r="3.3" fill="#0a8196" stroke="#fff" stroke-width="0.45"/>
<circle cx="652.4" cy="819" r="3.3" fill="#0a8196" stroke="#fff" stroke-width="0.45"/>
<circle cx="648" cy="844.4" r="3.3" fill="#0a8196" stroke="#fff" stroke-width="0.45"/>
<circle cx="627.7" cy="847.3" r="3.3" fill="#0a8196" stroke="#fff" stroke-width="0.45"/>
<circle cx="655" cy="853.6" r="3.3" fill="#0a8196" stroke="#fff" stroke-width="0.45"/>
<circle cx="678.5" cy="855.2" r="3.3" fill="#0a8196" stroke="#fff" stroke-width="0.45"/>
<circle cx="671.7" cy="851.2" r="3.3" fill="#0a8196" stroke="#fff" stroke-width="0.45"/>
<circle cx="633.8" cy="852.6" r="3.3" fill="#0a8196" stroke="#fff" stroke-width="0.45"/>
<circle cx="631.2" cy="862.3" r="3.3" fill="#0a8196" stroke="#fff" stroke-width="0.45"/>
<circle cx="651.5" cy="867.8" r="3.3" fill="#0a8196" stroke="#fff" stroke-width="0.45"/>
<circle cx="648.6" cy="862.5" r="3.3" fill="#0a8196" stroke="#fff" stroke-width="0.45"/>
<circle cx="659.8" cy="870.3" r="3.3" fill="#0a8196" stroke="#fff" stroke-width="0.45"/>
<circle cx="728.8" cy="815.5" r="3.3" fill="#0a8196" stroke="#fff" stroke-width="0.45"/>
<circle cx="690.6" cy="831.3" r="3.3" fill="#0a8196" stroke="#fff" stroke-width="0.45"/>
<circle cx="701.1" cy="830.9" r="3.3" fill="#0a8196" stroke="#fff" stroke-width="0.45"/>
<circle cx="725.2" cy="831.3" r="3.3" fill="#0a8196" stroke="#fff" stroke-width="0.45"/>
<circle cx="738.9" cy="836.2" r="3.3" fill="#0a8196" stroke="#fff" stroke-width="0.45"/>
<circle cx="700.9" cy="848" r="3.3" fill="#0a8196" stroke="#fff" stroke-width="0.45"/>
<circle cx="703.6" cy="849.3" r="3.3" fill="#0a8196" stroke="#fff" stroke-width="0.45"/>
<circle cx="733.1" cy="850.6" r="3.3" fill="#0a8196" stroke="#fff" stroke-width="0.45"/>
<circle cx="724.3" cy="851.3" r="3.3" fill="#0a8196" stroke="#fff" stroke-width="0.45"/>
<circle cx="738.8" cy="853.4" r="3.3" fill="#0a8196" stroke="#fff" stroke-width="0.45"/>
<circle cx="695" cy="861.4" r="3.3" fill="#0a8196" stroke="#fff" stroke-width="0.45"/>
<circle cx="724.1" cy="863.6" r="3.3" fill="#0a8196" stroke="#fff" stroke-width="0.45"/>
<circle cx="751.3" cy="833.3" r="3.3" fill="#0a8196" stroke="#fff" stroke-width="0.45"/>
<circle cx="788.3" cy="833.5" r="3.3" fill="#0a8196" stroke="#fff" stroke-width="0.45"/>
<circle cx="792.5" cy="831.3" r="3.3" fill="#0a8196" stroke="#fff" stroke-width="0.45"/>
<circle cx="774.6" cy="850.9" r="3.3" fill="#0a8196" stroke="#fff" stroke-width="0.45"/>
<circle cx="775.8" cy="854" r="3.3" fill="#0a8196" stroke="#fff" stroke-width="0.45"/>
<circle cx="781.6" cy="865.8" r="3.3" fill="#0a8196" stroke="#fff" stroke-width="0.45"/>
<circle cx="784.7" cy="865" r="3.3" fill="#0a8196" stroke="#fff" stroke-width="0.45"/>
<circle cx="754.4" cy="869.3" r="3.3" fill="#0a8196" stroke="#fff" stroke-width="0.45"/>
<circle cx="247" cy="783.8" r="3.3" fill="#0a8196" stroke="#fff" stroke-width="0.45"/>
<circle cx="248.9" cy="792.6" r="3.3" fill="#0a8196" stroke="#fff" stroke-width="0.45"/>
<circle cx="258.1" cy="808.2" r="3.3" fill="#0a8196" stroke="#fff" stroke-width="0.45"/>
<circle cx="244.1" cy="812.1" r="3.3" fill="#0a8196" stroke="#fff" stroke-width="0.45"/>
<circle cx="251.4" cy="813.6" r="3.3" fill="#0a8196" stroke="#fff" stroke-width="0.45"/>
<circle cx="260.3" cy="815.1" r="3.3" fill="#0a8196" stroke="#fff" stroke-width="0.45"/>
<circle cx="228.7" cy="816.5" r="3.3" fill="#0a8196" stroke="#fff" stroke-width="0.45"/>
<circle cx="232.4" cy="819.5" r="3.3" fill="#0a8196" stroke="#fff" stroke-width="0.45"/>
<circle cx="239" cy="818" r="3.3" fill="#0a8196" stroke="#fff" stroke-width="0.45"/>
<circle cx="243.4" cy="823.1" r="3.3" fill="#0a8196" stroke="#fff" stroke-width="0.45"/>
<circle cx="261.7" cy="824.6" r="3.3" fill="#0a8196" stroke="#fff" stroke-width="0.45"/>
<circle cx="226.5" cy="826.8" r="3.3" fill="#0a8196" stroke="#fff" stroke-width="0.45"/>
<circle cx="229.4" cy="826.1" r="3.3" fill="#0a8196" stroke="#fff" stroke-width="0.45"/>
<circle cx="224.3" cy="831.2" r="3.3" fill="#0a8196" stroke="#fff" stroke-width="0.45"/>
<circle cx="231.6" cy="831.2" r="3.3" fill="#0a8196" stroke="#fff" stroke-width="0.45"/>
<circle cx="236" cy="832.7" r="3.3" fill="#0a8196" stroke="#fff" stroke-width="0.45"/>
<circle cx="238.2" cy="833.4" r="3.3" fill="#0a8196" stroke="#fff" stroke-width="0.45"/>
<circle cx="221.3" cy="837.1" r="3.3" fill="#0a8196" stroke="#fff" stroke-width="0.45"/>
<circle cx="233.1" cy="840" r="3.3" fill="#0a8196" stroke="#fff" stroke-width="0.45"/>
<circle cx="237.5" cy="840" r="3.3" fill="#0a8196" stroke="#fff" stroke-width="0.45"/>
<circle cx="252.9" cy="832.7" r="3.3" fill="#0a8196" stroke="#fff" stroke-width="0.45"/>
<circle cx="257.3" cy="830.2" r="3.3" fill="#0a8196" stroke="#fff" stroke-width="0.45"/>
<circle cx="253.6" cy="836.4" r="3.3" fill="#0a8196" stroke="#fff" stroke-width="0.45"/>
<circle cx="266.1" cy="840" r="3.3" fill="#0a8196" stroke="#fff" stroke-width="0.45"/>
<circle cx="267.6" cy="842.2" r="3.3" fill="#0a8196" stroke="#fff" stroke-width="0.45"/>
<circle cx="262.5" cy="844.4" r="3.3" fill="#0a8196" stroke="#fff" stroke-width="0.45"/>
<circle cx="258.1" cy="848.1" r="3.3" fill="#0a8196" stroke="#fff" stroke-width="0.45"/>
<circle cx="261" cy="849.6" r="3.3" fill="#0a8196" stroke="#fff" stroke-width="0.45"/>
<circle cx="255.1" cy="847.4" r="3.3" fill="#0a8196" stroke="#fff" stroke-width="0.45"/>
<circle cx="222.1" cy="849.6" r="3.3" fill="#0a8196" stroke="#fff" stroke-width="0.45"/>
<circle cx="219.9" cy="854" r="3.3" fill="#0a8196" stroke="#fff" stroke-width="0.45"/>
<circle cx="222.8" cy="855.4" r="3.3" fill="#0a8196" stroke="#fff" stroke-width="0.45"/>
<circle cx="226.5" cy="856.9" r="3.3" fill="#0a8196" stroke="#fff" stroke-width="0.45"/>
<circle cx="222.1" cy="861.3" r="3.3" fill="#0a8196" stroke="#fff" stroke-width="0.45"/>
<circle cx="230.2" cy="851" r="3.3" fill="#0a8196" stroke="#fff" stroke-width="0.45"/>
<circle cx="238.2" cy="850.3" r="3.3" fill="#0a8196" stroke="#fff" stroke-width="0.45"/>
<circle cx="240.4" cy="854" r="3.3" fill="#0a8196" stroke="#fff" stroke-width="0.45"/>
<circle cx="241.9" cy="858.4" r="3.3" fill="#0a8196" stroke="#fff" stroke-width="0.45"/>
<circle cx="249.2" cy="856.2" r="3.3" fill="#0a8196" stroke="#fff" stroke-width="0.45"/>
<circle cx="252.2" cy="859.9" r="3.3" fill="#0a8196" stroke="#fff" stroke-width="0.45"/>
<circle cx="255.1" cy="862.8" r="3.3" fill="#0a8196" stroke="#fff" stroke-width="0.45"/>
<circle cx="250.7" cy="867.2" r="3.3" fill="#0a8196" stroke="#fff" stroke-width="0.45"/>
<circle cx="254.4" cy="869.4" r="3.3" fill="#0a8196" stroke="#fff" stroke-width="0.45"/>
<circle cx="247.8" cy="867.2" r="3.3" fill="#0a8196" stroke="#fff" stroke-width="0.45"/>
<circle cx="266.1" cy="864.3" r="3.3" fill="#0a8196" stroke="#fff" stroke-width="0.45"/>
<circle cx="231.6" cy="869.4" r="3.3" fill="#0a8196" stroke="#fff" stroke-width="0.45"/>
<circle cx="236" cy="870.1" r="3.3" fill="#0a8196" stroke="#fff" stroke-width="0.45"/>
<circle cx="240.4" cy="868.7" r="3.3" fill="#0a8196" stroke="#fff" stroke-width="0.45"/>
<circle cx="226.5" cy="876.7" r="3.3" fill="#0a8196" stroke="#fff" stroke-width="0.45"/>
<circle cx="241.9" cy="877.5" r="3.3" fill="#0a8196" stroke="#fff" stroke-width="0.45"/>
<circle cx="264.7" cy="876" r="3.3" fill="#0a8196" stroke="#fff" stroke-width="0.45"/>
<circle cx="266.1" cy="877.5" r="3.3" fill="#0a8196" stroke="#fff" stroke-width="0.45"/>
<circle cx="218.4" cy="856.9" r="3.3" fill="#0a8196" stroke="#fff" stroke-width="0.45"/>
<circle cx="287.4" cy="809.9" r="3.3" fill="#0a8196" stroke="#fff" stroke-width="0.45"/>
<circle cx="310.2" cy="811.7" r="3.3" fill="#0a8196" stroke="#fff" stroke-width="0.45"/>
<circle cx="283.8" cy="819" r="3.3" fill="#0a8196" stroke="#fff" stroke-width="0.45"/>
<circle cx="322.7" cy="820.5" r="3.3" fill="#0a8196" stroke="#fff" stroke-width="0.45"/>
<circle cx="302.1" cy="821.4" r="3.3" fill="#0a8196" stroke="#fff" stroke-width="0.45"/>
<circle cx="305" cy="822.4" r="3.3" fill="#0a8196" stroke="#fff" stroke-width="0.45"/>
<circle cx="291.8" cy="827.5" r="3.3" fill="#0a8196" stroke="#fff" stroke-width="0.45"/>
<circle cx="294" cy="830.5" r="3.3" fill="#0a8196" stroke="#fff" stroke-width="0.45"/>
<circle cx="296.2" cy="832.7" r="3.3" fill="#0a8196" stroke="#fff" stroke-width="0.45"/>
<circle cx="309.4" cy="831.2" r="3.3" fill="#0a8196" stroke="#fff" stroke-width="0.45"/>
<circle cx="321.2" cy="830.5" r="3.3" fill="#0a8196" stroke="#fff" stroke-width="0.45"/>
<circle cx="285.2" cy="834.2" r="3.3" fill="#0a8196" stroke="#fff" stroke-width="0.45"/>
<circle cx="290.4" cy="839.3" r="3.3" fill="#0a8196" stroke="#fff" stroke-width="0.45"/>
<circle cx="280.1" cy="841.5" r="3.3" fill="#0a8196" stroke="#fff" stroke-width="0.45"/>
<circle cx="283" cy="843" r="3.3" fill="#0a8196" stroke="#fff" stroke-width="0.45"/>
<circle cx="279.3" cy="852.5" r="3.3" fill="#0a8196" stroke="#fff" stroke-width="0.45"/>
<circle cx="299.2" cy="843.7" r="3.3" fill="#0a8196" stroke="#fff" stroke-width="0.45"/>
<circle cx="302.1" cy="842.2" r="3.3" fill="#0a8196" stroke="#fff" stroke-width="0.45"/>
<circle cx="305.8" cy="843" r="3.3" fill="#0a8196" stroke="#fff" stroke-width="0.45"/>
<circle cx="313.9" cy="845.2" r="3.3" fill="#0a8196" stroke="#fff" stroke-width="0.45"/>
<circle cx="319.7" cy="843.7" r="3.3" fill="#0a8196" stroke="#fff" stroke-width="0.45"/>
<circle cx="324.1" cy="845.9" r="3.3" fill="#0a8196" stroke="#fff" stroke-width="0.45"/>
<circle cx="325.6" cy="851" r="3.3" fill="#0a8196" stroke="#fff" stroke-width="0.45"/>
<circle cx="316.8" cy="848.1" r="3.3" fill="#0a8196" stroke="#fff" stroke-width="0.45"/>
<circle cx="288.9" cy="856.9" r="3.3" fill="#0a8196" stroke="#fff" stroke-width="0.45"/>
<circle cx="294" cy="854" r="3.3" fill="#0a8196" stroke="#fff" stroke-width="0.45"/>
<circle cx="298.4" cy="854" r="3.3" fill="#0a8196" stroke="#fff" stroke-width="0.45"/>
<circle cx="302.1" cy="855.4" r="3.3" fill="#0a8196" stroke="#fff" stroke-width="0.45"/>
<circle cx="290.4" cy="859.9" r="3.3" fill="#0a8196" stroke="#fff" stroke-width="0.45"/>
<circle cx="295.5" cy="858.4" r="3.3" fill="#0a8196" stroke="#fff" stroke-width="0.45"/>
<circle cx="300.6" cy="858.4" r="3.3" fill="#0a8196" stroke="#fff" stroke-width="0.45"/>
<circle cx="308" cy="857.7" r="3.3" fill="#0a8196" stroke="#fff" stroke-width="0.45"/>
<circle cx="310.9" cy="861.3" r="3.3" fill="#0a8196" stroke="#fff" stroke-width="0.45"/>
<circle cx="315.3" cy="862.8" r="3.3" fill="#0a8196" stroke="#fff" stroke-width="0.45"/>
<circle cx="319.7" cy="856.9" r="3.3" fill="#0a8196" stroke="#fff" stroke-width="0.45"/>
<circle cx="323.4" cy="859.9" r="3.3" fill="#0a8196" stroke="#fff" stroke-width="0.45"/>
<circle cx="327.1" cy="862.8" r="3.3" fill="#0a8196" stroke="#fff" stroke-width="0.45"/>
<circle cx="281.5" cy="861.3" r="3.3" fill="#0a8196" stroke="#fff" stroke-width="0.45"/>
<circle cx="278.6" cy="867.2" r="3.3" fill="#0a8196" stroke="#fff" stroke-width="0.45"/>
<circle cx="283" cy="865.7" r="3.3" fill="#0a8196" stroke="#fff" stroke-width="0.45"/>
<circle cx="287.4" cy="869.4" r="3.3" fill="#0a8196" stroke="#fff" stroke-width="0.45"/>
<circle cx="291.8" cy="867.2" r="3.3" fill="#0a8196" stroke="#fff" stroke-width="0.45"/>
<circle cx="296.2" cy="862.8" r="3.3" fill="#0a8196" stroke="#fff" stroke-width="0.45"/>
<circle cx="302.1" cy="861.3" r="3.3" fill="#0a8196" stroke="#fff" stroke-width="0.45"/>
<circle cx="308" cy="863.5" r="3.3" fill="#0a8196" stroke="#fff" stroke-width="0.45"/>
<circle cx="313.9" cy="865.7" r="3.3" fill="#0a8196" stroke="#fff" stroke-width="0.45"/>
<circle cx="318.3" cy="868.7" r="3.3" fill="#0a8196" stroke="#fff" stroke-width="0.45"/>
<circle cx="322.7" cy="867.2" r="3.3" fill="#0a8196" stroke="#fff" stroke-width="0.45"/>
<circle cx="326.3" cy="868.7" r="3.3" fill="#0a8196" stroke="#fff" stroke-width="0.45"/>
<circle cx="284.5" cy="874.5" r="3.3" fill="#0a8196" stroke="#fff" stroke-width="0.45"/>
<circle cx="288.9" cy="877.5" r="3.3" fill="#0a8196" stroke="#fff" stroke-width="0.45"/>
<circle cx="299.2" cy="876.7" r="3.3" fill="#0a8196" stroke="#fff" stroke-width="0.45"/>
<circle cx="305" cy="871.6" r="3.3" fill="#0a8196" stroke="#fff" stroke-width="0.45"/>
<circle cx="309.4" cy="876" r="3.3" fill="#0a8196" stroke="#fff" stroke-width="0.45"/>
<circle cx="313.9" cy="877.5" r="3.3" fill="#0a8196" stroke="#fff" stroke-width="0.45"/>
<circle cx="319.7" cy="876" r="3.3" fill="#0a8196" stroke="#fff" stroke-width="0.45"/>
<circle cx="324.1" cy="873.1" r="3.3" fill="#0a8196" stroke="#fff" stroke-width="0.45"/>
<circle cx="310.9" cy="878.9" r="3.3" fill="#0a8196" stroke="#fff" stroke-width="0.45"/>
<circle cx="316.8" cy="871.6" r="3.3" fill="#0a8196" stroke="#fff" stroke-width="0.45"/>
<circle cx="321.2" cy="878.9" r="3.3" fill="#0a8196" stroke="#fff" stroke-width="0.45"/>
<circle cx="818.1" cy="792" r="3.3" fill="#0a8196" stroke="#fff" stroke-width="0.45"/>
<circle cx="811.9" cy="808.8" r="3.3" fill="#0a8196" stroke="#fff" stroke-width="0.45"/>
<circle cx="829.1" cy="821.4" r="3.3" fill="#0a8196" stroke="#fff" stroke-width="0.45"/>
<circle cx="833.5" cy="824.6" r="3.3" fill="#0a8196" stroke="#fff" stroke-width="0.45"/>
<circle cx="851.1" cy="823.9" r="3.3" fill="#0a8196" stroke="#fff" stroke-width="0.45"/>
<circle cx="816.6" cy="830.8" r="3.3" fill="#0a8196" stroke="#fff" stroke-width="0.45"/>
<circle cx="821" cy="833.4" r="3.3" fill="#0a8196" stroke="#fff" stroke-width="0.45"/>
<circle cx="823.2" cy="836.4" r="3.3" fill="#0a8196" stroke="#fff" stroke-width="0.45"/>
<circle cx="840.1" cy="830.2" r="3.3" fill="#0a8196" stroke="#fff" stroke-width="0.45"/>
<circle cx="843.1" cy="831.2" r="3.3" fill="#0a8196" stroke="#fff" stroke-width="0.45"/>
<circle cx="853.3" cy="830.2" r="3.3" fill="#0a8196" stroke="#fff" stroke-width="0.45"/>
<circle cx="854.1" cy="837.5" r="3.3" fill="#0a8196" stroke="#fff" stroke-width="0.45"/>
<circle cx="804.9" cy="840.5" r="3.3" fill="#0a8196" stroke="#fff" stroke-width="0.45"/>
<circle cx="809.3" cy="840" r="3.3" fill="#0a8196" stroke="#fff" stroke-width="0.45"/>
<circle cx="814.4" cy="844.9" r="3.3" fill="#0a8196" stroke="#fff" stroke-width="0.45"/>
<circle cx="816.6" cy="847.4" r="3.3" fill="#0a8196" stroke="#fff" stroke-width="0.45"/>
<circle cx="822.5" cy="840.8" r="3.3" fill="#0a8196" stroke="#fff" stroke-width="0.45"/>
<circle cx="831.3" cy="839.3" r="3.3" fill="#0a8196" stroke="#fff" stroke-width="0.45"/>
<circle cx="835.7" cy="840" r="3.3" fill="#0a8196" stroke="#fff" stroke-width="0.45"/>
<circle cx="838.6" cy="837.8" r="3.3" fill="#0a8196" stroke="#fff" stroke-width="0.45"/>
<circle cx="840.1" cy="841.5" r="3.3" fill="#0a8196" stroke="#fff" stroke-width="0.45"/>
<circle cx="807.8" cy="849.6" r="3.3" fill="#0a8196" stroke="#fff" stroke-width="0.45"/>
<circle cx="805.6" cy="856.9" r="3.3" fill="#0a8196" stroke="#fff" stroke-width="0.45"/>
<circle cx="811.5" cy="856.9" r="3.3" fill="#0a8196" stroke="#fff" stroke-width="0.45"/>
<circle cx="813.7" cy="854" r="3.3" fill="#0a8196" stroke="#fff" stroke-width="0.45"/>
<circle cx="821" cy="854" r="3.3" fill="#0a8196" stroke="#fff" stroke-width="0.45"/>
<circle cx="824" cy="852.5" r="3.3" fill="#0a8196" stroke="#fff" stroke-width="0.45"/>
<circle cx="828.4" cy="849.6" r="3.3" fill="#0a8196" stroke="#fff" stroke-width="0.45"/>
<circle cx="832.8" cy="851" r="3.3" fill="#0a8196" stroke="#fff" stroke-width="0.45"/>
<circle cx="837.2" cy="848.1" r="3.3" fill="#0a8196" stroke="#fff" stroke-width="0.45"/>
<circle cx="841.6" cy="854" r="3.3" fill="#0a8196" stroke="#fff" stroke-width="0.45"/>
<circle cx="846" cy="849.6" r="3.3" fill="#0a8196" stroke="#fff" stroke-width="0.45"/>
<circle cx="848.9" cy="854" r="3.3" fill="#0a8196" stroke="#fff" stroke-width="0.45"/>
<circle cx="851.9" cy="858.4" r="3.3" fill="#0a8196" stroke="#fff" stroke-width="0.45"/>
<circle cx="854.1" cy="861.3" r="3.3" fill="#0a8196" stroke="#fff" stroke-width="0.45"/>
<circle cx="819.6" cy="858.4" r="3.3" fill="#0a8196" stroke="#fff" stroke-width="0.45"/>
<circle cx="822.5" cy="861.3" r="3.3" fill="#0a8196" stroke="#fff" stroke-width="0.45"/>
<circle cx="826.9" cy="856.9" r="3.3" fill="#0a8196" stroke="#fff" stroke-width="0.45"/>
<circle cx="829.8" cy="861.3" r="3.3" fill="#0a8196" stroke="#fff" stroke-width="0.45"/>
<circle cx="834.2" cy="859.9" r="3.3" fill="#0a8196" stroke="#fff" stroke-width="0.45"/>
<circle cx="838.6" cy="858.4" r="3.3" fill="#0a8196" stroke="#fff" stroke-width="0.45"/>
<circle cx="843.1" cy="861.3" r="3.3" fill="#0a8196" stroke="#fff" stroke-width="0.45"/>
<circle cx="847.5" cy="858.4" r="3.3" fill="#0a8196" stroke="#fff" stroke-width="0.45"/>
<circle cx="825.4" cy="867.2" r="3.3" fill="#0a8196" stroke="#fff" stroke-width="0.45"/>
<circle cx="828.4" cy="865.7" r="3.3" fill="#0a8196" stroke="#fff" stroke-width="0.45"/>
<circle cx="832.8" cy="868.7" r="3.3" fill="#0a8196" stroke="#fff" stroke-width="0.45"/>
<circle cx="835.7" cy="867.2" r="3.3" fill="#0a8196" stroke="#fff" stroke-width="0.45"/>
<circle cx="843.1" cy="867.2" r="3.3" fill="#0a8196" stroke="#fff" stroke-width="0.45"/>
<circle cx="847.5" cy="868.7" r="3.3" fill="#0a8196" stroke="#fff" stroke-width="0.45"/>
<circle cx="805.6" cy="874.5" r="3.3" fill="#0a8196" stroke="#fff" stroke-width="0.45"/>
<circle cx="806.3" cy="877.5" r="3.3" fill="#0a8196" stroke="#fff" stroke-width="0.45"/>
<circle cx="825.4" cy="872.3" r="3.3" fill="#0a8196" stroke="#fff" stroke-width="0.45"/>
<circle cx="893" cy="783.5" r="3.3" fill="#0a8196" stroke="#fff" stroke-width="0.45"/>
<circle cx="877.6" cy="792.6" r="3.3" fill="#0a8196" stroke="#fff" stroke-width="0.45"/>
<circle cx="882" cy="791.1" r="3.3" fill="#0a8196" stroke="#fff" stroke-width="0.45"/>
<circle cx="890.8" cy="805.8" r="3.3" fill="#0a8196" stroke="#fff" stroke-width="0.45"/>
<circle cx="902.5" cy="807" r="3.3" fill="#0a8196" stroke="#fff" stroke-width="0.45"/>
<circle cx="869.5" cy="813.2" r="3.3" fill="#0a8196" stroke="#fff" stroke-width="0.45"/>
<circle cx="884.9" cy="818.7" r="3.3" fill="#0a8196" stroke="#fff" stroke-width="0.45"/>
<circle cx="894.4" cy="817" r="3.3" fill="#0a8196" stroke="#fff" stroke-width="0.45"/>
<circle cx="912.1" cy="820.9" r="3.3" fill="#0a8196" stroke="#fff" stroke-width="0.45"/>
<circle cx="910.6" cy="826.8" r="3.3" fill="#0a8196" stroke="#fff" stroke-width="0.45"/>
<circle cx="880.1" cy="827.8" r="3.3" fill="#0a8196" stroke="#fff" stroke-width="0.45"/>
<circle cx="887.8" cy="831.7" r="3.3" fill="#0a8196" stroke="#fff" stroke-width="0.45"/>
<circle cx="901.8" cy="829" r="3.3" fill="#0a8196" stroke="#fff" stroke-width="0.45"/>
<circle cx="904.7" cy="833.4" r="3.3" fill="#0a8196" stroke="#fff" stroke-width="0.45"/>
<circle cx="906.2" cy="837.8" r="3.3" fill="#0a8196" stroke="#fff" stroke-width="0.45"/>
<circle cx="907.7" cy="840.8" r="3.3" fill="#0a8196" stroke="#fff" stroke-width="0.45"/>
<circle cx="904.7" cy="843.7" r="3.3" fill="#0a8196" stroke="#fff" stroke-width="0.45"/>
<circle cx="864.3" cy="842.2" r="3.3" fill="#0a8196" stroke="#fff" stroke-width="0.45"/>
<circle cx="868" cy="843.7" r="3.3" fill="#0a8196" stroke="#fff" stroke-width="0.45"/>
<circle cx="871" cy="845.2" r="3.3" fill="#0a8196" stroke="#fff" stroke-width="0.45"/>
<circle cx="875.4" cy="844.4" r="3.3" fill="#0a8196" stroke="#fff" stroke-width="0.45"/>
<circle cx="879.8" cy="846.6" r="3.3" fill="#0a8196" stroke="#fff" stroke-width="0.45"/>
<circle cx="894.4" cy="845.2" r="3.3" fill="#0a8196" stroke="#fff" stroke-width="0.45"/>
<circle cx="895.9" cy="848.1" r="3.3" fill="#0a8196" stroke="#fff" stroke-width="0.45"/>
<circle cx="866.5" cy="848.8" r="3.3" fill="#0a8196" stroke="#fff" stroke-width="0.45"/>
<circle cx="872.4" cy="848.1" r="3.3" fill="#0a8196" stroke="#fff" stroke-width="0.45"/>
<circle cx="887.1" cy="851" r="3.3" fill="#0a8196" stroke="#fff" stroke-width="0.45"/>
<circle cx="891.5" cy="852.5" r="3.3" fill="#0a8196" stroke="#fff" stroke-width="0.45"/>
<circle cx="910.6" cy="850.3" r="3.3" fill="#0a8196" stroke="#fff" stroke-width="0.45"/>
<circle cx="863.6" cy="856.9" r="3.3" fill="#0a8196" stroke="#fff" stroke-width="0.45"/>
<circle cx="873.9" cy="855.4" r="3.3" fill="#0a8196" stroke="#fff" stroke-width="0.45"/>
<circle cx="878.3" cy="852.5" r="3.3" fill="#0a8196" stroke="#fff" stroke-width="0.45"/>
<circle cx="884.2" cy="856.9" r="3.3" fill="#0a8196" stroke="#fff" stroke-width="0.45"/>
<circle cx="898.9" cy="855.4" r="3.3" fill="#0a8196" stroke="#fff" stroke-width="0.45"/>
<circle cx="900.3" cy="858.4" r="3.3" fill="#0a8196" stroke="#fff" stroke-width="0.45"/>
<circle cx="908.4" cy="856.9" r="3.3" fill="#0a8196" stroke="#fff" stroke-width="0.45"/>
<circle cx="866.5" cy="861.3" r="3.3" fill="#0a8196" stroke="#fff" stroke-width="0.45"/>
<circle cx="868" cy="865.7" r="3.3" fill="#0a8196" stroke="#fff" stroke-width="0.45"/>
<circle cx="871" cy="862.8" r="3.3" fill="#0a8196" stroke="#fff" stroke-width="0.45"/>
<circle cx="882.7" cy="862.8" r="3.3" fill="#0a8196" stroke="#fff" stroke-width="0.45"/>
<circle cx="885.6" cy="861.3" r="3.3" fill="#0a8196" stroke="#fff" stroke-width="0.45"/>
<circle cx="895.9" cy="865.7" r="3.3" fill="#0a8196" stroke="#fff" stroke-width="0.45"/>
<circle cx="898.9" cy="861.3" r="3.3" fill="#0a8196" stroke="#fff" stroke-width="0.45"/>
<circle cx="900.3" cy="868.7" r="3.3" fill="#0a8196" stroke="#fff" stroke-width="0.45"/>
<circle cx="863.6" cy="873.1" r="3.3" fill="#0a8196" stroke="#fff" stroke-width="0.45"/>
<circle cx="868" cy="874.5" r="3.3" fill="#0a8196" stroke="#fff" stroke-width="0.45"/>
<circle cx="875.4" cy="876" r="3.3" fill="#0a8196" stroke="#fff" stroke-width="0.45"/>
<circle cx="879.8" cy="877.5" r="3.3" fill="#0a8196" stroke="#fff" stroke-width="0.45"/>
<circle cx="885.6" cy="875.3" r="3.3" fill="#0a8196" stroke="#fff" stroke-width="0.45"/>
<circle cx="872.4" cy="871.6" r="3.3" fill="#0a8196" stroke="#fff" stroke-width="0.45"/>
<circle cx="943.2" cy="782.8" r="3.3" fill="#0a8196" stroke="#fff" stroke-width="0.45"/>
<circle cx="954.5" cy="798.9" r="3.3" fill="#0a8196" stroke="#fff" stroke-width="0.45"/>
<circle cx="928.5" cy="807.3" r="3.3" fill="#0a8196" stroke="#fff" stroke-width="0.45"/>
<circle cx="923.3" cy="819.9" r="3.3" fill="#0a8196" stroke="#fff" stroke-width="0.45"/>
<circle cx="945.4" cy="819.5" r="3.3" fill="#0a8196" stroke="#fff" stroke-width="0.45"/>
<circle cx="946.8" cy="825.3" r="3.3" fill="#0a8196" stroke="#fff" stroke-width="0.45"/>
<circle cx="930" cy="826.8" r="3.3" fill="#0a8196" stroke="#fff" stroke-width="0.45"/>
<circle cx="939.5" cy="826.8" r="3.3" fill="#0a8196" stroke="#fff" stroke-width="0.45"/>
<circle cx="936.6" cy="831.2" r="3.3" fill="#0a8196" stroke="#fff" stroke-width="0.45"/>
<circle cx="951.2" cy="833.4" r="3.3" fill="#0a8196" stroke="#fff" stroke-width="0.45"/>
<circle cx="966.7" cy="832.2" r="3.3" fill="#0a8196" stroke="#fff" stroke-width="0.45"/>
<circle cx="924.8" cy="839" r="3.3" fill="#0a8196" stroke="#fff" stroke-width="0.45"/>
<circle cx="938" cy="838.6" r="3.3" fill="#0a8196" stroke="#fff" stroke-width="0.45"/>
<circle cx="930.7" cy="843" r="3.3" fill="#0a8196" stroke="#fff" stroke-width="0.45"/>
<circle cx="935.8" cy="846.9" r="3.3" fill="#0a8196" stroke="#fff" stroke-width="0.45"/>
<circle cx="947.6" cy="843.7" r="3.3" fill="#0a8196" stroke="#fff" stroke-width="0.45"/>
<circle cx="952.7" cy="841.5" r="3.3" fill="#0a8196" stroke="#fff" stroke-width="0.45"/>
<circle cx="955.6" cy="843.7" r="3.3" fill="#0a8196" stroke="#fff" stroke-width="0.45"/>
<circle cx="958.6" cy="842.2" r="3.3" fill="#0a8196" stroke="#fff" stroke-width="0.45"/>
<circle cx="968.1" cy="842.2" r="3.3" fill="#0a8196" stroke="#fff" stroke-width="0.45"/>
<circle cx="963" cy="847.4" r="3.3" fill="#0a8196" stroke="#fff" stroke-width="0.45"/>
<circle cx="921.9" cy="848.1" r="3.3" fill="#0a8196" stroke="#fff" stroke-width="0.45"/>
<circle cx="924.8" cy="851" r="3.3" fill="#0a8196" stroke="#fff" stroke-width="0.45"/>
<circle cx="926.3" cy="854" r="3.3" fill="#0a8196" stroke="#fff" stroke-width="0.45"/>
<circle cx="948.3" cy="848.1" r="3.3" fill="#0a8196" stroke="#fff" stroke-width="0.45"/>
<circle cx="949.8" cy="852.5" r="3.3" fill="#0a8196" stroke="#fff" stroke-width="0.45"/>
<circle cx="957.1" cy="849.6" r="3.3" fill="#0a8196" stroke="#fff" stroke-width="0.45"/>
<circle cx="933.6" cy="856.9" r="3.3" fill="#0a8196" stroke="#fff" stroke-width="0.45"/>
<circle cx="943.9" cy="855.4" r="3.3" fill="#0a8196" stroke="#fff" stroke-width="0.45"/>
<circle cx="951.2" cy="856.9" r="3.3" fill="#0a8196" stroke="#fff" stroke-width="0.45"/>
<circle cx="955.6" cy="859.9" r="3.3" fill="#0a8196" stroke="#fff" stroke-width="0.45"/>
<circle cx="964.5" cy="856.9" r="3.3" fill="#0a8196" stroke="#fff" stroke-width="0.45"/>
<circle cx="968.9" cy="861.3" r="3.3" fill="#0a8196" stroke="#fff" stroke-width="0.45"/>
<circle cx="923.3" cy="861.3" r="3.3" fill="#0a8196" stroke="#fff" stroke-width="0.45"/>
<circle cx="927.7" cy="862.8" r="3.3" fill="#0a8196" stroke="#fff" stroke-width="0.45"/>
<circle cx="932.2" cy="861.3" r="3.3" fill="#0a8196" stroke="#fff" stroke-width="0.45"/>
<circle cx="926.3" cy="868.7" r="3.3" fill="#0a8196" stroke="#fff" stroke-width="0.45"/>
<circle cx="930.7" cy="868.7" r="3.3" fill="#0a8196" stroke="#fff" stroke-width="0.45"/>
<circle cx="933.6" cy="865.7" r="3.3" fill="#0a8196" stroke="#fff" stroke-width="0.45"/>
<circle cx="945.4" cy="865.7" r="3.3" fill="#0a8196" stroke="#fff" stroke-width="0.45"/>
<circle cx="946.8" cy="871.6" r="3.3" fill="#0a8196" stroke="#fff" stroke-width="0.45"/>
<circle cx="952.7" cy="865.7" r="3.3" fill="#0a8196" stroke="#fff" stroke-width="0.45"/>
<circle cx="957.1" cy="865.7" r="3.3" fill="#0a8196" stroke="#fff" stroke-width="0.45"/>
<circle cx="960.1" cy="862.8" r="3.3" fill="#0a8196" stroke="#fff" stroke-width="0.45"/>
<circle cx="964.5" cy="865.7" r="3.3" fill="#0a8196" stroke="#fff" stroke-width="0.45"/>
<circle cx="967.4" cy="868.7" r="3.3" fill="#0a8196" stroke="#fff" stroke-width="0.45"/>
<circle cx="936.6" cy="876" r="3.3" fill="#0a8196" stroke="#fff" stroke-width="0.45"/>
<circle cx="941" cy="877.5" r="3.3" fill="#0a8196" stroke="#fff" stroke-width="0.45"/>
<circle cx="965.9" cy="877.5" r="3.3" fill="#0a8196" stroke="#fff" stroke-width="0.45"/>
<circle cx="970.3" cy="876" r="3.3" fill="#0a8196" stroke="#fff" stroke-width="0.45"/>
<circle cx="993.1" cy="770" r="3.3" fill="#0a8196" stroke="#fff" stroke-width="0.45"/>
<circle cx="1006.3" cy="793" r="3.3" fill="#0a8196" stroke="#fff" stroke-width="0.45"/>
<circle cx="1007.8" cy="796" r="3.3" fill="#0a8196" stroke="#fff" stroke-width="0.45"/>
<circle cx="1025.4" cy="793" r="3.3" fill="#0a8196" stroke="#fff" stroke-width="0.45"/>
<circle cx="1020.3" cy="802.6" r="3.3" fill="#0a8196" stroke="#fff" stroke-width="0.45"/>
<circle cx="1018.1" cy="804.1" r="3.3" fill="#0a8196" stroke="#fff" stroke-width="0.45"/>
<circle cx="1012.9" cy="812.1" r="3.3" fill="#0a8196" stroke="#fff" stroke-width="0.45"/>
<circle cx="1016.6" cy="811.4" r="3.3" fill="#0a8196" stroke="#fff" stroke-width="0.45"/>
<circle cx="986.5" cy="822.4" r="3.3" fill="#0a8196" stroke="#fff" stroke-width="0.45"/>
<circle cx="989.4" cy="820.9" r="3.3" fill="#0a8196" stroke="#fff" stroke-width="0.45"/>
<circle cx="1001.9" cy="821.4" r="3.3" fill="#0a8196" stroke="#fff" stroke-width="0.45"/>
<circle cx="1012.9" cy="824.6" r="3.3" fill="#0a8196" stroke="#fff" stroke-width="0.45"/>
<circle cx="982.8" cy="833.4" r="3.3" fill="#0a8196" stroke="#fff" stroke-width="0.45"/>
<circle cx="998.2" cy="836.4" r="3.3" fill="#0a8196" stroke="#fff" stroke-width="0.45"/>
<circle cx="1003.4" cy="841.5" r="3.3" fill="#0a8196" stroke="#fff" stroke-width="0.45"/>
<circle cx="1026.9" cy="834.9" r="3.3" fill="#0a8196" stroke="#fff" stroke-width="0.45"/>
<circle cx="1027.6" cy="837.1" r="3.3" fill="#0a8196" stroke="#fff" stroke-width="0.45"/>
<circle cx="1015.1" cy="844.4" r="3.3" fill="#0a8196" stroke="#fff" stroke-width="0.45"/>
<circle cx="981.3" cy="848.1" r="3.3" fill="#0a8196" stroke="#fff" stroke-width="0.45"/>
<circle cx="983.5" cy="846.6" r="3.3" fill="#0a8196" stroke="#fff" stroke-width="0.45"/>
<circle cx="980.6" cy="854" r="3.3" fill="#0a8196" stroke="#fff" stroke-width="0.45"/>
<circle cx="985" cy="854" r="3.3" fill="#0a8196" stroke="#fff" stroke-width="0.45"/>
<circle cx="995.3" cy="849.6" r="3.3" fill="#0a8196" stroke="#fff" stroke-width="0.45"/>
<circle cx="998.2" cy="852.5" r="3.3" fill="#0a8196" stroke="#fff" stroke-width="0.45"/>
<circle cx="1001.2" cy="855.4" r="3.3" fill="#0a8196" stroke="#fff" stroke-width="0.45"/>
<circle cx="1007" cy="851" r="3.3" fill="#0a8196" stroke="#fff" stroke-width="0.45"/>
<circle cx="1011.4" cy="852.5" r="3.3" fill="#0a8196" stroke="#fff" stroke-width="0.45"/>
<circle cx="1018.8" cy="849.6" r="3.3" fill="#0a8196" stroke="#fff" stroke-width="0.45"/>
<circle cx="1023.2" cy="851" r="3.3" fill="#0a8196" stroke="#fff" stroke-width="0.45"/>
<circle cx="1026.1" cy="854" r="3.3" fill="#0a8196" stroke="#fff" stroke-width="0.45"/>
<circle cx="1029.1" cy="856.9" r="3.3" fill="#0a8196" stroke="#fff" stroke-width="0.45"/>
<circle cx="983.5" cy="859.9" r="3.3" fill="#0a8196" stroke="#fff" stroke-width="0.45"/>
<circle cx="986.5" cy="862.8" r="3.3" fill="#0a8196" stroke="#fff" stroke-width="0.45"/>
<circle cx="995.3" cy="859.9" r="3.3" fill="#0a8196" stroke="#fff" stroke-width="0.45"/>
<circle cx="998.2" cy="856.9" r="3.3" fill="#0a8196" stroke="#fff" stroke-width="0.45"/>
<circle cx="1004.1" cy="858.4" r="3.3" fill="#0a8196" stroke="#fff" stroke-width="0.45"/>
<circle cx="1007" cy="859.9" r="3.3" fill="#0a8196" stroke="#fff" stroke-width="0.45"/>
<circle cx="1011.4" cy="862.8" r="3.3" fill="#0a8196" stroke="#fff" stroke-width="0.45"/>
<circle cx="1015.9" cy="864.3" r="3.3" fill="#0a8196" stroke="#fff" stroke-width="0.45"/>
<circle cx="1018.8" cy="859.9" r="3.3" fill="#0a8196" stroke="#fff" stroke-width="0.45"/>
<circle cx="989.4" cy="868.7" r="3.3" fill="#0a8196" stroke="#fff" stroke-width="0.45"/>
<circle cx="993.8" cy="867.2" r="3.3" fill="#0a8196" stroke="#fff" stroke-width="0.45"/>
<circle cx="1004.1" cy="865.7" r="3.3" fill="#0a8196" stroke="#fff" stroke-width="0.45"/>
<circle cx="1010" cy="867.2" r="3.3" fill="#0a8196" stroke="#fff" stroke-width="0.45"/>
<circle cx="1014.4" cy="868.7" r="3.3" fill="#0a8196" stroke="#fff" stroke-width="0.45"/>
<circle cx="1020.3" cy="871.6" r="3.3" fill="#0a8196" stroke="#fff" stroke-width="0.45"/>
<circle cx="1027.6" cy="868.7" r="3.3" fill="#0a8196" stroke="#fff" stroke-width="0.45"/>
<circle cx="1029.1" cy="873.1" r="3.3" fill="#0a8196" stroke="#fff" stroke-width="0.45"/>
<circle cx="999.7" cy="876" r="3.3" fill="#0a8196" stroke="#fff" stroke-width="0.45"/>
<circle cx="1004.1" cy="874.5" r="3.3" fill="#0a8196" stroke="#fff" stroke-width="0.45"/>
<circle cx="1008.5" cy="876" r="3.3" fill="#0a8196" stroke="#fff" stroke-width="0.45"/>
<circle cx="1002.6" cy="878.9" r="3.3" fill="#0a8196" stroke="#fff" stroke-width="0.45"/>
<circle cx="1044" cy="812.6" r="3.3" fill="#0a8196" stroke="#fff" stroke-width="0.45"/>
<circle cx="1079.7" cy="813.2" r="3.3" fill="#0a8196" stroke="#fff" stroke-width="0.45"/>
<circle cx="1049.2" cy="819.9" r="3.3" fill="#0a8196" stroke="#fff" stroke-width="0.45"/>
<circle cx="1063.1" cy="818.7" r="3.3" fill="#0a8196" stroke="#fff" stroke-width="0.45"/>
<circle cx="1057.2" cy="823.9" r="3.3" fill="#0a8196" stroke="#fff" stroke-width="0.45"/>
<circle cx="1055" cy="828.3" r="3.3" fill="#0a8196" stroke="#fff" stroke-width="0.45"/>
<circle cx="1041.1" cy="834.2" r="3.3" fill="#0a8196" stroke="#fff" stroke-width="0.45"/>
<circle cx="1050.6" cy="832.7" r="3.3" fill="#0a8196" stroke="#fff" stroke-width="0.45"/>
<circle cx="1072.6" cy="833.4" r="3.3" fill="#0a8196" stroke="#fff" stroke-width="0.45"/>
<circle cx="1053.6" cy="837.1" r="3.3" fill="#0a8196" stroke="#fff" stroke-width="0.45"/>
<circle cx="1059.4" cy="837.8" r="3.3" fill="#0a8196" stroke="#fff" stroke-width="0.45"/>
<circle cx="1063.8" cy="837.1" r="3.3" fill="#0a8196" stroke="#fff" stroke-width="0.45"/>
<circle cx="1068.2" cy="840" r="3.3" fill="#0a8196" stroke="#fff" stroke-width="0.45"/>
<circle cx="1046.2" cy="843.7" r="3.3" fill="#0a8196" stroke="#fff" stroke-width="0.45"/>
<circle cx="1049.2" cy="846.6" r="3.3" fill="#0a8196" stroke="#fff" stroke-width="0.45"/>
<circle cx="1056.5" cy="842.2" r="3.3" fill="#0a8196" stroke="#fff" stroke-width="0.45"/>
<circle cx="1060.9" cy="844.4" r="3.3" fill="#0a8196" stroke="#fff" stroke-width="0.45"/>
<circle cx="1065.3" cy="843" r="3.3" fill="#0a8196" stroke="#fff" stroke-width="0.45"/>
<circle cx="1069.7" cy="845.2" r="3.3" fill="#0a8196" stroke="#fff" stroke-width="0.45"/>
<circle cx="1074.1" cy="845.9" r="3.3" fill="#0a8196" stroke="#fff" stroke-width="0.45"/>
<circle cx="1081.5" cy="839.3" r="3.3" fill="#0a8196" stroke="#fff" stroke-width="0.45"/>
<circle cx="1084.4" cy="843.7" r="3.3" fill="#0a8196" stroke="#fff" stroke-width="0.45"/>
<circle cx="1085.9" cy="848.1" r="3.3" fill="#0a8196" stroke="#fff" stroke-width="0.45"/>
<circle cx="1082.9" cy="851" r="3.3" fill="#0a8196" stroke="#fff" stroke-width="0.45"/>
<circle cx="1039.6" cy="852.5" r="3.3" fill="#0a8196" stroke="#fff" stroke-width="0.45"/>
<circle cx="1043.3" cy="855.4" r="3.3" fill="#0a8196" stroke="#fff" stroke-width="0.45"/>
<circle cx="1052.1" cy="849.6" r="3.3" fill="#0a8196" stroke="#fff" stroke-width="0.45"/>
<circle cx="1055" cy="852.5" r="3.3" fill="#0a8196" stroke="#fff" stroke-width="0.45"/>
<circle cx="1059.4" cy="851" r="3.3" fill="#0a8196" stroke="#fff" stroke-width="0.45"/>
<circle cx="1063.8" cy="848.1" r="3.3" fill="#0a8196" stroke="#fff" stroke-width="0.45"/>
<circle cx="1068.2" cy="851" r="3.3" fill="#0a8196" stroke="#fff" stroke-width="0.45"/>
<circle cx="1077.1" cy="854" r="3.3" fill="#0a8196" stroke="#fff" stroke-width="0.45"/>
<circle cx="1080" cy="856.9" r="3.3" fill="#0a8196" stroke="#fff" stroke-width="0.45"/>
<circle cx="1085.9" cy="854" r="3.3" fill="#0a8196" stroke="#fff" stroke-width="0.45"/>
<circle cx="1041.8" cy="861.3" r="3.3" fill="#0a8196" stroke="#fff" stroke-width="0.45"/>
<circle cx="1050.6" cy="861.3" r="3.3" fill="#0a8196" stroke="#fff" stroke-width="0.45"/>
<circle cx="1055" cy="859.9" r="3.3" fill="#0a8196" stroke="#fff" stroke-width="0.45"/>
<circle cx="1060.9" cy="858.4" r="3.3" fill="#0a8196" stroke="#fff" stroke-width="0.45"/>
<circle cx="1065.3" cy="861.3" r="3.3" fill="#0a8196" stroke="#fff" stroke-width="0.45"/>
<circle cx="1069.7" cy="862.8" r="3.3" fill="#0a8196" stroke="#fff" stroke-width="0.45"/>
<circle cx="1074.1" cy="859.9" r="3.3" fill="#0a8196" stroke="#fff" stroke-width="0.45"/>
<circle cx="1078.5" cy="862.8" r="3.3" fill="#0a8196" stroke="#fff" stroke-width="0.45"/>
<circle cx="1081.5" cy="864.3" r="3.3" fill="#0a8196" stroke="#fff" stroke-width="0.45"/>
<circle cx="1039.6" cy="870.1" r="3.3" fill="#0a8196" stroke="#fff" stroke-width="0.45"/>
<circle cx="1046.2" cy="870.1" r="3.3" fill="#0a8196" stroke="#fff" stroke-width="0.45"/>
<circle cx="1052.1" cy="867.2" r="3.3" fill="#0a8196" stroke="#fff" stroke-width="0.45"/>
<circle cx="1058" cy="868.7" r="3.3" fill="#0a8196" stroke="#fff" stroke-width="0.45"/>
<circle cx="1062.4" cy="865.7" r="3.3" fill="#0a8196" stroke="#fff" stroke-width="0.45"/>
<circle cx="1071.2" cy="865.7" r="3.3" fill="#0a8196" stroke="#fff" stroke-width="0.45"/>
<circle cx="1077.1" cy="871.6" r="3.3" fill="#0a8196" stroke="#fff" stroke-width="0.45"/>
<circle cx="1058" cy="871.6" r="3.3" fill="#0a8196" stroke="#fff" stroke-width="0.45"/>
<circle cx="1113.5" cy="800.4" r="3.3" fill="#0a8196" stroke="#fff" stroke-width="0.45"/>
<circle cx="1104.2" cy="808.8" r="3.3" fill="#0a8196" stroke="#fff" stroke-width="0.45"/>
<circle cx="1130.7" cy="818" r="3.3" fill="#0a8196" stroke="#fff" stroke-width="0.45"/>
<circle cx="1129.9" cy="821.7" r="3.3" fill="#0a8196" stroke="#fff" stroke-width="0.45"/>
<circle cx="1116.4" cy="822" r="3.3" fill="#0a8196" stroke="#fff" stroke-width="0.45"/>
<circle cx="1138.7" cy="828.3" r="3.3" fill="#0a8196" stroke="#fff" stroke-width="0.45"/>
<circle cx="1141.7" cy="832" r="3.3" fill="#0a8196" stroke="#fff" stroke-width="0.45"/>
<circle cx="1103.5" cy="834.2" r="3.3" fill="#0a8196" stroke="#fff" stroke-width="0.45"/>
<circle cx="1106.4" cy="832.7" r="3.3" fill="#0a8196" stroke="#fff" stroke-width="0.45"/>
<circle cx="1115.2" cy="832.7" r="3.3" fill="#0a8196" stroke="#fff" stroke-width="0.45"/>
<circle cx="1121.1" cy="831.2" r="3.3" fill="#0a8196" stroke="#fff" stroke-width="0.45"/>
<circle cx="1124" cy="832" r="3.3" fill="#0a8196" stroke="#fff" stroke-width="0.45"/>
<circle cx="1132.9" cy="833.4" r="3.3" fill="#0a8196" stroke="#fff" stroke-width="0.45"/>
<circle cx="1135.8" cy="836.4" r="3.3" fill="#0a8196" stroke="#fff" stroke-width="0.45"/>
<circle cx="1109.4" cy="839.3" r="3.3" fill="#0a8196" stroke="#fff" stroke-width="0.45"/>
<circle cx="1113.8" cy="837.8" r="3.3" fill="#0a8196" stroke="#fff" stroke-width="0.45"/>
<circle cx="1118.2" cy="840" r="3.3" fill="#0a8196" stroke="#fff" stroke-width="0.45"/>
<circle cx="1127" cy="837.8" r="3.3" fill="#0a8196" stroke="#fff" stroke-width="0.45"/>
<circle cx="1129.9" cy="840.8" r="3.3" fill="#0a8196" stroke="#fff" stroke-width="0.45"/>
<circle cx="1137.3" cy="840.8" r="3.3" fill="#0a8196" stroke="#fff" stroke-width="0.45"/>
<circle cx="1141.7" cy="845.2" r="3.3" fill="#0a8196" stroke="#fff" stroke-width="0.45"/>
<circle cx="1146.1" cy="844.4" r="3.3" fill="#0a8196" stroke="#fff" stroke-width="0.45"/>
<circle cx="1097.6" cy="848.1" r="3.3" fill="#0a8196" stroke="#fff" stroke-width="0.45"/>
<circle cx="1102" cy="846.6" r="3.3" fill="#0a8196" stroke="#fff" stroke-width="0.45"/>
<circle cx="1106.4" cy="849.6" r="3.3" fill="#0a8196" stroke="#fff" stroke-width="0.45"/>
<circle cx="1110.8" cy="848.1" r="3.3" fill="#0a8196" stroke="#fff" stroke-width="0.45"/>
<circle cx="1115.2" cy="845.2" r="3.3" fill="#0a8196" stroke="#fff" stroke-width="0.45"/>
<circle cx="1121.1" cy="845.2" r="3.3" fill="#0a8196" stroke="#fff" stroke-width="0.45"/>
<circle cx="1125.5" cy="848.1" r="3.3" fill="#0a8196" stroke="#fff" stroke-width="0.45"/>
<circle cx="1134.3" cy="846.6" r="3.3" fill="#0a8196" stroke="#fff" stroke-width="0.45"/>
<circle cx="1138.7" cy="851" r="3.3" fill="#0a8196" stroke="#fff" stroke-width="0.45"/>
<circle cx="1099.1" cy="854" r="3.3" fill="#0a8196" stroke="#fff" stroke-width="0.45"/>
<circle cx="1102" cy="856.9" r="3.3" fill="#0a8196" stroke="#fff" stroke-width="0.45"/>
<circle cx="1107.9" cy="854" r="3.3" fill="#0a8196" stroke="#fff" stroke-width="0.45"/>
<circle cx="1122.6" cy="854" r="3.3" fill="#0a8196" stroke="#fff" stroke-width="0.45"/>
<circle cx="1127" cy="851" r="3.3" fill="#0a8196" stroke="#fff" stroke-width="0.45"/>
<circle cx="1132.9" cy="854" r="3.3" fill="#0a8196" stroke="#fff" stroke-width="0.45"/>
<circle cx="1135.8" cy="856.9" r="3.3" fill="#0a8196" stroke="#fff" stroke-width="0.45"/>
<circle cx="1141.7" cy="855.4" r="3.3" fill="#0a8196" stroke="#fff" stroke-width="0.45"/>
<circle cx="1144.6" cy="861.3" r="3.3" fill="#0a8196" stroke="#fff" stroke-width="0.45"/>
<circle cx="1099.1" cy="861.3" r="3.3" fill="#0a8196" stroke="#fff" stroke-width="0.45"/>
<circle cx="1102" cy="864.3" r="3.3" fill="#0a8196" stroke="#fff" stroke-width="0.45"/>
<circle cx="1109.4" cy="862.1" r="3.3" fill="#0a8196" stroke="#fff" stroke-width="0.45"/>
<circle cx="1118.2" cy="861.3" r="3.3" fill="#0a8196" stroke="#fff" stroke-width="0.45"/>
<circle cx="1121.1" cy="864.3" r="3.3" fill="#0a8196" stroke="#fff" stroke-width="0.45"/>
<circle cx="1127" cy="862.8" r="3.3" fill="#0a8196" stroke="#fff" stroke-width="0.45"/>
<circle cx="1134.3" cy="861.3" r="3.3" fill="#0a8196" stroke="#fff" stroke-width="0.45"/>
<circle cx="1138.7" cy="862.8" r="3.3" fill="#0a8196" stroke="#fff" stroke-width="0.45"/>
<circle cx="1119.6" cy="867.2" r="3.3" fill="#0a8196" stroke="#fff" stroke-width="0.45"/>
<circle cx="1128.4" cy="867.2" r="3.3" fill="#0a8196" stroke="#fff" stroke-width="0.45"/>
<circle cx="1135.8" cy="867.2" r="3.3" fill="#0a8196" stroke="#fff" stroke-width="0.45"/>
<circle cx="1140.2" cy="865.7" r="3.3" fill="#0a8196" stroke="#fff" stroke-width="0.45"/>
<circle cx="1144.6" cy="870.1" r="3.3" fill="#0a8196" stroke="#fff" stroke-width="0.45"/>
<circle cx="1112.3" cy="874.5" r="3.3" fill="#0a8196" stroke="#fff" stroke-width="0.45"/>
<circle cx="1113.8" cy="872.3" r="3.3" fill="#0a8196" stroke="#fff" stroke-width="0.45"/>
<circle cx="1146.1" cy="873.1" r="3.3" fill="#0a8196" stroke="#fff" stroke-width="0.45"/>
<circle cx="1184.9" cy="782" r="3.3" fill="#0a8196" stroke="#fff" stroke-width="0.45"/>
<circle cx="1182.6" cy="803.8" r="3.3" fill="#0a8196" stroke="#fff" stroke-width="0.45"/>
<circle cx="1173.5" cy="815.1" r="3.3" fill="#0a8196" stroke="#fff" stroke-width="0.45"/>
<circle cx="1175.7" cy="817.3" r="3.3" fill="#0a8196" stroke="#fff" stroke-width="0.45"/>
<circle cx="1177.2" cy="822.4" r="3.3" fill="#0a8196" stroke="#fff" stroke-width="0.45"/>
<circle cx="1180.8" cy="825.3" r="3.3" fill="#0a8196" stroke="#fff" stroke-width="0.45"/>
<circle cx="1166.9" cy="827.5" r="3.3" fill="#0a8196" stroke="#fff" stroke-width="0.45"/>
<circle cx="1169.1" cy="830.5" r="3.3" fill="#0a8196" stroke="#fff" stroke-width="0.45"/>
<circle cx="1176.4" cy="829" r="3.3" fill="#0a8196" stroke="#fff" stroke-width="0.45"/>
<circle cx="1179.4" cy="832" r="3.3" fill="#0a8196" stroke="#fff" stroke-width="0.45"/>
<circle cx="1202.9" cy="829" r="3.3" fill="#0a8196" stroke="#fff" stroke-width="0.45"/>
<circle cx="1197" cy="833.4" r="3.3" fill="#0a8196" stroke="#fff" stroke-width="0.45"/>
<circle cx="1199.9" cy="836.4" r="3.3" fill="#0a8196" stroke="#fff" stroke-width="0.45"/>
<circle cx="1164.7" cy="836.4" r="3.3" fill="#0a8196" stroke="#fff" stroke-width="0.45"/>
<circle cx="1172" cy="839.3" r="3.3" fill="#0a8196" stroke="#fff" stroke-width="0.45"/>
<circle cx="1161.7" cy="840" r="3.3" fill="#0a8196" stroke="#fff" stroke-width="0.45"/>
<circle cx="1156.6" cy="844.4" r="3.3" fill="#0a8196" stroke="#fff" stroke-width="0.45"/>
<circle cx="1167.6" cy="845.2" r="3.3" fill="#0a8196" stroke="#fff" stroke-width="0.45"/>
<circle cx="1158.8" cy="849.6" r="3.3" fill="#0a8196" stroke="#fff" stroke-width="0.45"/>
<circle cx="1164.7" cy="851" r="3.3" fill="#0a8196" stroke="#fff" stroke-width="0.45"/>
<circle cx="1170.6" cy="849.6" r="3.3" fill="#0a8196" stroke="#fff" stroke-width="0.45"/>
<circle cx="1155.9" cy="854" r="3.3" fill="#0a8196" stroke="#fff" stroke-width="0.45"/>
<circle cx="1160.3" cy="855.4" r="3.3" fill="#0a8196" stroke="#fff" stroke-width="0.45"/>
<circle cx="1166.2" cy="856.9" r="3.3" fill="#0a8196" stroke="#fff" stroke-width="0.45"/>
<circle cx="1172" cy="856.9" r="3.3" fill="#0a8196" stroke="#fff" stroke-width="0.45"/>
<circle cx="1179.4" cy="843.7" r="3.3" fill="#0a8196" stroke="#fff" stroke-width="0.45"/>
<circle cx="1183.8" cy="846.6" r="3.3" fill="#0a8196" stroke="#fff" stroke-width="0.45"/>
<circle cx="1186.7" cy="842.2" r="3.3" fill="#0a8196" stroke="#fff" stroke-width="0.45"/>
<circle cx="1189.6" cy="839.3" r="3.3" fill="#0a8196" stroke="#fff" stroke-width="0.45"/>
<circle cx="1194.1" cy="842.2" r="3.3" fill="#0a8196" stroke="#fff" stroke-width="0.45"/>
<circle cx="1201.4" cy="848.1" r="3.3" fill="#0a8196" stroke="#fff" stroke-width="0.45"/>
<circle cx="1185.2" cy="851" r="3.3" fill="#0a8196" stroke="#fff" stroke-width="0.45"/>
<circle cx="1188.2" cy="854" r="3.3" fill="#0a8196" stroke="#fff" stroke-width="0.45"/>
<circle cx="1192.6" cy="852.5" r="3.3" fill="#0a8196" stroke="#fff" stroke-width="0.45"/>
<circle cx="1197" cy="855.4" r="3.3" fill="#0a8196" stroke="#fff" stroke-width="0.45"/>
<circle cx="1202.9" cy="856.9" r="3.3" fill="#0a8196" stroke="#fff" stroke-width="0.45"/>
<circle cx="1205.8" cy="861.3" r="3.3" fill="#0a8196" stroke="#fff" stroke-width="0.45"/>
<circle cx="1186.7" cy="859.9" r="3.3" fill="#0a8196" stroke="#fff" stroke-width="0.45"/>
<circle cx="1191.1" cy="861.3" r="3.3" fill="#0a8196" stroke="#fff" stroke-width="0.45"/>
<circle cx="1195.5" cy="862.8" r="3.3" fill="#0a8196" stroke="#fff" stroke-width="0.45"/>
<circle cx="1199.9" cy="862.8" r="3.3" fill="#0a8196" stroke="#fff" stroke-width="0.45"/>
<circle cx="1204.3" cy="865.7" r="3.3" fill="#0a8196" stroke="#fff" stroke-width="0.45"/>
<circle cx="1185.2" cy="868.7" r="3.3" fill="#0a8196" stroke="#fff" stroke-width="0.45"/>
<circle cx="1189.6" cy="865.7" r="3.3" fill="#0a8196" stroke="#fff" stroke-width="0.45"/>
<circle cx="1197" cy="871.6" r="3.3" fill="#0a8196" stroke="#fff" stroke-width="0.45"/>
<circle cx="1189.6" cy="876" r="3.3" fill="#0a8196" stroke="#fff" stroke-width="0.45"/>
<circle cx="1158.1" cy="864.3" r="3.3" fill="#0a8196" stroke="#fff" stroke-width="0.45"/>
<circle cx="1169.1" cy="861.3" r="3.3" fill="#0a8196" stroke="#fff" stroke-width="0.45"/>
<circle cx="376.2" cy="778.4" r="3.3" fill="#0a8196" stroke="#fff" stroke-width="0.45"/>
<circle cx="339.5" cy="812.6" r="3.3" fill="#0a8196" stroke="#fff" stroke-width="0.45"/>
<circle cx="351.6" cy="811.4" r="3.3" fill="#0a8196" stroke="#fff" stroke-width="0.45"/>
<circle cx="344.2" cy="824.6" r="3.3" fill="#0a8196" stroke="#fff" stroke-width="0.45"/>
<circle cx="350.1" cy="828.3" r="3.3" fill="#0a8196" stroke="#fff" stroke-width="0.45"/>
<circle cx="340.5" cy="833.4" r="3.3" fill="#0a8196" stroke="#fff" stroke-width="0.45"/>
<circle cx="341.3" cy="838.6" r="3.3" fill="#0a8196" stroke="#fff" stroke-width="0.45"/>
<circle cx="355.2" cy="834.2" r="3.3" fill="#0a8196" stroke="#fff" stroke-width="0.45"/>
<circle cx="361.8" cy="829" r="3.3" fill="#0a8196" stroke="#fff" stroke-width="0.45"/>
<circle cx="370.6" cy="828.7" r="3.3" fill="#0a8196" stroke="#fff" stroke-width="0.45"/>
<circle cx="378" cy="832" r="3.3" fill="#0a8196" stroke="#fff" stroke-width="0.45"/>
<circle cx="383.9" cy="837.1" r="3.3" fill="#0a8196" stroke="#fff" stroke-width="0.45"/>
<circle cx="381.7" cy="840" r="3.3" fill="#0a8196" stroke="#fff" stroke-width="0.45"/>
<circle cx="369.2" cy="839.3" r="3.3" fill="#0a8196" stroke="#fff" stroke-width="0.45"/>
<circle cx="372.9" cy="840" r="3.3" fill="#0a8196" stroke="#fff" stroke-width="0.45"/>
<circle cx="336.9" cy="848.1" r="3.3" fill="#0a8196" stroke="#fff" stroke-width="0.45"/>
<circle cx="343.5" cy="845.2" r="3.3" fill="#0a8196" stroke="#fff" stroke-width="0.45"/>
<circle cx="345" cy="847.4" r="3.3" fill="#0a8196" stroke="#fff" stroke-width="0.45"/>
<circle cx="361.1" cy="845.2" r="3.3" fill="#0a8196" stroke="#fff" stroke-width="0.45"/>
<circle cx="366.2" cy="846.6" r="3.3" fill="#0a8196" stroke="#fff" stroke-width="0.45"/>
<circle cx="370.6" cy="844.4" r="3.3" fill="#0a8196" stroke="#fff" stroke-width="0.45"/>
<circle cx="379.5" cy="845.2" r="3.3" fill="#0a8196" stroke="#fff" stroke-width="0.45"/>
<circle cx="380.9" cy="848.1" r="3.3" fill="#0a8196" stroke="#fff" stroke-width="0.45"/>
<circle cx="346.4" cy="854" r="3.3" fill="#0a8196" stroke="#fff" stroke-width="0.45"/>
<circle cx="348.6" cy="856.9" r="3.3" fill="#0a8196" stroke="#fff" stroke-width="0.45"/>
<circle cx="356" cy="852.5" r="3.3" fill="#0a8196" stroke="#fff" stroke-width="0.45"/>
<circle cx="360.4" cy="855.4" r="3.3" fill="#0a8196" stroke="#fff" stroke-width="0.45"/>
<circle cx="365.5" cy="854" r="3.3" fill="#0a8196" stroke="#fff" stroke-width="0.45"/>
<circle cx="373.6" cy="852.5" r="3.3" fill="#0a8196" stroke="#fff" stroke-width="0.45"/>
<circle cx="379.5" cy="856.9" r="3.3" fill="#0a8196" stroke="#fff" stroke-width="0.45"/>
<circle cx="376.5" cy="861.3" r="3.3" fill="#0a8196" stroke="#fff" stroke-width="0.45"/>
<circle cx="370.6" cy="861.3" r="3.3" fill="#0a8196" stroke="#fff" stroke-width="0.45"/>
<circle cx="366.2" cy="859.9" r="3.3" fill="#0a8196" stroke="#fff" stroke-width="0.45"/>
<circle cx="345.7" cy="861.3" r="3.3" fill="#0a8196" stroke="#fff" stroke-width="0.45"/>
<circle cx="347.2" cy="865.7" r="3.3" fill="#0a8196" stroke="#fff" stroke-width="0.45"/>
<circle cx="353" cy="865.7" r="3.3" fill="#0a8196" stroke="#fff" stroke-width="0.45"/>
<circle cx="358.9" cy="862.8" r="3.3" fill="#0a8196" stroke="#fff" stroke-width="0.45"/>
<circle cx="364.8" cy="865.7" r="3.3" fill="#0a8196" stroke="#fff" stroke-width="0.45"/>
<circle cx="356" cy="871.6" r="3.3" fill="#0a8196" stroke="#fff" stroke-width="0.45"/>
<circle cx="383.1" cy="868.7" r="3.3" fill="#0a8196" stroke="#fff" stroke-width="0.45"/>
<circle cx="385.3" cy="875.3" r="3.3" fill="#0a8196" stroke="#fff" stroke-width="0.45"/>
<circle cx="342.7" cy="877.5" r="3.3" fill="#0a8196" stroke="#fff" stroke-width="0.45"/>
<circle cx="349.4" cy="876.7" r="3.3" fill="#0a8196" stroke="#fff" stroke-width="0.45"/>
<circle cx="358.9" cy="878.2" r="3.3" fill="#0a8196" stroke="#fff" stroke-width="0.45"/>
<circle cx="367.7" cy="876.7" r="3.3" fill="#0a8196" stroke="#fff" stroke-width="0.45"/>
<circle cx="373.6" cy="878.6" r="3.3" fill="#0a8196" stroke="#fff" stroke-width="0.45"/>
<circle cx="378" cy="878.6" r="3.3" fill="#0a8196" stroke="#fff" stroke-width="0.45"/>
<circle cx="336.9" cy="871.6" r="3.3" fill="#0a8196" stroke="#fff" stroke-width="0.45"/>
<circle cx="342" cy="874.5" r="3.3" fill="#0a8196" stroke="#fff" stroke-width="0.45"/>
<circle cx="411" cy="761.5" r="3.3" fill="#0a8196" stroke="#fff" stroke-width="0.45"/>
<circle cx="433.1" cy="761.2" r="3.3" fill="#0a8196" stroke="#fff" stroke-width="0.45"/>
<circle cx="408.8" cy="770.3" r="3.3" fill="#0a8196" stroke="#fff" stroke-width="0.45"/>
<circle cx="414.7" cy="771" r="3.3" fill="#0a8196" stroke="#fff" stroke-width="0.45"/>
<circle cx="407.4" cy="787.9" r="3.3" fill="#0a8196" stroke="#fff" stroke-width="0.45"/>
<circle cx="440.4" cy="786.4" r="3.3" fill="#0a8196" stroke="#fff" stroke-width="0.45"/>
<circle cx="421.3" cy="802.3" r="3.3" fill="#0a8196" stroke="#fff" stroke-width="0.45"/>
<circle cx="435.3" cy="811.7" r="3.3" fill="#0a8196" stroke="#fff" stroke-width="0.45"/>
<circle cx="395.6" cy="816.1" r="3.3" fill="#0a8196" stroke="#fff" stroke-width="0.45"/>
<circle cx="412.9" cy="819.5" r="3.3" fill="#0a8196" stroke="#fff" stroke-width="0.45"/>
<circle cx="426.4" cy="820.2" r="3.3" fill="#0a8196" stroke="#fff" stroke-width="0.45"/>
<circle cx="430.1" cy="825.3" r="3.3" fill="#0a8196" stroke="#fff" stroke-width="0.45"/>
<circle cx="416.9" cy="828.3" r="3.3" fill="#0a8196" stroke="#fff" stroke-width="0.45"/>
<circle cx="419.1" cy="830.5" r="3.3" fill="#0a8196" stroke="#fff" stroke-width="0.45"/>
<circle cx="436.7" cy="832" r="3.3" fill="#0a8196" stroke="#fff" stroke-width="0.45"/>
<circle cx="441.1" cy="836.4" r="3.3" fill="#0a8196" stroke="#fff" stroke-width="0.45"/>
<circle cx="433.8" cy="836.4" r="3.3" fill="#0a8196" stroke="#fff" stroke-width="0.45"/>
<circle cx="427.9" cy="834.9" r="3.3" fill="#0a8196" stroke="#fff" stroke-width="0.45"/>
<circle cx="423.5" cy="836.4" r="3.3" fill="#0a8196" stroke="#fff" stroke-width="0.45"/>
<circle cx="419.1" cy="839.3" r="3.3" fill="#0a8196" stroke="#fff" stroke-width="0.45"/>
<circle cx="421.3" cy="841.5" r="3.3" fill="#0a8196" stroke="#fff" stroke-width="0.45"/>
<circle cx="438.2" cy="842.2" r="3.3" fill="#0a8196" stroke="#fff" stroke-width="0.45"/>
<circle cx="419.8" cy="846.6" r="3.3" fill="#0a8196" stroke="#fff" stroke-width="0.45"/>
<circle cx="430.9" cy="846.6" r="3.3" fill="#0a8196" stroke="#fff" stroke-width="0.45"/>
<circle cx="427.9" cy="851" r="3.3" fill="#0a8196" stroke="#fff" stroke-width="0.45"/>
<circle cx="438.9" cy="848.8" r="3.3" fill="#0a8196" stroke="#fff" stroke-width="0.45"/>
<circle cx="401.5" cy="849.6" r="3.3" fill="#0a8196" stroke="#fff" stroke-width="0.45"/>
<circle cx="400" cy="854" r="3.3" fill="#0a8196" stroke="#fff" stroke-width="0.45"/>
<circle cx="407.4" cy="852.5" r="3.3" fill="#0a8196" stroke="#fff" stroke-width="0.45"/>
<circle cx="422.8" cy="854.7" r="3.3" fill="#0a8196" stroke="#fff" stroke-width="0.45"/>
<circle cx="442.6" cy="856.2" r="3.3" fill="#0a8196" stroke="#fff" stroke-width="0.45"/>
<circle cx="433.8" cy="861.3" r="3.3" fill="#0a8196" stroke="#fff" stroke-width="0.45"/>
<circle cx="436.7" cy="858.4" r="3.3" fill="#0a8196" stroke="#fff" stroke-width="0.45"/>
<circle cx="413.2" cy="861.3" r="3.3" fill="#0a8196" stroke="#fff" stroke-width="0.45"/>
<circle cx="417.6" cy="862.8" r="3.3" fill="#0a8196" stroke="#fff" stroke-width="0.45"/>
<circle cx="427.2" cy="866" r="3.3" fill="#0a8196" stroke="#fff" stroke-width="0.45"/>
<circle cx="411.8" cy="867.2" r="3.3" fill="#0a8196" stroke="#fff" stroke-width="0.45"/>
<circle cx="413.2" cy="871.6" r="3.3" fill="#0a8196" stroke="#fff" stroke-width="0.45"/>
<circle cx="417.6" cy="868.7" r="3.3" fill="#0a8196" stroke="#fff" stroke-width="0.45"/>
<circle cx="398.5" cy="865.7" r="3.3" fill="#0a8196" stroke="#fff" stroke-width="0.45"/>
<circle cx="398.5" cy="870.1" r="3.3" fill="#0a8196" stroke="#fff" stroke-width="0.45"/>
<circle cx="436" cy="871.6" r="3.3" fill="#0a8196" stroke="#fff" stroke-width="0.45"/>
<circle cx="443.3" cy="868.7" r="3.3" fill="#0a8196" stroke="#fff" stroke-width="0.45"/>
<circle cx="444.1" cy="873.1" r="3.3" fill="#0a8196" stroke="#fff" stroke-width="0.45"/>
<circle cx="496.5" cy="782.3" r="3.3" fill="#0a8196" stroke="#fff" stroke-width="0.45"/>
<circle cx="502.3" cy="782.3" r="3.3" fill="#0a8196" stroke="#fff" stroke-width="0.45"/>
<circle cx="466.4" cy="798.5" r="3.3" fill="#0a8196" stroke="#fff" stroke-width="0.45"/>
<circle cx="474.1" cy="795.5" r="3.3" fill="#0a8196" stroke="#fff" stroke-width="0.45"/>
<circle cx="498.7" cy="806.3" r="3.3" fill="#0a8196" stroke="#fff" stroke-width="0.45"/>
<circle cx="455.3" cy="811.7" r="3.3" fill="#0a8196" stroke="#fff" stroke-width="0.45"/>
<circle cx="490.6" cy="812.9" r="3.3" fill="#0a8196" stroke="#fff" stroke-width="0.45"/>
<circle cx="495" cy="812.1" r="3.3" fill="#0a8196" stroke="#fff" stroke-width="0.45"/>
<circle cx="478.8" cy="819.5" r="3.3" fill="#0a8196" stroke="#fff" stroke-width="0.45"/>
<circle cx="482.5" cy="818" r="3.3" fill="#0a8196" stroke="#fff" stroke-width="0.45"/>
<circle cx="487.6" cy="825.3" r="3.3" fill="#0a8196" stroke="#fff" stroke-width="0.45"/>
<circle cx="488.4" cy="826.8" r="3.3" fill="#0a8196" stroke="#fff" stroke-width="0.45"/>
<circle cx="457.5" cy="824.6" r="3.3" fill="#0a8196" stroke="#fff" stroke-width="0.45"/>
<circle cx="456.1" cy="834.2" r="3.3" fill="#0a8196" stroke="#fff" stroke-width="0.45"/>
<circle cx="464.2" cy="832" r="3.3" fill="#0a8196" stroke="#fff" stroke-width="0.45"/>
<circle cx="471.5" cy="836.4" r="3.3" fill="#0a8196" stroke="#fff" stroke-width="0.45"/>
<circle cx="475.9" cy="837.8" r="3.3" fill="#0a8196" stroke="#fff" stroke-width="0.45"/>
<circle cx="484.7" cy="835.6" r="3.3" fill="#0a8196" stroke="#fff" stroke-width="0.45"/>
<circle cx="484.7" cy="839.3" r="3.3" fill="#0a8196" stroke="#fff" stroke-width="0.45"/>
<circle cx="453.9" cy="842.2" r="3.3" fill="#0a8196" stroke="#fff" stroke-width="0.45"/>
<circle cx="461.2" cy="844.4" r="3.3" fill="#0a8196" stroke="#fff" stroke-width="0.45"/>
<circle cx="467.1" cy="847.4" r="3.3" fill="#0a8196" stroke="#fff" stroke-width="0.45"/>
<circle cx="478.8" cy="843.7" r="3.3" fill="#0a8196" stroke="#fff" stroke-width="0.45"/>
<circle cx="483.2" cy="845.9" r="3.3" fill="#0a8196" stroke="#fff" stroke-width="0.45"/>
<circle cx="487.6" cy="846.6" r="3.3" fill="#0a8196" stroke="#fff" stroke-width="0.45"/>
<circle cx="493.5" cy="845.2" r="3.3" fill="#0a8196" stroke="#fff" stroke-width="0.45"/>
<circle cx="499.4" cy="849.6" r="3.3" fill="#0a8196" stroke="#fff" stroke-width="0.45"/>
<circle cx="500.9" cy="851.8" r="3.3" fill="#0a8196" stroke="#fff" stroke-width="0.45"/>
<circle cx="457.5" cy="851.8" r="3.3" fill="#0a8196" stroke="#fff" stroke-width="0.45"/>
<circle cx="459" cy="855.4" r="3.3" fill="#0a8196" stroke="#fff" stroke-width="0.45"/>
<circle cx="462.7" cy="854" r="3.3" fill="#0a8196" stroke="#fff" stroke-width="0.45"/>
<circle cx="465.6" cy="849.6" r="3.3" fill="#0a8196" stroke="#fff" stroke-width="0.45"/>
<circle cx="471.5" cy="854" r="3.3" fill="#0a8196" stroke="#fff" stroke-width="0.45"/>
<circle cx="475.2" cy="851.8" r="3.3" fill="#0a8196" stroke="#fff" stroke-width="0.45"/>
<circle cx="477.4" cy="856.2" r="3.3" fill="#0a8196" stroke="#fff" stroke-width="0.45"/>
<circle cx="483.2" cy="849.6" r="3.3" fill="#0a8196" stroke="#fff" stroke-width="0.45"/>
<circle cx="489.1" cy="852.5" r="3.3" fill="#0a8196" stroke="#fff" stroke-width="0.45"/>
<circle cx="492.1" cy="855.4" r="3.3" fill="#0a8196" stroke="#fff" stroke-width="0.45"/>
<circle cx="497.9" cy="854" r="3.3" fill="#0a8196" stroke="#fff" stroke-width="0.45"/>
<circle cx="458.3" cy="859.9" r="3.3" fill="#0a8196" stroke="#fff" stroke-width="0.45"/>
<circle cx="462.7" cy="861.3" r="3.3" fill="#0a8196" stroke="#fff" stroke-width="0.45"/>
<circle cx="467.1" cy="862.8" r="3.3" fill="#0a8196" stroke="#fff" stroke-width="0.45"/>
<circle cx="472.2" cy="861.3" r="3.3" fill="#0a8196" stroke="#fff" stroke-width="0.45"/>
<circle cx="475.9" cy="858.4" r="3.3" fill="#0a8196" stroke="#fff" stroke-width="0.45"/>
<circle cx="459.7" cy="867.2" r="3.3" fill="#0a8196" stroke="#fff" stroke-width="0.45"/>
<circle cx="464.2" cy="865.7" r="3.3" fill="#0a8196" stroke="#fff" stroke-width="0.45"/>
<circle cx="468.6" cy="868.7" r="3.3" fill="#0a8196" stroke="#fff" stroke-width="0.45"/>
<circle cx="484.7" cy="868.7" r="3.3" fill="#0a8196" stroke="#fff" stroke-width="0.45"/>
<circle cx="489.1" cy="869.4" r="3.3" fill="#0a8196" stroke="#fff" stroke-width="0.45"/>
<circle cx="499.4" cy="865.7" r="3.3" fill="#0a8196" stroke="#fff" stroke-width="0.45"/>
<circle cx="500.1" cy="870.1" r="3.3" fill="#0a8196" stroke="#fff" stroke-width="0.45"/>
<circle cx="453.9" cy="873.1" r="3.3" fill="#0a8196" stroke="#fff" stroke-width="0.45"/>
<circle cx="454.6" cy="876" r="3.3" fill="#0a8196" stroke="#fff" stroke-width="0.45"/>
<circle cx="474.4" cy="876" r="3.3" fill="#0a8196" stroke="#fff" stroke-width="0.45"/>
<circle cx="470" cy="877.5" r="3.3" fill="#0a8196" stroke="#fff" stroke-width="0.45"/>
<circle cx="526.6" cy="775.4" r="3.3" fill="#0a8196" stroke="#fff" stroke-width="0.45"/>
<circle cx="544.9" cy="786.4" r="3.3" fill="#0a8196" stroke="#fff" stroke-width="0.45"/>
<circle cx="528.8" cy="789.1" r="3.3" fill="#0a8196" stroke="#fff" stroke-width="0.45"/>
<circle cx="521.4" cy="796" r="3.3" fill="#0a8196" stroke="#fff" stroke-width="0.45"/>
<circle cx="541.2" cy="792.6" r="3.3" fill="#0a8196" stroke="#fff" stroke-width="0.45"/>
<circle cx="553.7" cy="792.3" r="3.3" fill="#0a8196" stroke="#fff" stroke-width="0.45"/>
<circle cx="534.6" cy="801.9" r="3.3" fill="#0a8196" stroke="#fff" stroke-width="0.45"/>
<circle cx="536.1" cy="812.6" r="3.3" fill="#0a8196" stroke="#fff" stroke-width="0.45"/>
<circle cx="553.7" cy="815.1" r="3.3" fill="#0a8196" stroke="#fff" stroke-width="0.45"/>
<circle cx="555.9" cy="812.9" r="3.3" fill="#0a8196" stroke="#fff" stroke-width="0.45"/>
<circle cx="531" cy="820.9" r="3.3" fill="#0a8196" stroke="#fff" stroke-width="0.45"/>
<circle cx="518.5" cy="825.3" r="3.3" fill="#0a8196" stroke="#fff" stroke-width="0.45"/>
<circle cx="542.7" cy="823.9" r="3.3" fill="#0a8196" stroke="#fff" stroke-width="0.45"/>
<circle cx="559.6" cy="829.3" r="3.3" fill="#0a8196" stroke="#fff" stroke-width="0.45"/>
<circle cx="549.3" cy="831.2" r="3.3" fill="#0a8196" stroke="#fff" stroke-width="0.45"/>
<circle cx="528" cy="832.7" r="3.3" fill="#0a8196" stroke="#fff" stroke-width="0.45"/>
<circle cx="524.4" cy="837.8" r="3.3" fill="#0a8196" stroke="#fff" stroke-width="0.45"/>
<circle cx="514.1" cy="837.1" r="3.3" fill="#0a8196" stroke="#fff" stroke-width="0.45"/>
<circle cx="539" cy="833.4" r="3.3" fill="#0a8196" stroke="#fff" stroke-width="0.45"/>
<circle cx="537.6" cy="839.3" r="3.3" fill="#0a8196" stroke="#fff" stroke-width="0.45"/>
<circle cx="539" cy="843.7" r="3.3" fill="#0a8196" stroke="#fff" stroke-width="0.45"/>
<circle cx="556.7" cy="842.2" r="3.3" fill="#0a8196" stroke="#fff" stroke-width="0.45"/>
<circle cx="561.1" cy="840.5" r="3.3" fill="#0a8196" stroke="#fff" stroke-width="0.45"/>
<circle cx="516.3" cy="846.6" r="3.3" fill="#0a8196" stroke="#fff" stroke-width="0.45"/>
<circle cx="520" cy="849.6" r="3.3" fill="#0a8196" stroke="#fff" stroke-width="0.45"/>
<circle cx="533.2" cy="851" r="3.3" fill="#0a8196" stroke="#fff" stroke-width="0.45"/>
<circle cx="542" cy="848.1" r="3.3" fill="#0a8196" stroke="#fff" stroke-width="0.45"/>
<circle cx="550.8" cy="849.6" r="3.3" fill="#0a8196" stroke="#fff" stroke-width="0.45"/>
<circle cx="559.6" cy="849.6" r="3.3" fill="#0a8196" stroke="#fff" stroke-width="0.45"/>
<circle cx="559.6" cy="855.4" r="3.3" fill="#0a8196" stroke="#fff" stroke-width="0.45"/>
<circle cx="516.3" cy="855.4" r="3.3" fill="#0a8196" stroke="#fff" stroke-width="0.45"/>
<circle cx="518.5" cy="859.9" r="3.3" fill="#0a8196" stroke="#fff" stroke-width="0.45"/>
<circle cx="522.9" cy="859.9" r="3.3" fill="#0a8196" stroke="#fff" stroke-width="0.45"/>
<circle cx="536.1" cy="857.7" r="3.3" fill="#0a8196" stroke="#fff" stroke-width="0.45"/>
<circle cx="549.3" cy="854" r="3.3" fill="#0a8196" stroke="#fff" stroke-width="0.45"/>
<circle cx="553.7" cy="862.8" r="3.3" fill="#0a8196" stroke="#fff" stroke-width="0.45"/>
<circle cx="556.7" cy="859.9" r="3.3" fill="#0a8196" stroke="#fff" stroke-width="0.45"/>
<circle cx="559.6" cy="861.3" r="3.3" fill="#0a8196" stroke="#fff" stroke-width="0.45"/>
<circle cx="530.2" cy="864.3" r="3.3" fill="#0a8196" stroke="#fff" stroke-width="0.45"/>
<circle cx="533.2" cy="867.2" r="3.3" fill="#0a8196" stroke="#fff" stroke-width="0.45"/>
<circle cx="536.1" cy="868.7" r="3.3" fill="#0a8196" stroke="#fff" stroke-width="0.45"/>
<circle cx="517" cy="871.6" r="3.3" fill="#0a8196" stroke="#fff" stroke-width="0.45"/>
<circle cx="512.6" cy="871.6" r="3.3" fill="#0a8196" stroke="#fff" stroke-width="0.45"/>
<circle cx="514.1" cy="874.5" r="3.3" fill="#0a8196" stroke="#fff" stroke-width="0.45"/>
<circle cx="522.2" cy="875.3" r="3.3" fill="#0a8196" stroke="#fff" stroke-width="0.45"/>
<circle cx="550.8" cy="868.7" r="3.3" fill="#0a8196" stroke="#fff" stroke-width="0.45"/>
<circle cx="557.4" cy="873.4" r="3.3" fill="#0a8196" stroke="#fff" stroke-width="0.45"/>
<circle cx="530.2" cy="870.1" r="3.3" fill="#0a8196" stroke="#fff" stroke-width="0.45"/>
<circle cx="598" cy="785.3" r="3.3" fill="#0a8196" stroke="#fff" stroke-width="0.45"/>
<circle cx="605.4" cy="789.1" r="3.3" fill="#0a8196" stroke="#fff" stroke-width="0.45"/>
<circle cx="613.5" cy="806.7" r="3.3" fill="#0a8196" stroke="#fff" stroke-width="0.45"/>
<circle cx="611.3" cy="815.1" r="3.3" fill="#0a8196" stroke="#fff" stroke-width="0.45"/>
<circle cx="582.6" cy="815.5" r="3.3" fill="#0a8196" stroke="#fff" stroke-width="0.45"/>
<circle cx="571.6" cy="822.4" r="3.3" fill="#0a8196" stroke="#fff" stroke-width="0.45"/>
<circle cx="581.2" cy="823.9" r="3.3" fill="#0a8196" stroke="#fff" stroke-width="0.45"/>
<circle cx="591.4" cy="827.3" r="3.3" fill="#0a8196" stroke="#fff" stroke-width="0.45"/>
<circle cx="593.6" cy="826.4" r="3.3" fill="#0a8196" stroke="#fff" stroke-width="0.45"/>
<circle cx="606.9" cy="831.7" r="3.3" fill="#0a8196" stroke="#fff" stroke-width="0.45"/>
<circle cx="618.6" cy="826.4" r="3.3" fill="#0a8196" stroke="#fff" stroke-width="0.45"/>
<circle cx="576" cy="836.4" r="3.3" fill="#0a8196" stroke="#fff" stroke-width="0.45"/>
<circle cx="615.7" cy="837.1" r="3.3" fill="#0a8196" stroke="#fff" stroke-width="0.45"/>
<circle cx="595.1" cy="840" r="3.3" fill="#0a8196" stroke="#fff" stroke-width="0.45"/>
<circle cx="598.8" cy="840" r="3.3" fill="#0a8196" stroke="#fff" stroke-width="0.45"/>
<circle cx="609.1" cy="840.8" r="3.3" fill="#0a8196" stroke="#fff" stroke-width="0.45"/>
<circle cx="612" cy="843" r="3.3" fill="#0a8196" stroke="#fff" stroke-width="0.45"/>
<circle cx="585.6" cy="845.2" r="3.3" fill="#0a8196" stroke="#fff" stroke-width="0.45"/>
<circle cx="587.8" cy="848.1" r="3.3" fill="#0a8196" stroke="#fff" stroke-width="0.45"/>
<circle cx="595.8" cy="845.2" r="3.3" fill="#0a8196" stroke="#fff" stroke-width="0.45"/>
<circle cx="573.8" cy="848.1" r="3.3" fill="#0a8196" stroke="#fff" stroke-width="0.45"/>
<circle cx="571.6" cy="853.2" r="3.3" fill="#0a8196" stroke="#fff" stroke-width="0.45"/>
<circle cx="582.6" cy="854" r="3.3" fill="#0a8196" stroke="#fff" stroke-width="0.45"/>
<circle cx="587" cy="852.5" r="3.3" fill="#0a8196" stroke="#fff" stroke-width="0.45"/>
<circle cx="600.2" cy="854" r="3.3" fill="#0a8196" stroke="#fff" stroke-width="0.45"/>
<circle cx="607.6" cy="856.9" r="3.3" fill="#0a8196" stroke="#fff" stroke-width="0.45"/>
<circle cx="612" cy="856.2" r="3.3" fill="#0a8196" stroke="#fff" stroke-width="0.45"/>
<circle cx="615.7" cy="857.7" r="3.3" fill="#0a8196" stroke="#fff" stroke-width="0.45"/>
<circle cx="617.1" cy="861.3" r="3.3" fill="#0a8196" stroke="#fff" stroke-width="0.45"/>
<circle cx="570.9" cy="861.3" r="3.3" fill="#0a8196" stroke="#fff" stroke-width="0.45"/>
<circle cx="573.8" cy="862.8" r="3.3" fill="#0a8196" stroke="#fff" stroke-width="0.45"/>
<circle cx="578.2" cy="864.3" r="3.3" fill="#0a8196" stroke="#fff" stroke-width="0.45"/>
<circle cx="582.6" cy="862.8" r="3.3" fill="#0a8196" stroke="#fff" stroke-width="0.45"/>
<circle cx="587" cy="865.7" r="3.3" fill="#0a8196" stroke="#fff" stroke-width="0.45"/>
<circle cx="592.9" cy="859.9" r="3.3" fill="#0a8196" stroke="#fff" stroke-width="0.45"/>
<circle cx="594.4" cy="864.3" r="3.3" fill="#0a8196" stroke="#fff" stroke-width="0.45"/>
<circle cx="598.8" cy="867.2" r="3.3" fill="#0a8196" stroke="#fff" stroke-width="0.45"/>
<circle cx="603.2" cy="868.7" r="3.3" fill="#0a8196" stroke="#fff" stroke-width="0.45"/>
<circle cx="606.1" cy="871.6" r="3.3" fill="#0a8196" stroke="#fff" stroke-width="0.45"/>
<circle cx="609.1" cy="871.6" r="3.3" fill="#0a8196" stroke="#fff" stroke-width="0.45"/>
<circle cx="573.1" cy="870.1" r="3.3" fill="#0a8196" stroke="#fff" stroke-width="0.45"/>
<circle cx="573.8" cy="874.5" r="3.3" fill="#0a8196" stroke="#fff" stroke-width="0.45"/>
<circle cx="617.1" cy="877.5" r="3.3" fill="#0a8196" stroke="#fff" stroke-width="0.45"/>
<circle cx="659" cy="796.7" r="3.3" fill="#0a8196" stroke="#fff" stroke-width="0.45"/>
<circle cx="660.2" cy="805.5" r="3.3" fill="#0a8196" stroke="#fff" stroke-width="0.45"/>
<circle cx="654.6" cy="814" r="3.3" fill="#0a8196" stroke="#fff" stroke-width="0.45"/>
<circle cx="661.9" cy="813.2" r="3.3" fill="#0a8196" stroke="#fff" stroke-width="0.45"/>
<circle cx="664.1" cy="814.6" r="3.3" fill="#0a8196" stroke="#fff" stroke-width="0.45"/>
<circle cx="637" cy="823.1" r="3.3" fill="#0a8196" stroke="#fff" stroke-width="0.45"/>
<circle cx="638.4" cy="825.3" r="3.3" fill="#0a8196" stroke="#fff" stroke-width="0.45"/>
<circle cx="649.4" cy="823.4" r="3.3" fill="#0a8196" stroke="#fff" stroke-width="0.45"/>
<circle cx="677.3" cy="826.8" r="3.3" fill="#0a8196" stroke="#fff" stroke-width="0.45"/>
<circle cx="629.6" cy="834.2" r="3.3" fill="#0a8196" stroke="#fff" stroke-width="0.45"/>
<circle cx="642.1" cy="834.9" r="3.3" fill="#0a8196" stroke="#fff" stroke-width="0.45"/>
<circle cx="632.5" cy="840" r="3.3" fill="#0a8196" stroke="#fff" stroke-width="0.45"/>
<circle cx="635.5" cy="842.2" r="3.3" fill="#0a8196" stroke="#fff" stroke-width="0.45"/>
<circle cx="645" cy="840.8" r="3.3" fill="#0a8196" stroke="#fff" stroke-width="0.45"/>
<circle cx="650.2" cy="840" r="3.3" fill="#0a8196" stroke="#fff" stroke-width="0.45"/>
<circle cx="653.1" cy="843.7" r="3.3" fill="#0a8196" stroke="#fff" stroke-width="0.45"/>
<circle cx="631.1" cy="844.4" r="3.3" fill="#0a8196" stroke="#fff" stroke-width="0.45"/>
<circle cx="634" cy="848.1" r="3.3" fill="#0a8196" stroke="#fff" stroke-width="0.45"/>
<circle cx="638.4" cy="849.6" r="3.3" fill="#0a8196" stroke="#fff" stroke-width="0.45"/>
<circle cx="641.4" cy="848.1" r="3.3" fill="#0a8196" stroke="#fff" stroke-width="0.45"/>
<circle cx="651.6" cy="850.3" r="3.3" fill="#0a8196" stroke="#fff" stroke-width="0.45"/>
<circle cx="656" cy="851" r="3.3" fill="#0a8196" stroke="#fff" stroke-width="0.45"/>
<circle cx="667.8" cy="846.6" r="3.3" fill="#0a8196" stroke="#fff" stroke-width="0.45"/>
<circle cx="670.7" cy="849.6" r="3.3" fill="#0a8196" stroke="#fff" stroke-width="0.45"/>
<circle cx="675.1" cy="851.8" r="3.3" fill="#0a8196" stroke="#fff" stroke-width="0.45"/>
<circle cx="667.8" cy="854" r="3.3" fill="#0a8196" stroke="#fff" stroke-width="0.45"/>
<circle cx="673.7" cy="855.4" r="3.3" fill="#0a8196" stroke="#fff" stroke-width="0.45"/>
<circle cx="676.6" cy="859.9" r="3.3" fill="#0a8196" stroke="#fff" stroke-width="0.45"/>
<circle cx="631.1" cy="855.4" r="3.3" fill="#0a8196" stroke="#fff" stroke-width="0.45"/>
<circle cx="629.6" cy="861.3" r="3.3" fill="#0a8196" stroke="#fff" stroke-width="0.45"/>
<circle cx="635.5" cy="865" r="3.3" fill="#0a8196" stroke="#fff" stroke-width="0.45"/>
<circle cx="639.9" cy="867.2" r="3.3" fill="#0a8196" stroke="#fff" stroke-width="0.45"/>
<circle cx="644.3" cy="869.4" r="3.3" fill="#0a8196" stroke="#fff" stroke-width="0.45"/>
<circle cx="648.7" cy="863.5" r="3.3" fill="#0a8196" stroke="#fff" stroke-width="0.45"/>
<circle cx="653.1" cy="865.7" r="3.3" fill="#0a8196" stroke="#fff" stroke-width="0.45"/>
<circle cx="656" cy="867.2" r="3.3" fill="#0a8196" stroke="#fff" stroke-width="0.45"/>
<circle cx="660.4" cy="865.7" r="3.3" fill="#0a8196" stroke="#fff" stroke-width="0.45"/>
<circle cx="663.4" cy="868.7" r="3.3" fill="#0a8196" stroke="#fff" stroke-width="0.45"/>
<circle cx="669.3" cy="862.8" r="3.3" fill="#0a8196" stroke="#fff" stroke-width="0.45"/>
<circle cx="673.7" cy="865.7" r="3.3" fill="#0a8196" stroke="#fff" stroke-width="0.45"/>
<circle cx="676.6" cy="868.7" r="3.3" fill="#0a8196" stroke="#fff" stroke-width="0.45"/>
<circle cx="667.8" cy="871.6" r="3.3" fill="#0a8196" stroke="#fff" stroke-width="0.45"/>
<circle cx="673.7" cy="873.1" r="3.3" fill="#0a8196" stroke="#fff" stroke-width="0.45"/>
<circle cx="656" cy="873.1" r="3.3" fill="#0a8196" stroke="#fff" stroke-width="0.45"/>
<circle cx="660.4" cy="876" r="3.3" fill="#0a8196" stroke="#fff" stroke-width="0.45"/>
<circle cx="661.9" cy="878.9" r="3.3" fill="#0a8196" stroke="#fff" stroke-width="0.45"/>
<circle cx="631.8" cy="873.1" r="3.3" fill="#0a8196" stroke="#fff" stroke-width="0.45"/>
<circle cx="691.5" cy="786.7" r="3.3" fill="#0a8196" stroke="#fff" stroke-width="0.45"/>
<circle cx="701.8" cy="784.2" r="3.3" fill="#0a8196" stroke="#fff" stroke-width="0.45"/>
<circle cx="714.6" cy="791.6" r="3.3" fill="#0a8196" stroke="#fff" stroke-width="0.45"/>
<circle cx="703.7" cy="802.3" r="3.3" fill="#0a8196" stroke="#fff" stroke-width="0.45"/>
<circle cx="712.8" cy="802.9" r="3.3" fill="#0a8196" stroke="#fff" stroke-width="0.45"/>
<circle cx="729.7" cy="805.8" r="3.3" fill="#0a8196" stroke="#fff" stroke-width="0.45"/>
<circle cx="690.1" cy="818" r="3.3" fill="#0a8196" stroke="#fff" stroke-width="0.45"/>
<circle cx="706.2" cy="821.4" r="3.3" fill="#0a8196" stroke="#fff" stroke-width="0.45"/>
<circle cx="711.4" cy="818.7" r="3.3" fill="#0a8196" stroke="#fff" stroke-width="0.45"/>
<circle cx="724.6" cy="819" r="3.3" fill="#0a8196" stroke="#fff" stroke-width="0.45"/>
<circle cx="731.2" cy="819.5" r="3.3" fill="#0a8196" stroke="#fff" stroke-width="0.45"/>
<circle cx="732.7" cy="825.3" r="3.3" fill="#0a8196" stroke="#fff" stroke-width="0.45"/>
<circle cx="701.8" cy="829.3" r="3.3" fill="#0a8196" stroke="#fff" stroke-width="0.45"/>
<circle cx="688.6" cy="832.7" r="3.3" fill="#0a8196" stroke="#fff" stroke-width="0.45"/>
<circle cx="693.7" cy="834.9" r="3.3" fill="#0a8196" stroke="#fff" stroke-width="0.45"/>
<circle cx="704" cy="833.4" r="3.3" fill="#0a8196" stroke="#fff" stroke-width="0.45"/>
<circle cx="707" cy="832" r="3.3" fill="#0a8196" stroke="#fff" stroke-width="0.45"/>
<circle cx="716.5" cy="832.2" r="3.3" fill="#0a8196" stroke="#fff" stroke-width="0.45"/>
<circle cx="721.6" cy="827.8" r="3.3" fill="#0a8196" stroke="#fff" stroke-width="0.45"/>
<circle cx="726.1" cy="832" r="3.3" fill="#0a8196" stroke="#fff" stroke-width="0.45"/>
<circle cx="734.9" cy="832" r="3.3" fill="#0a8196" stroke="#fff" stroke-width="0.45"/>
<circle cx="736.3" cy="840.5" r="3.3" fill="#0a8196" stroke="#fff" stroke-width="0.45"/>
<circle cx="695.2" cy="839.3" r="3.3" fill="#0a8196" stroke="#fff" stroke-width="0.45"/>
<circle cx="698.2" cy="843.7" r="3.3" fill="#0a8196" stroke="#fff" stroke-width="0.45"/>
<circle cx="699.6" cy="846.6" r="3.3" fill="#0a8196" stroke="#fff" stroke-width="0.45"/>
<circle cx="696.7" cy="851" r="3.3" fill="#0a8196" stroke="#fff" stroke-width="0.45"/>
<circle cx="698.2" cy="854" r="3.3" fill="#0a8196" stroke="#fff" stroke-width="0.45"/>
<circle cx="708.4" cy="848.1" r="3.3" fill="#0a8196" stroke="#fff" stroke-width="0.45"/>
<circle cx="709.9" cy="845.9" r="3.3" fill="#0a8196" stroke="#fff" stroke-width="0.45"/>
<circle cx="717.2" cy="843" r="3.3" fill="#0a8196" stroke="#fff" stroke-width="0.45"/>
<circle cx="723.1" cy="845.2" r="3.3" fill="#0a8196" stroke="#fff" stroke-width="0.45"/>
<circle cx="726.1" cy="843.7" r="3.3" fill="#0a8196" stroke="#fff" stroke-width="0.45"/>
<circle cx="730.5" cy="848.1" r="3.3" fill="#0a8196" stroke="#fff" stroke-width="0.45"/>
<circle cx="733.4" cy="846.6" r="3.3" fill="#0a8196" stroke="#fff" stroke-width="0.45"/>
<circle cx="718.7" cy="852.5" r="3.3" fill="#0a8196" stroke="#fff" stroke-width="0.45"/>
<circle cx="720.2" cy="855.4" r="3.3" fill="#0a8196" stroke="#fff" stroke-width="0.45"/>
<circle cx="723.1" cy="858.4" r="3.3" fill="#0a8196" stroke="#fff" stroke-width="0.45"/>
<circle cx="727.5" cy="859.9" r="3.3" fill="#0a8196" stroke="#fff" stroke-width="0.45"/>
<circle cx="734.9" cy="856.9" r="3.3" fill="#0a8196" stroke="#fff" stroke-width="0.45"/>
<circle cx="688.6" cy="857.7" r="3.3" fill="#0a8196" stroke="#fff" stroke-width="0.45"/>
<circle cx="693" cy="861.3" r="3.3" fill="#0a8196" stroke="#fff" stroke-width="0.45"/>
<circle cx="698.2" cy="864.3" r="3.3" fill="#0a8196" stroke="#fff" stroke-width="0.45"/>
<circle cx="709.9" cy="861.3" r="3.3" fill="#0a8196" stroke="#fff" stroke-width="0.45"/>
<circle cx="717.2" cy="859.9" r="3.3" fill="#0a8196" stroke="#fff" stroke-width="0.45"/>
<circle cx="730.5" cy="862.8" r="3.3" fill="#0a8196" stroke="#fff" stroke-width="0.45"/>
<circle cx="692.3" cy="868.7" r="3.3" fill="#0a8196" stroke="#fff" stroke-width="0.45"/>
<circle cx="697.4" cy="873.1" r="3.3" fill="#0a8196" stroke="#fff" stroke-width="0.45"/>
<circle cx="708.4" cy="873.1" r="3.3" fill="#0a8196" stroke="#fff" stroke-width="0.45"/>
<circle cx="712.8" cy="871.6" r="3.3" fill="#0a8196" stroke="#fff" stroke-width="0.45"/>
<circle cx="716.5" cy="868.7" r="3.3" fill="#0a8196" stroke="#fff" stroke-width="0.45"/>
<circle cx="720.2" cy="867.2" r="3.3" fill="#0a8196" stroke="#fff" stroke-width="0.45"/>
<circle cx="714.3" cy="875.3" r="3.3" fill="#0a8196" stroke="#fff" stroke-width="0.45"/>
<circle cx="727.5" cy="876.7" r="3.3" fill="#0a8196" stroke="#fff" stroke-width="0.45"/>
<circle cx="779.2" cy="794.2" r="3.3" fill="#0a8196" stroke="#fff" stroke-width="0.45"/>
<circle cx="751" cy="811.7" r="3.3" fill="#0a8196" stroke="#fff" stroke-width="0.45"/>
<circle cx="756.9" cy="818.7" r="3.3" fill="#0a8196" stroke="#fff" stroke-width="0.45"/>
<circle cx="763.5" cy="817.6" r="3.3" fill="#0a8196" stroke="#fff" stroke-width="0.45"/>
<circle cx="789.2" cy="819" r="3.3" fill="#0a8196" stroke="#fff" stroke-width="0.45"/>
<circle cx="781.1" cy="821.7" r="3.3" fill="#0a8196" stroke="#fff" stroke-width="0.45"/>
<circle cx="746.6" cy="831.2" r="3.3" fill="#0a8196" stroke="#fff" stroke-width="0.45"/>
<circle cx="748.1" cy="830.5" r="3.3" fill="#0a8196" stroke="#fff" stroke-width="0.45"/>
<circle cx="761.3" cy="829.8" r="3.3" fill="#0a8196" stroke="#fff" stroke-width="0.45"/>
<circle cx="780.4" cy="831.2" r="3.3" fill="#0a8196" stroke="#fff" stroke-width="0.45"/>
<circle cx="792.1" cy="830.5" r="3.3" fill="#0a8196" stroke="#fff" stroke-width="0.45"/>
<circle cx="795.1" cy="835.6" r="3.3" fill="#0a8196" stroke="#fff" stroke-width="0.45"/>
<circle cx="754" cy="839.3" r="3.3" fill="#0a8196" stroke="#fff" stroke-width="0.45"/>
<circle cx="758.4" cy="840" r="3.3" fill="#0a8196" stroke="#fff" stroke-width="0.45"/>
<circle cx="764.2" cy="836.4" r="3.3" fill="#0a8196" stroke="#fff" stroke-width="0.45"/>
<circle cx="767.2" cy="834.2" r="3.3" fill="#0a8196" stroke="#fff" stroke-width="0.45"/>
<circle cx="771.6" cy="834.2" r="3.3" fill="#0a8196" stroke="#fff" stroke-width="0.45"/>
<circle cx="783.3" cy="837.8" r="3.3" fill="#0a8196" stroke="#fff" stroke-width="0.45"/>
<circle cx="784.8" cy="843.7" r="3.3" fill="#0a8196" stroke="#fff" stroke-width="0.45"/>
<circle cx="793.6" cy="848.8" r="3.3" fill="#0a8196" stroke="#fff" stroke-width="0.45"/>
<circle cx="770.1" cy="842.2" r="3.3" fill="#0a8196" stroke="#fff" stroke-width="0.45"/>
<circle cx="776" cy="845.2" r="3.3" fill="#0a8196" stroke="#fff" stroke-width="0.45"/>
<circle cx="777.4" cy="848.1" r="3.3" fill="#0a8196" stroke="#fff" stroke-width="0.45"/>
<circle cx="751" cy="849.6" r="3.3" fill="#0a8196" stroke="#fff" stroke-width="0.45"/>
<circle cx="748.1" cy="855.4" r="3.3" fill="#0a8196" stroke="#fff" stroke-width="0.45"/>
<circle cx="751" cy="856.9" r="3.3" fill="#0a8196" stroke="#fff" stroke-width="0.45"/>
<circle cx="756.9" cy="849.6" r="3.3" fill="#0a8196" stroke="#fff" stroke-width="0.45"/>
<circle cx="761.3" cy="846.6" r="3.3" fill="#0a8196" stroke="#fff" stroke-width="0.45"/>
<circle cx="764.2" cy="848.1" r="3.3" fill="#0a8196" stroke="#fff" stroke-width="0.45"/>
<circle cx="767.2" cy="851" r="3.3" fill="#0a8196" stroke="#fff" stroke-width="0.45"/>
<circle cx="770.1" cy="854" r="3.3" fill="#0a8196" stroke="#fff" stroke-width="0.45"/>
<circle cx="771.6" cy="856.9" r="3.3" fill="#0a8196" stroke="#fff" stroke-width="0.45"/>
<circle cx="768.6" cy="861.3" r="3.3" fill="#0a8196" stroke="#fff" stroke-width="0.45"/>
<circle cx="773" cy="861.3" r="3.3" fill="#0a8196" stroke="#fff" stroke-width="0.45"/>
<circle cx="776" cy="865.7" r="3.3" fill="#0a8196" stroke="#fff" stroke-width="0.45"/>
<circle cx="778.9" cy="870.1" r="3.3" fill="#0a8196" stroke="#fff" stroke-width="0.45"/>
<circle cx="784.8" cy="861.3" r="3.3" fill="#0a8196" stroke="#fff" stroke-width="0.45"/>
<circle cx="789.2" cy="861.3" r="3.3" fill="#0a8196" stroke="#fff" stroke-width="0.45"/>
<circle cx="790.7" cy="864.3" r="3.3" fill="#0a8196" stroke="#fff" stroke-width="0.45"/>
<circle cx="793.6" cy="868.7" r="3.3" fill="#0a8196" stroke="#fff" stroke-width="0.45"/>
<circle cx="751.8" cy="865" r="3.3" fill="#0a8196" stroke="#fff" stroke-width="0.45"/>
<circle cx="759.8" cy="873.1" r="3.3" fill="#0a8196" stroke="#fff" stroke-width="0.45"/>
<circle cx="764.2" cy="868.7" r="3.3" fill="#0a8196" stroke="#fff" stroke-width="0.45"/>
<circle cx="767.2" cy="867.2" r="3.3" fill="#0a8196" stroke="#fff" stroke-width="0.45"/>
<circle cx="770.1" cy="871.6" r="3.3" fill="#0a8196" stroke="#fff" stroke-width="0.45"/>
<circle cx="774.5" cy="874.5" r="3.3" fill="#0a8196" stroke="#fff" stroke-width="0.45"/>
<circle cx="751" cy="878.9" r="3.3" fill="#0a8196" stroke="#fff" stroke-width="0.45"/>
<circle cx="793.6" cy="878.9" r="3.3" fill="#0a8196" stroke="#fff" stroke-width="0.45"/>
<circle cx="425.4" cy="734.7" r="3.3" fill="#0a8196" stroke="#fff" stroke-width="0.45"/>
<circle cx="666" cy="744.3" r="3.3" fill="#0a8196" stroke="#fff" stroke-width="0.45"/>
<circle cx="934" cy="733.7" r="3.3" fill="#0a8196" stroke="#fff" stroke-width="0.45"/>
<circle cx="963" cy="720.9" r="3.3" fill="#0a8196" stroke="#fff" stroke-width="0.45"/>
<circle cx="993" cy="752.8" r="3.3" fill="#0a8196" stroke="#fff" stroke-width="0.45"/>
<polygon points="241.9,832.7 238.6,838.9 245.2,838.9" fill="#f2550a" stroke="#fff" stroke-width="0.5"/>
<polygon points="236,845.1 232.7,851.3 239.3,851.3" fill="#f2550a" stroke="#fff" stroke-width="0.5"/>
<polygon points="245.6,853.2 242.3,859.4 248.9,859.4" fill="#f2550a" stroke="#fff" stroke-width="0.5"/>
<polygon points="219.9,869.4 216.6,875.6 223.2,875.6" fill="#f2550a" stroke="#fff" stroke-width="0.5"/>
<polygon points="228.7,874.5 225.4,880.7 232,880.7" fill="#f2550a" stroke="#fff" stroke-width="0.5"/>
<polygon points="258.1,875.2 254.8,881.4 261.4,881.4" fill="#f2550a" stroke="#fff" stroke-width="0.5"/>
<polygon points="268.3,875.2 265,881.4 271.6,881.4" fill="#f2550a" stroke="#fff" stroke-width="0.5"/>
<polygon points="316.1,824.6 312.8,830.8 319.4,830.8" fill="#f2550a" stroke="#fff" stroke-width="0.5"/>
<polygon points="307.2,837.1 303.9,843.3 310.5,843.3" fill="#f2550a" stroke="#fff" stroke-width="0.5"/>
<polygon points="277.1,844.4 273.8,850.6 280.4,850.6" fill="#f2550a" stroke="#fff" stroke-width="0.5"/>
<polygon points="290.4,845.9 287.1,852.1 293.7,852.1" fill="#f2550a" stroke="#fff" stroke-width="0.5"/>
<polygon points="316.8,844.4 313.5,850.6 320.1,850.6" fill="#f2550a" stroke="#fff" stroke-width="0.5"/>
<polygon points="286,858.4 282.7,864.6 289.3,864.6" fill="#f2550a" stroke="#fff" stroke-width="0.5"/>
<polygon points="302.1,862 298.8,868.2 305.4,868.2" fill="#f2550a" stroke="#fff" stroke-width="0.5"/>
<polygon points="294.8,865.7 291.5,871.9 298.1,871.9" fill="#f2550a" stroke="#fff" stroke-width="0.5"/>
<polygon points="304.3,870.1 301,876.3 307.6,876.3" fill="#f2550a" stroke="#fff" stroke-width="0.5"/>
<polygon points="293.3,872.3 290,878.5 296.6,878.5" fill="#f2550a" stroke="#fff" stroke-width="0.5"/>
<polygon points="810.7,815 807.4,821.2 814,821.2" fill="#f2550a" stroke="#fff" stroke-width="0.5"/>
<polygon points="849.7,841.5 846.4,847.7 853,847.7" fill="#f2550a" stroke="#fff" stroke-width="0.5"/>
<polygon points="808.5,864.2 805.2,870.4 811.8,870.4" fill="#f2550a" stroke="#fff" stroke-width="0.5"/>
<polygon points="845.3,874.5 842,880.7 848.6,880.7" fill="#f2550a" stroke="#fff" stroke-width="0.5"/>
<polygon points="875.4,805.5 872.1,811.7 878.7,811.7" fill="#f2550a" stroke="#fff" stroke-width="0.5"/>
<polygon points="890,823.8 886.7,830 893.3,830" fill="#f2550a" stroke="#fff" stroke-width="0.5"/>
<polygon points="896.7,869.4 893.4,875.6 900,875.6" fill="#f2550a" stroke="#fff" stroke-width="0.5"/>
<polygon points="910.9,874.5 907.6,880.7 914.2,880.7" fill="#f2550a" stroke="#fff" stroke-width="0.5"/>
<polygon points="960.1,833.4 956.8,839.6 963.4,839.6" fill="#f2550a" stroke="#fff" stroke-width="0.5"/>
<polygon points="940.2,862 936.9,868.2 943.5,868.2" fill="#f2550a" stroke="#fff" stroke-width="0.5"/>
<polygon points="968.9,871.6 965.6,877.8 972.2,877.8" fill="#f2550a" stroke="#fff" stroke-width="0.5"/>
<polygon points="990.9,853.2 987.6,859.4 994.2,859.4" fill="#f2550a" stroke="#fff" stroke-width="0.5"/>
<polygon points="990.9,856.2 987.6,862.4 994.2,862.4" fill="#f2550a" stroke="#fff" stroke-width="0.5"/>
<polygon points="1003.7,876.7 1000.4,882.9 1007,882.9" fill="#f2550a" stroke="#fff" stroke-width="0.5"/>
<polygon points="1084.4,837.1 1081.1,843.3 1087.7,843.3" fill="#f2550a" stroke="#fff" stroke-width="0.5"/>
<polygon points="1071.5,854 1068.2,860.2 1074.8,860.2" fill="#f2550a" stroke="#fff" stroke-width="0.5"/>
<polygon points="1163.2,859.8 1159.9,866 1166.5,866" fill="#f2550a" stroke="#fff" stroke-width="0.5"/>
<polygon points="348.6,793 345.3,799.2 351.9,799.2" fill="#f2550a" stroke="#fff" stroke-width="0.5"/>
<polygon points="369.9,812.8 366.6,819 373.2,819" fill="#f2550a" stroke="#fff" stroke-width="0.5"/>
<polygon points="337.6,819.4 334.3,825.6 340.9,825.6" fill="#f2550a" stroke="#fff" stroke-width="0.5"/>
<polygon points="353,834.1 349.7,840.3 356.3,840.3" fill="#f2550a" stroke="#fff" stroke-width="0.5"/>
<polygon points="353.8,851 350.5,857.2 357.1,857.2" fill="#f2550a" stroke="#fff" stroke-width="0.5"/>
<polygon points="358.2,859.8 354.9,866 361.5,866" fill="#f2550a" stroke="#fff" stroke-width="0.5"/>
<polygon points="364.8,861.3 361.5,867.5 368.1,867.5" fill="#f2550a" stroke="#fff" stroke-width="0.5"/>
<polygon points="341.3,865.7 338,871.9 344.6,871.9" fill="#f2550a" stroke="#fff" stroke-width="0.5"/>
<polygon points="337.6,869.4 334.3,875.6 340.9,875.6" fill="#f2550a" stroke="#fff" stroke-width="0.5"/>
<polygon points="363.3,869.4 360,875.6 366.6,875.6" fill="#f2550a" stroke="#fff" stroke-width="0.5"/>
<polygon points="404.4,782.7 401.1,788.9 407.7,788.9" fill="#f2550a" stroke="#fff" stroke-width="0.5"/>
<polygon points="396.8,802.6 393.5,808.8 400.1,808.8" fill="#f2550a" stroke="#fff" stroke-width="0.5"/>
<polygon points="397.8,825.3 394.5,831.5 401.1,831.5" fill="#f2550a" stroke="#fff" stroke-width="0.5"/>
<polygon points="403,829.7 399.7,835.9 406.3,835.9" fill="#f2550a" stroke="#fff" stroke-width="0.5"/>
<polygon points="405.9,830.9 402.6,837.1 409.2,837.1" fill="#f2550a" stroke="#fff" stroke-width="0.5"/>
<polygon points="415.1,850.3 411.8,856.5 418.4,856.5" fill="#f2550a" stroke="#fff" stroke-width="0.5"/>
<polygon points="400,856.2 396.7,862.4 403.3,862.4" fill="#f2550a" stroke="#fff" stroke-width="0.5"/>
<polygon points="402.2,866.4 398.9,872.6 405.5,872.6" fill="#f2550a" stroke="#fff" stroke-width="0.5"/>
<polygon points="462,821.6 458.7,827.8 465.3,827.8" fill="#f2550a" stroke="#fff" stroke-width="0.5"/>
<polygon points="468.6,853.2 465.3,859.4 471.9,859.4" fill="#f2550a" stroke="#fff" stroke-width="0.5"/>
<polygon points="481,857.6 477.7,863.8 484.3,863.8" fill="#f2550a" stroke="#fff" stroke-width="0.5"/>
<polygon points="469.3,870.1 466,876.3 472.6,876.3" fill="#f2550a" stroke="#fff" stroke-width="0.5"/>
<polygon points="524.1,772.7 520.8,778.9 527.4,778.9" fill="#f2550a" stroke="#fff" stroke-width="0.5"/>
<polygon points="547.3,790.8 544,797 550.6,797" fill="#f2550a" stroke="#fff" stroke-width="0.5"/>
<polygon points="545.9,841.8 542.6,848 549.2,848" fill="#f2550a" stroke="#fff" stroke-width="0.5"/>
<polygon points="550.3,870.1 547,876.3 553.6,876.3" fill="#f2550a" stroke="#fff" stroke-width="0.5"/>
<polygon points="590.7,793 587.4,799.2 594,799.2" fill="#f2550a" stroke="#fff" stroke-width="0.5"/>
<polygon points="615.7,798.9 612.4,805.1 619,805.1" fill="#f2550a" stroke="#fff" stroke-width="0.5"/>
<polygon points="601.4,807.7 598.1,813.9 604.7,813.9" fill="#f2550a" stroke="#fff" stroke-width="0.5"/>
<polygon points="575,823.1 571.7,829.3 578.3,829.3" fill="#f2550a" stroke="#fff" stroke-width="0.5"/>
<polygon points="578.2,827.5 574.9,833.7 581.5,833.7" fill="#f2550a" stroke="#fff" stroke-width="0.5"/>
<polygon points="609.8,842.9 606.5,849.1 613.1,849.1" fill="#f2550a" stroke="#fff" stroke-width="0.5"/>
<polygon points="579.7,848.8 576.4,855 583,855" fill="#f2550a" stroke="#fff" stroke-width="0.5"/>
<polygon points="586.3,858.4 583,864.6 589.6,864.6" fill="#f2550a" stroke="#fff" stroke-width="0.5"/>
<polygon points="592.2,856.2 588.9,862.4 595.5,862.4" fill="#f2550a" stroke="#fff" stroke-width="0.5"/>
<polygon points="598.8,859.8 595.5,866 602.1,866" fill="#f2550a" stroke="#fff" stroke-width="0.5"/>
<polygon points="602.4,861.3 599.1,867.5 605.7,867.5" fill="#f2550a" stroke="#fff" stroke-width="0.5"/>
<polygon points="648,826.5 644.7,832.7 651.3,832.7" fill="#f2550a" stroke="#fff" stroke-width="0.5"/>
<polygon points="645,841.2 641.7,847.4 648.3,847.4" fill="#f2550a" stroke="#fff" stroke-width="0.5"/>
<polygon points="629.6,874.5 626.3,880.7 632.9,880.7" fill="#f2550a" stroke="#fff" stroke-width="0.5"/>
<polygon points="637.7,873.8 634.4,880 641,880" fill="#f2550a" stroke="#fff" stroke-width="0.5"/>
<polygon points="710.6,834.9 707.3,841.1 713.9,841.1" fill="#f2550a" stroke="#fff" stroke-width="0.5"/>
<polygon points="715.8,844.4 712.5,850.6 719.1,850.6" fill="#f2550a" stroke="#fff" stroke-width="0.5"/>
<polygon points="734.9,864.2 731.6,870.4 738.2,870.4" fill="#f2550a" stroke="#fff" stroke-width="0.5"/>
<polygon points="688.6,874.5 685.3,880.7 691.9,880.7" fill="#f2550a" stroke="#fff" stroke-width="0.5"/>
<polygon points="778.2,820.9 774.9,827.1 781.5,827.1" fill="#f2550a" stroke="#fff" stroke-width="0.5"/>
<polygon points="782.6,856.2 779.3,862.4 785.9,862.4" fill="#f2550a" stroke="#fff" stroke-width="0.5"/>
<polygon points="787.7,868.6 784.4,874.8 791,874.8" fill="#f2550a" stroke="#fff" stroke-width="0.5"/>
<polygon points="746.6,870.1 743.3,876.3 749.9,876.3" fill="#f2550a" stroke="#fff" stroke-width="0.5"/>
<polygon points="745.9,892.9 742.6,899.1 749.2,899.1" fill="#f2550a" stroke="#fff" stroke-width="0.5"/>
<rect x="227.2" y="709.5" width="117.8" height="52.1" rx="3" fill="#fff" fill-opacity="0.82" stroke="#e0e0e0" stroke-width="1"/>
<circle cx="247.6" cy="723.2" r="4.8" fill="#0b869c"/>
<polygon points="247.6,741.5 242,751 253.2,751" fill="#f2550a"/>
<text x="277.5" y="728.6" font-size="16.2" text-anchor="start" font-weight="normal" fill="#1a1a1a" >success</text>
<text x="277.5" y="752.3" font-size="16.2" text-anchor="start" font-weight="normal" fill="#1a1a1a" >failure</text>
<line x1="612.2" y1="678.4" x2="753.2" y2="678.4" stroke="#111" stroke-width="1.6" />
<line x1="682.3" y1="678.4" x2="682.3" y2="761" stroke="#111" stroke-width="1.6" />
<text x="651.8" y="714.2" font-size="22" text-anchor="middle" font-weight="normal" fill="#111" >6x6</text>
<text x="727.9" y="714.2" font-size="22" text-anchor="middle" font-weight="normal" fill="#111" >14x14</text>
<line x1="625" y1="708.3" x2="592.5" y2="708.3" stroke="#111" stroke-width="1.8" />
<polygon points="585.5,708.3 594.5,702.7 592.5,708.3 594.5,713.9" fill="#111"/>
<line x1="768.3" y1="708.3" x2="801.3" y2="708.3" stroke="#111" stroke-width="1.8" />
<polygon points="808.3,708.3 799.3,702.7 801.3,708.3 799.3,713.9" fill="#111"/>
<line x1="1307.2" y1="616" x2="1307.2" y2="923.5" stroke="#111" stroke-width="1.7" />
<line x1="1304" y1="923.5" x2="1308" y2="923.5" stroke="#111" stroke-width="1.4" />
<text x="1301.7" y="929.7" font-size="17" text-anchor="end" font-weight="normal" fill="#1a1a1a" >0</text>
<line x1="1304" y1="862" x2="1308" y2="862" stroke="#111" stroke-width="1.4" />
<text x="1301.7" y="868.2" font-size="17" text-anchor="end" font-weight="normal" fill="#1a1a1a" >1</text>
<line x1="1304" y1="800.5" x2="1308" y2="800.5" stroke="#111" stroke-width="1.4" />
<text x="1301.7" y="806.7" font-size="17" text-anchor="end" font-weight="normal" fill="#1a1a1a" >2</text>
<line x1="1304" y1="739" x2="1308" y2="739" stroke="#111" stroke-width="1.4" />
<text x="1301.7" y="745.2" font-size="17" text-anchor="end" font-weight="normal" fill="#1a1a1a" >3</text>
<line x1="1304" y1="677.5" x2="1308" y2="677.5" stroke="#111" stroke-width="1.4" />
<text x="1301.7" y="683.7" font-size="17" text-anchor="end" font-weight="normal" fill="#1a1a1a" >4</text>
<line x1="1304" y1="616" x2="1308" y2="616" stroke="#111" stroke-width="1.4" />
<text x="1301.7" y="622.2" font-size="17" text-anchor="end" font-weight="normal" fill="#1a1a1a" >5</text>
<text x="0" y="0" font-size="20.1" text-anchor="middle" fill="#1a1a1a" transform="translate(1269.6,769.6) rotate(-90)">bitrate (bps)</text>
<circle cx="1341.1" cy="820.3" r="3.9" fill="#7c4fb8"/>
<circle cx="1349.2" cy="815.1" r="3.9" fill="#7c4fb8"/>
<circle cx="1357.2" cy="818.3" r="3.9" fill="#7c4fb8"/>
<circle cx="1365.5" cy="839.7" r="3.9" fill="#7c4fb8"/>
<circle cx="1373.6" cy="811.3" r="3.9" fill="#7c4fb8"/>
<circle cx="1381.6" cy="818.3" r="3.9" fill="#7c4fb8"/>
<circle cx="1389.7" cy="843.5" r="3.9" fill="#7c4fb8"/>
<circle cx="1397.8" cy="801.2" r="3.9" fill="#7c4fb8"/>
<circle cx="1431.7" cy="765" r="3.9" fill="#7c4fb8"/>
<circle cx="1438.8" cy="749.6" r="3.9" fill="#7c4fb8"/>
<circle cx="1445.8" cy="739" r="3.9" fill="#7c4fb8"/>
<circle cx="1452.9" cy="752.1" r="3.9" fill="#7c4fb8"/>
<circle cx="1459.9" cy="741.5" r="3.9" fill="#7c4fb8"/>
<circle cx="1467" cy="749.6" r="3.9" fill="#7c4fb8"/>
<circle cx="1474" cy="736.5" r="3.9" fill="#7c4fb8"/>
<circle cx="1481.3" cy="728.4" r="3.9" fill="#7c4fb8"/>
<circle cx="1488.4" cy="744.3" r="3.9" fill="#7c4fb8"/>
<polygon points="1520.2,744.8 1529.2,740.2 1529.2,749.4" fill="#7c4fb8"/>
<text x="1537.5" y="749.6" font-size="14.7" text-anchor="start" font-weight="bold" fill="#7c4fb8" >T15 optimized (2.90)</text>
<polygon points="1520.2,820.8 1529.2,816.2 1529.2,825.4" fill="#7c4fb8"/>
<text x="1537.5" y="825.6" font-size="14.7" text-anchor="start" font-weight="bold" fill="#7c4fb8" >T15 preliminary (1.67)</text>
<polygon points="1520.2,665.2 1529.2,660.6 1529.2,669.8" fill="none" stroke="#404040" stroke-width="1.5"/>
<text x="1537.5" y="669.8" font-size="14.7" text-anchor="start" font-weight="normal" fill="#404040" >T5</text>
<polygon points="1520.2,788.1 1529.2,783.5 1529.2,792.7" fill="none" stroke="#404040" stroke-width="1.5"/>
<text x="1537.5" y="792.8" font-size="14.7" text-anchor="start" font-weight="normal" fill="#404040" >T6</text>
<polygon points="1520.2,837.2 1529.2,832.6 1529.2,841.8" fill="none" stroke="#404040" stroke-width="1.5"/>
<text x="1537.5" y="841.8" font-size="14.7" text-anchor="start" font-weight="normal" fill="#404040" >T7</text>
<text x="1330.5" y="897.6" font-size="15.4" text-anchor="start" font-weight="normal" fill="#1a1a1a" >block</text>
<line x1="1379.4" y1="893.1" x2="1427" y2="893.1" stroke="#111" stroke-width="1.6" />
<polygon points="1433.5,893.1 1424.5,888.2 1426.5,893.1 1424.5,898" fill="#111"/>
<rect x="1425.5" y="577" width="281.4" height="45.8" rx="3" fill="#fff" stroke="#e0e0e0" stroke-width="1.1"/>
<polygon points="1441.7,588.5 1450.7,583.9 1450.7,593.1" fill="#7c4fb8"/>
<polygon points="1441.7,609.7 1450.7,605.1 1450.7,614.3" fill="none" stroke="#404040" stroke-width="1.5"/>
<text x="1472.5" y="593" font-size="14.7" text-anchor="start" font-weight="bold" fill="#7c4fb8" >this study (vPCG)</text>
<text x="1472.5" y="615" font-size="14.7" text-anchor="start" font-weight="normal" fill="#4a4a4a" >Pandarinath et al. 2017 (dPCG)</text>
</svg></body></html>
